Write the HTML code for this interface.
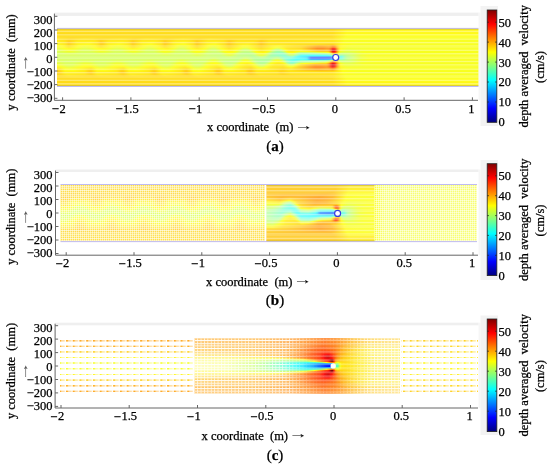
<!DOCTYPE html>
<html><head><meta charset="utf-8"><style>
html,body{margin:0;padding:0;background:#fff;width:550px;height:467px;overflow:hidden}
svg{display:block}
.t{font-family:'Liberation Serif', 'Times New Roman', serif;font-size:12.5px;fill:#000;stroke:#000;stroke-width:0.25px}
</style></head><body>
<svg width="550" height="467" viewBox="0 0 550 467"><defs><linearGradient id="jet" x1="0" y1="0" x2="0" y2="1"><stop offset="0.0000" stop-color="#800000"/><stop offset="0.0156" stop-color="#8f0000"/><stop offset="0.0312" stop-color="#9f0000"/><stop offset="0.0469" stop-color="#af0000"/><stop offset="0.0625" stop-color="#bf0000"/><stop offset="0.0781" stop-color="#cf0000"/><stop offset="0.0938" stop-color="#df0000"/><stop offset="0.1094" stop-color="#ef0000"/><stop offset="0.1250" stop-color="#ff0000"/><stop offset="0.1406" stop-color="#ff1000"/><stop offset="0.1562" stop-color="#ff2000"/><stop offset="0.1719" stop-color="#ff3000"/><stop offset="0.1875" stop-color="#ff4000"/><stop offset="0.2031" stop-color="#ff5000"/><stop offset="0.2188" stop-color="#ff6000"/><stop offset="0.2344" stop-color="#ff7000"/><stop offset="0.2500" stop-color="#ff8000"/><stop offset="0.2656" stop-color="#ff8f00"/><stop offset="0.2812" stop-color="#ff9f00"/><stop offset="0.2969" stop-color="#ffaf00"/><stop offset="0.3125" stop-color="#ffbf00"/><stop offset="0.3281" stop-color="#ffcf00"/><stop offset="0.3438" stop-color="#ffdf00"/><stop offset="0.3594" stop-color="#ffef00"/><stop offset="0.3750" stop-color="#ffff00"/><stop offset="0.3906" stop-color="#efff10"/><stop offset="0.4062" stop-color="#dfff20"/><stop offset="0.4219" stop-color="#cfff30"/><stop offset="0.4375" stop-color="#bfff40"/><stop offset="0.4531" stop-color="#afff50"/><stop offset="0.4688" stop-color="#9fff60"/><stop offset="0.4844" stop-color="#8fff70"/><stop offset="0.5000" stop-color="#80ff80"/><stop offset="0.5156" stop-color="#70ff8f"/><stop offset="0.5312" stop-color="#60ff9f"/><stop offset="0.5469" stop-color="#50ffaf"/><stop offset="0.5625" stop-color="#40ffbf"/><stop offset="0.5781" stop-color="#30ffcf"/><stop offset="0.5938" stop-color="#20ffdf"/><stop offset="0.6094" stop-color="#10ffef"/><stop offset="0.6250" stop-color="#00ffff"/><stop offset="0.6406" stop-color="#00efff"/><stop offset="0.6562" stop-color="#00dfff"/><stop offset="0.6719" stop-color="#00cfff"/><stop offset="0.6875" stop-color="#00bfff"/><stop offset="0.7031" stop-color="#00afff"/><stop offset="0.7188" stop-color="#009fff"/><stop offset="0.7344" stop-color="#008fff"/><stop offset="0.7500" stop-color="#0080ff"/><stop offset="0.7656" stop-color="#0070ff"/><stop offset="0.7812" stop-color="#0060ff"/><stop offset="0.7969" stop-color="#0050ff"/><stop offset="0.8125" stop-color="#0040ff"/><stop offset="0.8281" stop-color="#0030ff"/><stop offset="0.8438" stop-color="#0020ff"/><stop offset="0.8594" stop-color="#0010ff"/><stop offset="0.8750" stop-color="#0000ff"/><stop offset="0.8906" stop-color="#0000ef"/><stop offset="0.9062" stop-color="#0000df"/><stop offset="0.9219" stop-color="#0000cf"/><stop offset="0.9375" stop-color="#0000bf"/><stop offset="0.9531" stop-color="#0000af"/><stop offset="0.9688" stop-color="#00009f"/><stop offset="0.9844" stop-color="#00008f"/><stop offset="1.0000" stop-color="#000080"/></linearGradient><linearGradient id="ga0" gradientUnits="objectBoundingBox" x1="0" y1="0" x2="1" y2="0"><stop offset="0.000" stop-color="#ffda12"/><stop offset="0.654" stop-color="#ffdc12"/><stop offset="0.688" stop-color="#fff612"/><stop offset="1.000" stop-color="#fff712"/></linearGradient><linearGradient id="ga1" gradientUnits="objectBoundingBox" x1="0" y1="0" x2="1" y2="0"><stop offset="0.000" stop-color="#ffda12"/><stop offset="0.654" stop-color="#ffdc12"/><stop offset="0.688" stop-color="#fff612"/><stop offset="1.000" stop-color="#fff712"/></linearGradient><linearGradient id="ga2" gradientUnits="objectBoundingBox" x1="0" y1="0" x2="1" y2="0"><stop offset="0.000" stop-color="#ffda12"/><stop offset="0.654" stop-color="#ffdc12"/><stop offset="0.688" stop-color="#fff812"/><stop offset="1.000" stop-color="#fff812"/></linearGradient><linearGradient id="ga3" gradientUnits="objectBoundingBox" x1="0" y1="0" x2="1" y2="0"><stop offset="0.000" stop-color="#ffdb12"/><stop offset="0.654" stop-color="#ffdd12"/><stop offset="0.688" stop-color="#fffa12"/><stop offset="1.000" stop-color="#fffb12"/></linearGradient><linearGradient id="ga4" gradientUnits="objectBoundingBox" x1="0" y1="0" x2="1" y2="0"><stop offset="0.000" stop-color="#ffdb12"/><stop offset="0.654" stop-color="#ffdd12"/><stop offset="0.688" stop-color="#fffe12"/><stop offset="1.000" stop-color="#fffe12"/></linearGradient><linearGradient id="ga5" gradientUnits="objectBoundingBox" x1="0" y1="0" x2="1" y2="0"><stop offset="0.000" stop-color="#ffdd12"/><stop offset="0.650" stop-color="#ffdb12"/><stop offset="0.688" stop-color="#fdff14"/><stop offset="1.000" stop-color="#fdff14"/></linearGradient><linearGradient id="ga6" gradientUnits="objectBoundingBox" x1="0" y1="0" x2="1" y2="0"><stop offset="0.000" stop-color="#ffe012"/><stop offset="0.033" stop-color="#ffd812"/><stop offset="0.085" stop-color="#ffde12"/><stop offset="0.114" stop-color="#ffda12"/><stop offset="0.166" stop-color="#ffdd12"/><stop offset="0.190" stop-color="#ffda12"/><stop offset="0.242" stop-color="#ffdd12"/><stop offset="0.266" stop-color="#ffda12"/><stop offset="0.313" stop-color="#ffde12"/><stop offset="0.341" stop-color="#ffda12"/><stop offset="0.398" stop-color="#ffdb12"/><stop offset="0.479" stop-color="#ffd812"/><stop offset="0.654" stop-color="#ffe012"/><stop offset="0.683" stop-color="#fcff15"/><stop offset="1.000" stop-color="#faff18"/></linearGradient><linearGradient id="ga7" gradientUnits="objectBoundingBox" x1="0" y1="0" x2="1" y2="0"><stop offset="0.000" stop-color="#ffe512"/><stop offset="0.033" stop-color="#ffd712"/><stop offset="0.066" stop-color="#ffe512"/><stop offset="0.100" stop-color="#ffd912"/><stop offset="0.114" stop-color="#ffdb12"/><stop offset="0.152" stop-color="#ffe412"/><stop offset="0.185" stop-color="#ffd612"/><stop offset="0.213" stop-color="#ffe512"/><stop offset="0.247" stop-color="#ffdd12"/><stop offset="0.261" stop-color="#ffd612"/><stop offset="0.299" stop-color="#ffe612"/><stop offset="0.337" stop-color="#ffd512"/><stop offset="0.365" stop-color="#ffe412"/><stop offset="0.403" stop-color="#ffd712"/><stop offset="0.417" stop-color="#ffda12"/><stop offset="0.470" stop-color="#ffdf12"/><stop offset="0.488" stop-color="#ffd512"/><stop offset="0.512" stop-color="#ffdf12"/><stop offset="0.654" stop-color="#ffe212"/><stop offset="0.683" stop-color="#fbff17"/><stop offset="1.000" stop-color="#f8ff1a"/></linearGradient><linearGradient id="ga8" gradientUnits="objectBoundingBox" x1="0" y1="0" x2="1" y2="0"><stop offset="0.000" stop-color="#ffeb12"/><stop offset="0.019" stop-color="#ffe012"/><stop offset="0.028" stop-color="#ffd212"/><stop offset="0.052" stop-color="#ffe812"/><stop offset="0.090" stop-color="#ffe512"/><stop offset="0.104" stop-color="#ffd112"/><stop offset="0.128" stop-color="#ffe812"/><stop offset="0.166" stop-color="#ffe512"/><stop offset="0.180" stop-color="#ffd112"/><stop offset="0.204" stop-color="#ffe712"/><stop offset="0.237" stop-color="#ffe612"/><stop offset="0.256" stop-color="#ffd112"/><stop offset="0.285" stop-color="#ffea12"/><stop offset="0.313" stop-color="#ffe612"/><stop offset="0.332" stop-color="#ffd012"/><stop offset="0.360" stop-color="#ffe812"/><stop offset="0.394" stop-color="#ffe212"/><stop offset="0.408" stop-color="#ffcf12"/><stop offset="0.432" stop-color="#ffe312"/><stop offset="0.474" stop-color="#ffdd12"/><stop offset="0.484" stop-color="#ffcf12"/><stop offset="0.503" stop-color="#ffe212"/><stop offset="0.654" stop-color="#ffe512"/><stop offset="0.683" stop-color="#faff17"/><stop offset="1.000" stop-color="#f8ff1a"/></linearGradient><linearGradient id="ga9" gradientUnits="objectBoundingBox" x1="0" y1="0" x2="1" y2="0"><stop offset="0.000" stop-color="#fff012"/><stop offset="0.019" stop-color="#ffe212"/><stop offset="0.028" stop-color="#ffce12"/><stop offset="0.038" stop-color="#ffdc12"/><stop offset="0.047" stop-color="#ffeb12"/><stop offset="0.081" stop-color="#ffee12"/><stop offset="0.095" stop-color="#ffe212"/><stop offset="0.104" stop-color="#ffce12"/><stop offset="0.123" stop-color="#ffea12"/><stop offset="0.152" stop-color="#ffef12"/><stop offset="0.171" stop-color="#ffe112"/><stop offset="0.180" stop-color="#ffcd12"/><stop offset="0.190" stop-color="#ffdb12"/><stop offset="0.199" stop-color="#ffea12"/><stop offset="0.228" stop-color="#fff012"/><stop offset="0.247" stop-color="#ffe112"/><stop offset="0.256" stop-color="#ffcc12"/><stop offset="0.266" stop-color="#ffda12"/><stop offset="0.280" stop-color="#ffec12"/><stop offset="0.304" stop-color="#fff112"/><stop offset="0.323" stop-color="#ffe012"/><stop offset="0.332" stop-color="#ffcb12"/><stop offset="0.341" stop-color="#ffda12"/><stop offset="0.356" stop-color="#ffea12"/><stop offset="0.379" stop-color="#ffed12"/><stop offset="0.398" stop-color="#ffde12"/><stop offset="0.408" stop-color="#ffca12"/><stop offset="0.427" stop-color="#ffe512"/><stop offset="0.465" stop-color="#ffe512"/><stop offset="0.479" stop-color="#ffd212"/><stop offset="0.484" stop-color="#ffca12"/><stop offset="0.503" stop-color="#ffe412"/><stop offset="0.654" stop-color="#ffe512"/><stop offset="0.683" stop-color="#faff17"/><stop offset="1.000" stop-color="#f8ff1a"/></linearGradient><linearGradient id="ga10" gradientUnits="objectBoundingBox" x1="0" y1="0" x2="1" y2="0"><stop offset="0.000" stop-color="#fff612"/><stop offset="0.019" stop-color="#ffe412"/><stop offset="0.028" stop-color="#ffcc12"/><stop offset="0.038" stop-color="#ffdd12"/><stop offset="0.047" stop-color="#ffef12"/><stop offset="0.076" stop-color="#fff512"/><stop offset="0.095" stop-color="#ffe412"/><stop offset="0.104" stop-color="#ffcc12"/><stop offset="0.109" stop-color="#ffcf12"/><stop offset="0.119" stop-color="#ffe912"/><stop offset="0.147" stop-color="#fff612"/><stop offset="0.166" stop-color="#ffec12"/><stop offset="0.180" stop-color="#ffcb12"/><stop offset="0.190" stop-color="#ffdc12"/><stop offset="0.199" stop-color="#ffee12"/><stop offset="0.223" stop-color="#fff712"/><stop offset="0.247" stop-color="#ffe212"/><stop offset="0.256" stop-color="#ffca12"/><stop offset="0.261" stop-color="#ffcd12"/><stop offset="0.275" stop-color="#ffed12"/><stop offset="0.299" stop-color="#fffa12"/><stop offset="0.323" stop-color="#ffe112"/><stop offset="0.332" stop-color="#ffc912"/><stop offset="0.341" stop-color="#ffd912"/><stop offset="0.356" stop-color="#ffee12"/><stop offset="0.375" stop-color="#fff512"/><stop offset="0.398" stop-color="#ffde12"/><stop offset="0.408" stop-color="#ffc712"/><stop offset="0.417" stop-color="#ffd712"/><stop offset="0.427" stop-color="#ffe712"/><stop offset="0.455" stop-color="#ffeb12"/><stop offset="0.474" stop-color="#ffdd12"/><stop offset="0.484" stop-color="#ffc612"/><stop offset="0.503" stop-color="#ffe512"/><stop offset="0.550" stop-color="#ffe212"/><stop offset="0.659" stop-color="#ffe512"/><stop offset="0.678" stop-color="#feff13"/><stop offset="0.711" stop-color="#f8ff1a"/><stop offset="1.000" stop-color="#f8ff1a"/></linearGradient><linearGradient id="ga11" gradientUnits="objectBoundingBox" x1="0" y1="0" x2="1" y2="0"><stop offset="0.000" stop-color="#fffc12"/><stop offset="0.019" stop-color="#ffe812"/><stop offset="0.028" stop-color="#ffd112"/><stop offset="0.038" stop-color="#ffe112"/><stop offset="0.052" stop-color="#fff712"/><stop offset="0.076" stop-color="#fffb12"/><stop offset="0.095" stop-color="#ffe812"/><stop offset="0.104" stop-color="#ffd012"/><stop offset="0.109" stop-color="#ffd312"/><stop offset="0.123" stop-color="#fff312"/><stop offset="0.147" stop-color="#fffd12"/><stop offset="0.171" stop-color="#ffe712"/><stop offset="0.180" stop-color="#ffcf12"/><stop offset="0.190" stop-color="#ffe012"/><stop offset="0.204" stop-color="#fff512"/><stop offset="0.223" stop-color="#fffe12"/><stop offset="0.247" stop-color="#ffe512"/><stop offset="0.256" stop-color="#ffcd12"/><stop offset="0.266" stop-color="#ffde12"/><stop offset="0.285" stop-color="#fffb12"/><stop offset="0.304" stop-color="#fffe12"/><stop offset="0.323" stop-color="#ffe412"/><stop offset="0.332" stop-color="#ffcc12"/><stop offset="0.341" stop-color="#ffdc12"/><stop offset="0.360" stop-color="#fff812"/><stop offset="0.375" stop-color="#fffc12"/><stop offset="0.398" stop-color="#ffe012"/><stop offset="0.408" stop-color="#ffc912"/><stop offset="0.417" stop-color="#ffd912"/><stop offset="0.432" stop-color="#ffec12"/><stop offset="0.451" stop-color="#fff312"/><stop offset="0.474" stop-color="#ffde12"/><stop offset="0.484" stop-color="#ffc812"/><stop offset="0.493" stop-color="#ffd712"/><stop offset="0.503" stop-color="#ffe612"/><stop offset="0.531" stop-color="#ffe912"/><stop offset="0.564" stop-color="#ffe112"/><stop offset="0.636" stop-color="#ffd512"/><stop offset="0.654" stop-color="#ffd012"/><stop offset="0.673" stop-color="#fffb12"/><stop offset="0.702" stop-color="#f8ff1b"/><stop offset="1.000" stop-color="#f8ff1a"/></linearGradient><linearGradient id="ga12" gradientUnits="objectBoundingBox" x1="0" y1="0" x2="1" y2="0"><stop offset="0.000" stop-color="#faff18"/><stop offset="0.014" stop-color="#fff712"/><stop offset="0.028" stop-color="#ffda12"/><stop offset="0.038" stop-color="#ffe812"/><stop offset="0.052" stop-color="#fffd12"/><stop offset="0.071" stop-color="#f8ff1a"/><stop offset="0.090" stop-color="#fff612"/><stop offset="0.104" stop-color="#ffda12"/><stop offset="0.128" stop-color="#fffc12"/><stop offset="0.147" stop-color="#f9ff19"/><stop offset="0.166" stop-color="#fff512"/><stop offset="0.180" stop-color="#ffd912"/><stop offset="0.190" stop-color="#ffe612"/><stop offset="0.209" stop-color="#fdff14"/><stop offset="0.223" stop-color="#f7ff1b"/><stop offset="0.237" stop-color="#fff912"/><stop offset="0.256" stop-color="#ffd612"/><stop offset="0.266" stop-color="#ffe412"/><stop offset="0.285" stop-color="#fbff16"/><stop offset="0.294" stop-color="#f2ff24"/><stop offset="0.313" stop-color="#fff912"/><stop offset="0.332" stop-color="#ffd412"/><stop offset="0.341" stop-color="#ffe112"/><stop offset="0.360" stop-color="#ffff12"/><stop offset="0.370" stop-color="#f6ff1d"/><stop offset="0.384" stop-color="#fff912"/><stop offset="0.408" stop-color="#ffd012"/><stop offset="0.441" stop-color="#fffb12"/><stop offset="0.455" stop-color="#fff612"/><stop offset="0.484" stop-color="#ffce12"/><stop offset="0.512" stop-color="#ffee12"/><stop offset="0.526" stop-color="#fff312"/><stop offset="0.560" stop-color="#ffe012"/><stop offset="0.588" stop-color="#ffd612"/><stop offset="0.621" stop-color="#ffb612"/><stop offset="0.645" stop-color="#ffc112"/><stop offset="0.654" stop-color="#ffa912"/><stop offset="0.659" stop-color="#ffb512"/><stop offset="0.669" stop-color="#ffef12"/><stop offset="0.678" stop-color="#fdff14"/><stop offset="0.702" stop-color="#f7ff1c"/><stop offset="1.000" stop-color="#f8ff1a"/></linearGradient><linearGradient id="ga13" gradientUnits="objectBoundingBox" x1="0" y1="0" x2="1" y2="0"><stop offset="0.000" stop-color="#f1ff26"/><stop offset="0.014" stop-color="#fffe12"/><stop offset="0.028" stop-color="#ffe712"/><stop offset="0.047" stop-color="#feff13"/><stop offset="0.066" stop-color="#eeff2b"/><stop offset="0.090" stop-color="#fffd12"/><stop offset="0.104" stop-color="#ffe712"/><stop offset="0.128" stop-color="#faff18"/><stop offset="0.142" stop-color="#efff29"/><stop offset="0.166" stop-color="#fffc12"/><stop offset="0.180" stop-color="#ffe512"/><stop offset="0.204" stop-color="#faff18"/><stop offset="0.218" stop-color="#edff2d"/><stop offset="0.232" stop-color="#f7ff1d"/><stop offset="0.242" stop-color="#fffa12"/><stop offset="0.256" stop-color="#ffe212"/><stop offset="0.280" stop-color="#faff18"/><stop offset="0.294" stop-color="#e8ff38"/><stop offset="0.304" stop-color="#edff2d"/><stop offset="0.313" stop-color="#feff13"/><stop offset="0.332" stop-color="#ffdf12"/><stop offset="0.356" stop-color="#fdff14"/><stop offset="0.370" stop-color="#eaff33"/><stop offset="0.379" stop-color="#f3ff23"/><stop offset="0.384" stop-color="#fcff15"/><stop offset="0.408" stop-color="#ffda12"/><stop offset="0.432" stop-color="#fff712"/><stop offset="0.441" stop-color="#f7ff1c"/><stop offset="0.451" stop-color="#f5ff20"/><stop offset="0.460" stop-color="#fff712"/><stop offset="0.484" stop-color="#ffd612"/><stop offset="0.517" stop-color="#feff13"/><stop offset="0.526" stop-color="#faff17"/><stop offset="0.545" stop-color="#ffe512"/><stop offset="0.579" stop-color="#ffd812"/><stop offset="0.617" stop-color="#ff9412"/><stop offset="0.631" stop-color="#ff9412"/><stop offset="0.645" stop-color="#ffa312"/><stop offset="0.650" stop-color="#ff8b12"/><stop offset="0.654" stop-color="#ff6812"/><stop offset="0.659" stop-color="#ff7c12"/><stop offset="0.664" stop-color="#ffbd12"/><stop offset="0.669" stop-color="#ffe912"/><stop offset="0.673" stop-color="#fffa12"/><stop offset="0.692" stop-color="#f5ff1f"/><stop offset="1.000" stop-color="#f8ff1a"/></linearGradient><linearGradient id="ga14" gradientUnits="objectBoundingBox" x1="0" y1="0" x2="1" y2="0"><stop offset="0.000" stop-color="#e7ff39"/><stop offset="0.019" stop-color="#feff13"/><stop offset="0.033" stop-color="#fff612"/><stop offset="0.047" stop-color="#f5ff1f"/><stop offset="0.066" stop-color="#e5ff3f"/><stop offset="0.081" stop-color="#edff2e"/><stop offset="0.095" stop-color="#ffff12"/><stop offset="0.109" stop-color="#fff512"/><stop offset="0.123" stop-color="#f6ff1d"/><stop offset="0.142" stop-color="#e6ff3d"/><stop offset="0.157" stop-color="#eeff2c"/><stop offset="0.171" stop-color="#fffe12"/><stop offset="0.180" stop-color="#fff212"/><stop offset="0.194" stop-color="#feff13"/><stop offset="0.218" stop-color="#e4ff42"/><stop offset="0.228" stop-color="#e7ff3a"/><stop offset="0.242" stop-color="#fcff15"/><stop offset="0.261" stop-color="#ffef12"/><stop offset="0.275" stop-color="#f9ff19"/><stop offset="0.289" stop-color="#e2ff47"/><stop offset="0.299" stop-color="#e0ff4c"/><stop offset="0.318" stop-color="#feff13"/><stop offset="0.332" stop-color="#ffeb12"/><stop offset="0.351" stop-color="#fdff14"/><stop offset="0.365" stop-color="#e2ff47"/><stop offset="0.370" stop-color="#dfff4f"/><stop offset="0.375" stop-color="#e0ff4c"/><stop offset="0.389" stop-color="#fdff14"/><stop offset="0.408" stop-color="#ffe412"/><stop offset="0.432" stop-color="#fdff14"/><stop offset="0.441" stop-color="#e6ff3d"/><stop offset="0.446" stop-color="#e1ff49"/><stop offset="0.451" stop-color="#e3ff44"/><stop offset="0.460" stop-color="#faff17"/><stop offset="0.484" stop-color="#ffdf12"/><stop offset="0.507" stop-color="#fff712"/><stop offset="0.512" stop-color="#f7ff1c"/><stop offset="0.522" stop-color="#deff52"/><stop offset="0.526" stop-color="#dfff4d"/><stop offset="0.536" stop-color="#fffd12"/><stop offset="0.545" stop-color="#ffe812"/><stop offset="0.579" stop-color="#ffd812"/><stop offset="0.617" stop-color="#ff8412"/><stop offset="0.631" stop-color="#ff8412"/><stop offset="0.640" stop-color="#ff9412"/><stop offset="0.645" stop-color="#ff9012"/><stop offset="0.650" stop-color="#ff6212"/><stop offset="0.654" stop-color="#ff2012"/><stop offset="0.659" stop-color="#ff3812"/><stop offset="0.664" stop-color="#ff9f12"/><stop offset="0.669" stop-color="#ffe412"/><stop offset="0.673" stop-color="#fffb12"/><stop offset="0.688" stop-color="#f1ff25"/><stop offset="0.768" stop-color="#f8ff1a"/><stop offset="1.000" stop-color="#f8ff1a"/></linearGradient><linearGradient id="ga15" gradientUnits="objectBoundingBox" x1="0" y1="0" x2="1" y2="0"><stop offset="0.000" stop-color="#e0ff4c"/><stop offset="0.024" stop-color="#faff18"/><stop offset="0.038" stop-color="#f7ff1b"/><stop offset="0.062" stop-color="#dfff4e"/><stop offset="0.076" stop-color="#e0ff4b"/><stop offset="0.100" stop-color="#fbff17"/><stop offset="0.114" stop-color="#f8ff1a"/><stop offset="0.138" stop-color="#dfff4d"/><stop offset="0.152" stop-color="#e1ff4a"/><stop offset="0.175" stop-color="#fcff15"/><stop offset="0.190" stop-color="#faff17"/><stop offset="0.213" stop-color="#deff51"/><stop offset="0.228" stop-color="#dfff4f"/><stop offset="0.247" stop-color="#fbff17"/><stop offset="0.261" stop-color="#fffa12"/><stop offset="0.270" stop-color="#f8ff1a"/><stop offset="0.285" stop-color="#dfff4e"/><stop offset="0.294" stop-color="#daff5c"/><stop offset="0.304" stop-color="#dcff55"/><stop offset="0.323" stop-color="#feff13"/><stop offset="0.337" stop-color="#fff612"/><stop offset="0.346" stop-color="#fcff15"/><stop offset="0.356" stop-color="#e8ff39"/><stop offset="0.365" stop-color="#d9ff5f"/><stop offset="0.375" stop-color="#d7ff64"/><stop offset="0.379" stop-color="#dbff59"/><stop offset="0.394" stop-color="#feff13"/><stop offset="0.408" stop-color="#ffed12"/><stop offset="0.427" stop-color="#fdff14"/><stop offset="0.432" stop-color="#efff2a"/><stop offset="0.441" stop-color="#d6ff64"/><stop offset="0.446" stop-color="#d2ff6e"/><stop offset="0.451" stop-color="#d3ff6c"/><stop offset="0.455" stop-color="#daff5b"/><stop offset="0.465" stop-color="#fbff17"/><stop offset="0.484" stop-color="#ffe612"/><stop offset="0.503" stop-color="#fff812"/><stop offset="0.507" stop-color="#f5ff1e"/><stop offset="0.517" stop-color="#ccff77"/><stop offset="0.522" stop-color="#c0ff84"/><stop offset="0.526" stop-color="#c1ff83"/><stop offset="0.531" stop-color="#d0ff72"/><stop offset="0.536" stop-color="#e6ff3c"/><stop offset="0.541" stop-color="#fffd12"/><stop offset="0.550" stop-color="#ffe812"/><stop offset="0.579" stop-color="#ffe512"/><stop offset="0.617" stop-color="#ff9c12"/><stop offset="0.631" stop-color="#ff9912"/><stop offset="0.640" stop-color="#ffa412"/><stop offset="0.645" stop-color="#ff9912"/><stop offset="0.650" stop-color="#ff5312"/><stop offset="0.654" stop-color="#dd1212"/><stop offset="0.659" stop-color="#f51212"/><stop offset="0.664" stop-color="#ff8c12"/><stop offset="0.669" stop-color="#ffe412"/><stop offset="0.673" stop-color="#feff13"/><stop offset="0.688" stop-color="#ecff30"/><stop offset="0.740" stop-color="#f8ff1a"/><stop offset="1.000" stop-color="#f8ff1a"/></linearGradient><linearGradient id="ga16" gradientUnits="objectBoundingBox" x1="0" y1="0" x2="1" y2="0"><stop offset="0.000" stop-color="#dbff59"/><stop offset="0.028" stop-color="#f1ff26"/><stop offset="0.043" stop-color="#e8ff39"/><stop offset="0.057" stop-color="#dcff57"/><stop offset="0.076" stop-color="#dbff59"/><stop offset="0.104" stop-color="#f2ff25"/><stop offset="0.119" stop-color="#e9ff37"/><stop offset="0.133" stop-color="#dcff57"/><stop offset="0.152" stop-color="#dbff59"/><stop offset="0.175" stop-color="#f1ff26"/><stop offset="0.185" stop-color="#f3ff22"/><stop offset="0.199" stop-color="#e4ff41"/><stop offset="0.213" stop-color="#d9ff5d"/><stop offset="0.228" stop-color="#d9ff5c"/><stop offset="0.237" stop-color="#e1ff48"/><stop offset="0.251" stop-color="#f7ff1c"/><stop offset="0.266" stop-color="#f5ff1f"/><stop offset="0.285" stop-color="#d9ff5d"/><stop offset="0.304" stop-color="#d8ff61"/><stop offset="0.313" stop-color="#e1ff48"/><stop offset="0.323" stop-color="#f4ff20"/><stop offset="0.332" stop-color="#ffff12"/><stop offset="0.341" stop-color="#faff17"/><stop offset="0.351" stop-color="#e8ff39"/><stop offset="0.360" stop-color="#d6ff64"/><stop offset="0.375" stop-color="#d0ff71"/><stop offset="0.384" stop-color="#d9ff5f"/><stop offset="0.394" stop-color="#f2ff24"/><stop offset="0.398" stop-color="#feff13"/><stop offset="0.413" stop-color="#fff612"/><stop offset="0.422" stop-color="#fcff15"/><stop offset="0.427" stop-color="#eeff2b"/><stop offset="0.436" stop-color="#d2ff6e"/><stop offset="0.446" stop-color="#c5ff7f"/><stop offset="0.455" stop-color="#cbff79"/><stop offset="0.460" stop-color="#d7ff64"/><stop offset="0.470" stop-color="#fcff16"/><stop offset="0.484" stop-color="#ffed12"/><stop offset="0.498" stop-color="#fff812"/><stop offset="0.503" stop-color="#f6ff1e"/><stop offset="0.512" stop-color="#c5ff7f"/><stop offset="0.517" stop-color="#afff95"/><stop offset="0.522" stop-color="#a4ffa3"/><stop offset="0.526" stop-color="#a2ffa5"/><stop offset="0.531" stop-color="#acff98"/><stop offset="0.536" stop-color="#c7ff7d"/><stop offset="0.541" stop-color="#e5ff3e"/><stop offset="0.545" stop-color="#fffc12"/><stop offset="0.555" stop-color="#ffec12"/><stop offset="0.569" stop-color="#fff712"/><stop offset="0.579" stop-color="#f7ff1c"/><stop offset="0.593" stop-color="#fff812"/><stop offset="0.626" stop-color="#ffcc12"/><stop offset="0.640" stop-color="#ffcc12"/><stop offset="0.645" stop-color="#ffba12"/><stop offset="0.650" stop-color="#ff6812"/><stop offset="0.654" stop-color="#e31212"/><stop offset="0.659" stop-color="#f61212"/><stop offset="0.664" stop-color="#ff8f12"/><stop offset="0.669" stop-color="#ffeb12"/><stop offset="0.673" stop-color="#f5ff1f"/><stop offset="0.683" stop-color="#e6ff3c"/><stop offset="0.692" stop-color="#e4ff41"/><stop offset="0.726" stop-color="#f6ff1d"/><stop offset="1.000" stop-color="#f8ff1a"/></linearGradient><linearGradient id="ga17" gradientUnits="objectBoundingBox" x1="0" y1="0" x2="1" y2="0"><stop offset="0.000" stop-color="#d9ff5e"/><stop offset="0.019" stop-color="#e2ff48"/><stop offset="0.033" stop-color="#e6ff3d"/><stop offset="0.057" stop-color="#d9ff5e"/><stop offset="0.085" stop-color="#dbff58"/><stop offset="0.104" stop-color="#e7ff3a"/><stop offset="0.119" stop-color="#e0ff4b"/><stop offset="0.138" stop-color="#d8ff61"/><stop offset="0.161" stop-color="#dbff58"/><stop offset="0.180" stop-color="#e9ff37"/><stop offset="0.194" stop-color="#e1ff49"/><stop offset="0.209" stop-color="#d8ff61"/><stop offset="0.232" stop-color="#d8ff60"/><stop offset="0.256" stop-color="#efff2a"/><stop offset="0.266" stop-color="#ebff33"/><stop offset="0.280" stop-color="#d9ff5e"/><stop offset="0.304" stop-color="#d6ff65"/><stop offset="0.313" stop-color="#dbff59"/><stop offset="0.327" stop-color="#f1ff26"/><stop offset="0.337" stop-color="#f4ff20"/><stop offset="0.346" stop-color="#e7ff3a"/><stop offset="0.356" stop-color="#d6ff65"/><stop offset="0.370" stop-color="#ceff75"/><stop offset="0.384" stop-color="#d1ff70"/><stop offset="0.389" stop-color="#d8ff5f"/><stop offset="0.398" stop-color="#f1ff25"/><stop offset="0.408" stop-color="#ffff12"/><stop offset="0.417" stop-color="#f9ff19"/><stop offset="0.422" stop-color="#eeff2c"/><stop offset="0.432" stop-color="#d1ff70"/><stop offset="0.441" stop-color="#c1ff83"/><stop offset="0.455" stop-color="#beff86"/><stop offset="0.460" stop-color="#c6ff7e"/><stop offset="0.465" stop-color="#d6ff65"/><stop offset="0.470" stop-color="#e9ff36"/><stop offset="0.474" stop-color="#fbff17"/><stop offset="0.488" stop-color="#fff612"/><stop offset="0.493" stop-color="#fffb12"/><stop offset="0.498" stop-color="#f5ff1f"/><stop offset="0.507" stop-color="#c5ff7e"/><stop offset="0.512" stop-color="#abff99"/><stop offset="0.522" stop-color="#99ffb7"/><stop offset="0.531" stop-color="#97ffba"/><stop offset="0.536" stop-color="#a2ffa5"/><stop offset="0.541" stop-color="#c4ff80"/><stop offset="0.545" stop-color="#e5ff40"/><stop offset="0.550" stop-color="#fcff16"/><stop offset="0.560" stop-color="#fffc12"/><stop offset="0.564" stop-color="#f6ff1d"/><stop offset="0.574" stop-color="#d3ff6c"/><stop offset="0.579" stop-color="#c9ff7b"/><stop offset="0.602" stop-color="#d2ff6e"/><stop offset="0.640" stop-color="#f3ff22"/><stop offset="0.645" stop-color="#fff612"/><stop offset="0.650" stop-color="#ffaa12"/><stop offset="0.654" stop-color="#ff4212"/><stop offset="0.659" stop-color="#ff4b12"/><stop offset="0.664" stop-color="#ffab12"/><stop offset="0.669" stop-color="#ffff12"/><stop offset="0.673" stop-color="#e4ff42"/><stop offset="0.678" stop-color="#ddff52"/><stop offset="0.692" stop-color="#dbff57"/><stop offset="0.726" stop-color="#f5ff1f"/><stop offset="1.000" stop-color="#f8ff1a"/></linearGradient><linearGradient id="ga18" gradientUnits="objectBoundingBox" x1="0" y1="0" x2="1" y2="0"><stop offset="0.000" stop-color="#d7ff63"/><stop offset="0.033" stop-color="#deff50"/><stop offset="0.066" stop-color="#d7ff63"/><stop offset="0.095" stop-color="#dcff56"/><stop offset="0.109" stop-color="#dfff4f"/><stop offset="0.133" stop-color="#d7ff62"/><stop offset="0.166" stop-color="#daff5c"/><stop offset="0.185" stop-color="#e0ff4c"/><stop offset="0.204" stop-color="#d7ff62"/><stop offset="0.237" stop-color="#d8ff61"/><stop offset="0.256" stop-color="#e5ff3f"/><stop offset="0.266" stop-color="#e1ff48"/><stop offset="0.280" stop-color="#d6ff64"/><stop offset="0.313" stop-color="#d7ff63"/><stop offset="0.332" stop-color="#eaff34"/><stop offset="0.341" stop-color="#e5ff40"/><stop offset="0.356" stop-color="#d2ff6e"/><stop offset="0.384" stop-color="#ccff77"/><stop offset="0.389" stop-color="#d0ff71"/><stop offset="0.403" stop-color="#edff2d"/><stop offset="0.408" stop-color="#f2ff24"/><stop offset="0.413" stop-color="#f1ff26"/><stop offset="0.417" stop-color="#eaff33"/><stop offset="0.427" stop-color="#d2ff6f"/><stop offset="0.436" stop-color="#c0ff84"/><stop offset="0.460" stop-color="#bbff89"/><stop offset="0.465" stop-color="#c5ff7f"/><stop offset="0.470" stop-color="#d6ff65"/><stop offset="0.474" stop-color="#e7ff3a"/><stop offset="0.479" stop-color="#f5ff1f"/><stop offset="0.484" stop-color="#fbff16"/><stop offset="0.488" stop-color="#faff18"/><stop offset="0.493" stop-color="#f1ff27"/><stop offset="0.503" stop-color="#c7ff7c"/><stop offset="0.512" stop-color="#a0ffa9"/><stop offset="0.531" stop-color="#90ffc7"/><stop offset="0.536" stop-color="#91ffc4"/><stop offset="0.541" stop-color="#9fffab"/><stop offset="0.550" stop-color="#dcff57"/><stop offset="0.555" stop-color="#e6ff3e"/><stop offset="0.560" stop-color="#e1ff48"/><stop offset="0.564" stop-color="#d1ff6f"/><stop offset="0.574" stop-color="#9dffae"/><stop offset="0.579" stop-color="#94ffc0"/><stop offset="0.607" stop-color="#94ffbf"/><stop offset="0.640" stop-color="#a6ffa0"/><stop offset="0.645" stop-color="#b2ff91"/><stop offset="0.650" stop-color="#dbff58"/><stop offset="0.654" stop-color="#ffda12"/><stop offset="0.664" stop-color="#ffda12"/><stop offset="0.669" stop-color="#dcff57"/><stop offset="0.673" stop-color="#c6ff7e"/><stop offset="0.683" stop-color="#ccff77"/><stop offset="0.702" stop-color="#daff5a"/><stop offset="0.721" stop-color="#f0ff27"/><stop offset="0.749" stop-color="#f8ff1a"/><stop offset="1.000" stop-color="#f8ff1a"/></linearGradient><linearGradient id="ga19" gradientUnits="objectBoundingBox" x1="0" y1="0" x2="1" y2="0"><stop offset="0.000" stop-color="#d6ff66"/><stop offset="0.033" stop-color="#daff5b"/><stop offset="0.076" stop-color="#d6ff65"/><stop offset="0.114" stop-color="#d9ff5e"/><stop offset="0.166" stop-color="#d7ff62"/><stop offset="0.185" stop-color="#daff5b"/><stop offset="0.228" stop-color="#d6ff64"/><stop offset="0.247" stop-color="#d9ff5e"/><stop offset="0.261" stop-color="#ddff54"/><stop offset="0.280" stop-color="#d6ff65"/><stop offset="0.318" stop-color="#d7ff63"/><stop offset="0.332" stop-color="#e1ff4a"/><stop offset="0.341" stop-color="#dcff56"/><stop offset="0.356" stop-color="#d1ff70"/><stop offset="0.389" stop-color="#cbff78"/><stop offset="0.398" stop-color="#d7ff62"/><stop offset="0.408" stop-color="#e3ff43"/><stop offset="0.413" stop-color="#e2ff46"/><stop offset="0.427" stop-color="#c7ff7d"/><stop offset="0.465" stop-color="#b9ff8b"/><stop offset="0.470" stop-color="#c4ff80"/><stop offset="0.479" stop-color="#e0ff4b"/><stop offset="0.484" stop-color="#e7ff3b"/><stop offset="0.488" stop-color="#e5ff40"/><stop offset="0.498" stop-color="#c8ff7c"/><stop offset="0.507" stop-color="#a4ffa2"/><stop offset="0.536" stop-color="#8affce"/><stop offset="0.541" stop-color="#8dffca"/><stop offset="0.550" stop-color="#b3ff91"/><stop offset="0.555" stop-color="#bfff85"/><stop offset="0.560" stop-color="#b7ff8d"/><stop offset="0.569" stop-color="#89ffcf"/><stop offset="0.579" stop-color="#5cfff1"/><stop offset="0.607" stop-color="#47ffff"/><stop offset="0.640" stop-color="#4ffffa"/><stop offset="0.645" stop-color="#58fff4"/><stop offset="0.650" stop-color="#77ffdf"/><stop offset="0.654" stop-color="#98ffb9"/><stop offset="0.659" stop-color="#9cffb0"/><stop offset="0.664" stop-color="#ebff31"/><stop offset="0.669" stop-color="#acff98"/><stop offset="0.673" stop-color="#96ffbc"/><stop offset="0.678" stop-color="#9effae"/><stop offset="0.683" stop-color="#b4ff90"/><stop offset="0.692" stop-color="#caff79"/><stop offset="0.707" stop-color="#dbff58"/><stop offset="0.721" stop-color="#efff2a"/><stop offset="0.740" stop-color="#f8ff1b"/><stop offset="1.000" stop-color="#f8ff1a"/></linearGradient><linearGradient id="ga20" gradientUnits="objectBoundingBox" x1="0" y1="0" x2="1" y2="0"><stop offset="0.000" stop-color="#d6ff66"/><stop offset="0.043" stop-color="#d7ff62"/><stop offset="0.270" stop-color="#d6ff64"/><stop offset="0.323" stop-color="#d7ff63"/><stop offset="0.337" stop-color="#d9ff5d"/><stop offset="0.356" stop-color="#d0ff71"/><stop offset="0.394" stop-color="#caff79"/><stop offset="0.408" stop-color="#d7ff64"/><stop offset="0.432" stop-color="#c0ff84"/><stop offset="0.451" stop-color="#c4ff80"/><stop offset="0.465" stop-color="#b5ff8f"/><stop offset="0.474" stop-color="#c1ff83"/><stop offset="0.484" stop-color="#d2ff6d"/><stop offset="0.493" stop-color="#c4ff80"/><stop offset="0.503" stop-color="#a6ff9f"/><stop offset="0.512" stop-color="#a1ffa7"/><stop offset="0.522" stop-color="#a6ff9f"/><stop offset="0.531" stop-color="#96ffbb"/><stop offset="0.541" stop-color="#85ffd3"/><stop offset="0.545" stop-color="#87ffd1"/><stop offset="0.555" stop-color="#97ffbb"/><stop offset="0.560" stop-color="#90ffc6"/><stop offset="0.569" stop-color="#58fff4"/><stop offset="0.574" stop-color="#45fbff"/><stop offset="0.593" stop-color="#3de4ff"/><stop offset="0.602" stop-color="#3bbfff"/><stop offset="0.645" stop-color="#3bb5ff"/><stop offset="0.650" stop-color="#3bc1ff"/><stop offset="0.659" stop-color="#42f5ff"/><stop offset="0.664" stop-color="#ccff78"/><stop offset="0.669" stop-color="#8cffcc"/><stop offset="0.673" stop-color="#63ffec"/><stop offset="0.678" stop-color="#81ffd7"/><stop offset="0.683" stop-color="#a2ffa6"/><stop offset="0.688" stop-color="#baff8a"/><stop offset="0.702" stop-color="#d1ff6f"/><stop offset="0.721" stop-color="#eeff2c"/><stop offset="0.740" stop-color="#f8ff1b"/><stop offset="1.000" stop-color="#f8ff1a"/></linearGradient><linearGradient id="ga21" gradientUnits="objectBoundingBox" x1="0" y1="0" x2="1" y2="0"><stop offset="0.000" stop-color="#d8ff61"/><stop offset="0.057" stop-color="#d7ff61"/><stop offset="0.289" stop-color="#d8ff61"/><stop offset="0.341" stop-color="#d4ff6a"/><stop offset="0.360" stop-color="#d2ff6d"/><stop offset="0.375" stop-color="#d6ff65"/><stop offset="0.389" stop-color="#caff7a"/><stop offset="0.413" stop-color="#ccff78"/><stop offset="0.432" stop-color="#c2ff82"/><stop offset="0.446" stop-color="#d4ff6a"/><stop offset="0.455" stop-color="#caff7a"/><stop offset="0.470" stop-color="#b3ff91"/><stop offset="0.488" stop-color="#bbff89"/><stop offset="0.503" stop-color="#a5ffa1"/><stop offset="0.512" stop-color="#b0ff94"/><stop offset="0.522" stop-color="#c4ff80"/><stop offset="0.526" stop-color="#beff86"/><stop offset="0.531" stop-color="#aaff9b"/><stop offset="0.536" stop-color="#96ffbc"/><stop offset="0.541" stop-color="#86ffd2"/><stop offset="0.555" stop-color="#79ffdd"/><stop offset="0.569" stop-color="#45fcff"/><stop offset="0.588" stop-color="#3eeaff"/><stop offset="0.593" stop-color="#3bdaff"/><stop offset="0.602" stop-color="#3b58ff"/><stop offset="0.607" stop-color="#3b4dff"/><stop offset="0.645" stop-color="#3b50ff"/><stop offset="0.650" stop-color="#3b5dff"/><stop offset="0.654" stop-color="#3b7dff"/><stop offset="0.659" stop-color="#3bceff"/><stop offset="0.664" stop-color="#c8ff7c"/><stop offset="0.669" stop-color="#89ffcf"/><stop offset="0.673" stop-color="#5dfff0"/><stop offset="0.678" stop-color="#7effd9"/><stop offset="0.683" stop-color="#a1ffa8"/><stop offset="0.688" stop-color="#baff8a"/><stop offset="0.702" stop-color="#d1ff70"/><stop offset="0.721" stop-color="#edff2c"/><stop offset="0.740" stop-color="#f8ff1b"/><stop offset="1.000" stop-color="#f8ff1a"/></linearGradient><linearGradient id="ga22" gradientUnits="objectBoundingBox" x1="0" y1="0" x2="1" y2="0"><stop offset="0.000" stop-color="#d9ff5d"/><stop offset="0.038" stop-color="#d6ff66"/><stop offset="0.076" stop-color="#d9ff5e"/><stop offset="0.119" stop-color="#d7ff64"/><stop offset="0.152" stop-color="#d9ff5f"/><stop offset="0.209" stop-color="#d8ff60"/><stop offset="0.223" stop-color="#daff5a"/><stop offset="0.251" stop-color="#d6ff65"/><stop offset="0.280" stop-color="#d7ff63"/><stop offset="0.294" stop-color="#deff50"/><stop offset="0.318" stop-color="#d6ff66"/><stop offset="0.356" stop-color="#d3ff6b"/><stop offset="0.370" stop-color="#e0ff4c"/><stop offset="0.375" stop-color="#dfff4e"/><stop offset="0.389" stop-color="#cdff77"/><stop offset="0.427" stop-color="#c3ff81"/><stop offset="0.432" stop-color="#caff7a"/><stop offset="0.446" stop-color="#e3ff44"/><stop offset="0.451" stop-color="#e1ff48"/><stop offset="0.460" stop-color="#ccff78"/><stop offset="0.470" stop-color="#b3ff90"/><stop offset="0.503" stop-color="#a9ff9c"/><stop offset="0.512" stop-color="#cbff79"/><stop offset="0.517" stop-color="#daff5c"/><stop offset="0.522" stop-color="#e1ff4a"/><stop offset="0.526" stop-color="#ddff53"/><stop offset="0.531" stop-color="#ceff75"/><stop offset="0.541" stop-color="#93ffc2"/><stop offset="0.545" stop-color="#7fffd9"/><stop offset="0.569" stop-color="#47ffff"/><stop offset="0.583" stop-color="#50fff9"/><stop offset="0.593" stop-color="#44f8ff"/><stop offset="0.602" stop-color="#3baeff"/><stop offset="0.631" stop-color="#3ba8ff"/><stop offset="0.645" stop-color="#3bb3ff"/><stop offset="0.650" stop-color="#3bc8ff"/><stop offset="0.654" stop-color="#3ee9ff"/><stop offset="0.659" stop-color="#6dffe5"/><stop offset="0.664" stop-color="#e0ff4a"/><stop offset="0.669" stop-color="#a5ffa1"/><stop offset="0.673" stop-color="#91ffc6"/><stop offset="0.678" stop-color="#99ffb6"/><stop offset="0.683" stop-color="#b1ff93"/><stop offset="0.692" stop-color="#c9ff7b"/><stop offset="0.707" stop-color="#dbff59"/><stop offset="0.721" stop-color="#eeff2b"/><stop offset="0.740" stop-color="#f8ff1b"/><stop offset="1.000" stop-color="#f8ff1a"/></linearGradient><linearGradient id="ga23" gradientUnits="objectBoundingBox" x1="0" y1="0" x2="1" y2="0"><stop offset="0.000" stop-color="#dcff55"/><stop offset="0.033" stop-color="#d6ff64"/><stop offset="0.071" stop-color="#deff52"/><stop offset="0.104" stop-color="#d7ff63"/><stop offset="0.133" stop-color="#dbff58"/><stop offset="0.147" stop-color="#deff51"/><stop offset="0.175" stop-color="#d7ff63"/><stop offset="0.204" stop-color="#d9ff5d"/><stop offset="0.218" stop-color="#e1ff4a"/><stop offset="0.232" stop-color="#dbff59"/><stop offset="0.251" stop-color="#d6ff65"/><stop offset="0.275" stop-color="#d7ff63"/><stop offset="0.294" stop-color="#e6ff3c"/><stop offset="0.304" stop-color="#e2ff47"/><stop offset="0.318" stop-color="#d6ff65"/><stop offset="0.351" stop-color="#d4ff6a"/><stop offset="0.360" stop-color="#e0ff4b"/><stop offset="0.370" stop-color="#ecff30"/><stop offset="0.379" stop-color="#e5ff3e"/><stop offset="0.389" stop-color="#d3ff6c"/><stop offset="0.398" stop-color="#c8ff7c"/><stop offset="0.422" stop-color="#c4ff80"/><stop offset="0.427" stop-color="#caff7a"/><stop offset="0.432" stop-color="#d6ff65"/><stop offset="0.441" stop-color="#efff2a"/><stop offset="0.446" stop-color="#f4ff20"/><stop offset="0.451" stop-color="#f3ff22"/><stop offset="0.455" stop-color="#ebff32"/><stop offset="0.465" stop-color="#cbff78"/><stop offset="0.474" stop-color="#b2ff92"/><stop offset="0.498" stop-color="#abff9a"/><stop offset="0.503" stop-color="#b8ff8c"/><stop offset="0.507" stop-color="#d0ff72"/><stop offset="0.512" stop-color="#e4ff42"/><stop offset="0.517" stop-color="#f4ff21"/><stop offset="0.522" stop-color="#fbff17"/><stop offset="0.526" stop-color="#f8ff1a"/><stop offset="0.531" stop-color="#ebff31"/><stop offset="0.536" stop-color="#d3ff6c"/><stop offset="0.541" stop-color="#abff9a"/><stop offset="0.545" stop-color="#8effc9"/><stop offset="0.550" stop-color="#78ffde"/><stop offset="0.560" stop-color="#60ffee"/><stop offset="0.564" stop-color="#5fffef"/><stop offset="0.579" stop-color="#8cffcc"/><stop offset="0.612" stop-color="#8cffcc"/><stop offset="0.636" stop-color="#96ffbb"/><stop offset="0.640" stop-color="#9bffb2"/><stop offset="0.645" stop-color="#aaff9a"/><stop offset="0.650" stop-color="#d1ff70"/><stop offset="0.654" stop-color="#f2ff24"/><stop offset="0.659" stop-color="#efff2a"/><stop offset="0.664" stop-color="#ffea12"/><stop offset="0.669" stop-color="#d7ff62"/><stop offset="0.673" stop-color="#bfff84"/><stop offset="0.683" stop-color="#c9ff7b"/><stop offset="0.702" stop-color="#d9ff5d"/><stop offset="0.721" stop-color="#f0ff27"/><stop offset="0.749" stop-color="#f8ff1a"/><stop offset="1.000" stop-color="#f8ff1a"/></linearGradient><linearGradient id="ga24" gradientUnits="objectBoundingBox" x1="0" y1="0" x2="1" y2="0"><stop offset="0.000" stop-color="#e2ff46"/><stop offset="0.019" stop-color="#d9ff5e"/><stop offset="0.047" stop-color="#dbff5a"/><stop offset="0.066" stop-color="#e5ff3f"/><stop offset="0.081" stop-color="#dfff4d"/><stop offset="0.095" stop-color="#d8ff5f"/><stop offset="0.123" stop-color="#dbff5a"/><stop offset="0.142" stop-color="#e6ff3d"/><stop offset="0.157" stop-color="#e0ff4c"/><stop offset="0.171" stop-color="#d8ff60"/><stop offset="0.194" stop-color="#d8ff60"/><stop offset="0.218" stop-color="#eaff35"/><stop offset="0.228" stop-color="#e6ff3c"/><stop offset="0.242" stop-color="#d9ff5e"/><stop offset="0.270" stop-color="#d7ff62"/><stop offset="0.280" stop-color="#e0ff4d"/><stop offset="0.289" stop-color="#edff2d"/><stop offset="0.299" stop-color="#f0ff28"/><stop offset="0.308" stop-color="#e4ff41"/><stop offset="0.318" stop-color="#d8ff60"/><stop offset="0.346" stop-color="#d4ff69"/><stop offset="0.351" stop-color="#d9ff5f"/><stop offset="0.365" stop-color="#f4ff21"/><stop offset="0.375" stop-color="#f7ff1b"/><stop offset="0.379" stop-color="#f2ff23"/><stop offset="0.394" stop-color="#d2ff6d"/><stop offset="0.403" stop-color="#c8ff7c"/><stop offset="0.422" stop-color="#cbff79"/><stop offset="0.427" stop-color="#d6ff66"/><stop offset="0.436" stop-color="#f4ff21"/><stop offset="0.441" stop-color="#feff13"/><stop offset="0.455" stop-color="#fcff15"/><stop offset="0.460" stop-color="#efff29"/><stop offset="0.470" stop-color="#caff7a"/><stop offset="0.479" stop-color="#b1ff92"/><stop offset="0.493" stop-color="#aeff96"/><stop offset="0.498" stop-color="#b9ff8b"/><stop offset="0.503" stop-color="#d0ff72"/><stop offset="0.507" stop-color="#e7ff3b"/><stop offset="0.512" stop-color="#fbff16"/><stop offset="0.526" stop-color="#fff412"/><stop offset="0.531" stop-color="#fffa12"/><stop offset="0.536" stop-color="#f1ff26"/><stop offset="0.541" stop-color="#d2ff6d"/><stop offset="0.545" stop-color="#a7ff9f"/><stop offset="0.550" stop-color="#8fffc8"/><stop offset="0.555" stop-color="#80ffd8"/><stop offset="0.560" stop-color="#7dffda"/><stop offset="0.564" stop-color="#89ffcf"/><stop offset="0.574" stop-color="#afff95"/><stop offset="0.579" stop-color="#bfff85"/><stop offset="0.607" stop-color="#d0ff72"/><stop offset="0.636" stop-color="#e5ff3f"/><stop offset="0.640" stop-color="#f0ff27"/><stop offset="0.645" stop-color="#ffe612"/><stop offset="0.650" stop-color="#ff9912"/><stop offset="0.654" stop-color="#ff5e12"/><stop offset="0.659" stop-color="#ff7b12"/><stop offset="0.664" stop-color="#ffb712"/><stop offset="0.669" stop-color="#ffff12"/><stop offset="0.673" stop-color="#e2ff47"/><stop offset="0.678" stop-color="#dbff58"/><stop offset="0.692" stop-color="#daff5b"/><stop offset="0.721" stop-color="#f2ff24"/><stop offset="0.754" stop-color="#f8ff1a"/><stop offset="1.000" stop-color="#f8ff1a"/></linearGradient><linearGradient id="ga25" gradientUnits="objectBoundingBox" x1="0" y1="0" x2="1" y2="0"><stop offset="0.000" stop-color="#ebff31"/><stop offset="0.019" stop-color="#dbff58"/><stop offset="0.038" stop-color="#daff5a"/><stop offset="0.066" stop-color="#eeff2b"/><stop offset="0.076" stop-color="#ecff2f"/><stop offset="0.095" stop-color="#dbff58"/><stop offset="0.114" stop-color="#daff5a"/><stop offset="0.138" stop-color="#edff2c"/><stop offset="0.152" stop-color="#edff2d"/><stop offset="0.171" stop-color="#dbff58"/><stop offset="0.190" stop-color="#daff5c"/><stop offset="0.204" stop-color="#e6ff3d"/><stop offset="0.218" stop-color="#f4ff21"/><stop offset="0.228" stop-color="#f1ff26"/><stop offset="0.247" stop-color="#daff5c"/><stop offset="0.266" stop-color="#d8ff60"/><stop offset="0.275" stop-color="#e0ff4b"/><stop offset="0.285" stop-color="#f1ff26"/><stop offset="0.294" stop-color="#faff17"/><stop offset="0.304" stop-color="#f6ff1d"/><stop offset="0.313" stop-color="#e5ff3f"/><stop offset="0.323" stop-color="#d8ff60"/><stop offset="0.341" stop-color="#d6ff66"/><stop offset="0.346" stop-color="#d9ff5e"/><stop offset="0.360" stop-color="#f7ff1c"/><stop offset="0.370" stop-color="#fffd12"/><stop offset="0.379" stop-color="#feff12"/><stop offset="0.384" stop-color="#f6ff1d"/><stop offset="0.398" stop-color="#d3ff6d"/><stop offset="0.413" stop-color="#caff7a"/><stop offset="0.417" stop-color="#ceff75"/><stop offset="0.422" stop-color="#d6ff65"/><stop offset="0.432" stop-color="#f5ff20"/><stop offset="0.436" stop-color="#fffd12"/><stop offset="0.451" stop-color="#fff312"/><stop offset="0.460" stop-color="#fffe12"/><stop offset="0.465" stop-color="#f0ff27"/><stop offset="0.470" stop-color="#dcff56"/><stop offset="0.474" stop-color="#cbff79"/><stop offset="0.484" stop-color="#b7ff8d"/><stop offset="0.493" stop-color="#bfff85"/><stop offset="0.498" stop-color="#d1ff70"/><stop offset="0.503" stop-color="#e6ff3c"/><stop offset="0.507" stop-color="#fdff14"/><stop offset="0.522" stop-color="#ffec12"/><stop offset="0.531" stop-color="#ffed12"/><stop offset="0.536" stop-color="#fff612"/><stop offset="0.541" stop-color="#f2ff24"/><stop offset="0.545" stop-color="#d1ff70"/><stop offset="0.550" stop-color="#adff97"/><stop offset="0.555" stop-color="#9effae"/><stop offset="0.560" stop-color="#a0ffaa"/><stop offset="0.569" stop-color="#d0ff72"/><stop offset="0.574" stop-color="#e5ff3f"/><stop offset="0.579" stop-color="#f4ff21"/><stop offset="0.588" stop-color="#ffff12"/><stop offset="0.626" stop-color="#ffd712"/><stop offset="0.636" stop-color="#ffd512"/><stop offset="0.640" stop-color="#ffca12"/><stop offset="0.645" stop-color="#ff9b12"/><stop offset="0.650" stop-color="#ff3d12"/><stop offset="0.654" stop-color="#e41212"/><stop offset="0.659" stop-color="#ff2412"/><stop offset="0.664" stop-color="#ff9212"/><stop offset="0.669" stop-color="#ffe512"/><stop offset="0.673" stop-color="#f6ff1e"/><stop offset="0.683" stop-color="#e5ff40"/><stop offset="0.697" stop-color="#e5ff40"/><stop offset="0.726" stop-color="#f6ff1d"/><stop offset="1.000" stop-color="#f8ff1a"/></linearGradient><linearGradient id="ga26" gradientUnits="objectBoundingBox" x1="0" y1="0" x2="1" y2="0"><stop offset="0.000" stop-color="#f7ff1c"/><stop offset="0.024" stop-color="#deff51"/><stop offset="0.038" stop-color="#dfff4e"/><stop offset="0.062" stop-color="#f6ff1d"/><stop offset="0.076" stop-color="#f8ff1b"/><stop offset="0.100" stop-color="#deff50"/><stop offset="0.114" stop-color="#dfff4d"/><stop offset="0.138" stop-color="#f7ff1c"/><stop offset="0.152" stop-color="#f9ff19"/><stop offset="0.175" stop-color="#deff50"/><stop offset="0.190" stop-color="#dfff4e"/><stop offset="0.213" stop-color="#faff17"/><stop offset="0.228" stop-color="#fdff14"/><stop offset="0.237" stop-color="#efff2a"/><stop offset="0.247" stop-color="#dfff4e"/><stop offset="0.261" stop-color="#daff5a"/><stop offset="0.270" stop-color="#e1ff49"/><stop offset="0.285" stop-color="#faff17"/><stop offset="0.308" stop-color="#fbff16"/><stop offset="0.323" stop-color="#ddff52"/><stop offset="0.332" stop-color="#d8ff60"/><stop offset="0.341" stop-color="#daff5a"/><stop offset="0.356" stop-color="#f7ff1c"/><stop offset="0.365" stop-color="#fff812"/><stop offset="0.379" stop-color="#fff512"/><stop offset="0.389" stop-color="#f8ff1a"/><stop offset="0.398" stop-color="#ddff53"/><stop offset="0.403" stop-color="#d6ff66"/><stop offset="0.413" stop-color="#d3ff6c"/><stop offset="0.417" stop-color="#d9ff5f"/><stop offset="0.427" stop-color="#f4ff21"/><stop offset="0.432" stop-color="#fffc12"/><stop offset="0.451" stop-color="#ffec12"/><stop offset="0.460" stop-color="#fff112"/><stop offset="0.465" stop-color="#fffc12"/><stop offset="0.470" stop-color="#f0ff27"/><stop offset="0.474" stop-color="#ddff52"/><stop offset="0.479" stop-color="#d1ff70"/><stop offset="0.484" stop-color="#caff7a"/><stop offset="0.488" stop-color="#ccff78"/><stop offset="0.493" stop-color="#d5ff66"/><stop offset="0.503" stop-color="#fcff15"/><stop offset="0.517" stop-color="#ffe912"/><stop offset="0.536" stop-color="#ffea12"/><stop offset="0.541" stop-color="#fff412"/><stop offset="0.545" stop-color="#f2ff24"/><stop offset="0.550" stop-color="#d8ff5f"/><stop offset="0.555" stop-color="#ccff78"/><stop offset="0.560" stop-color="#d1ff6f"/><stop offset="0.569" stop-color="#feff13"/><stop offset="0.579" stop-color="#ffdf12"/><stop offset="0.612" stop-color="#ffa812"/><stop offset="0.631" stop-color="#ffa812"/><stop offset="0.640" stop-color="#ffa512"/><stop offset="0.645" stop-color="#ff7912"/><stop offset="0.650" stop-color="#ff1a12"/><stop offset="0.654" stop-color="#c31212"/><stop offset="0.659" stop-color="#f71212"/><stop offset="0.664" stop-color="#ff8312"/><stop offset="0.669" stop-color="#ffda12"/><stop offset="0.673" stop-color="#fffe12"/><stop offset="0.683" stop-color="#edff2d"/><stop offset="0.697" stop-color="#ecff30"/><stop offset="0.730" stop-color="#f8ff1b"/><stop offset="1.000" stop-color="#f8ff1a"/></linearGradient><linearGradient id="ga27" gradientUnits="objectBoundingBox" x1="0" y1="0" x2="1" y2="0"><stop offset="0.000" stop-color="#fffb12"/><stop offset="0.009" stop-color="#f8ff1a"/><stop offset="0.024" stop-color="#e5ff3f"/><stop offset="0.033" stop-color="#e4ff41"/><stop offset="0.062" stop-color="#ffff12"/><stop offset="0.081" stop-color="#fffd12"/><stop offset="0.100" stop-color="#e6ff3e"/><stop offset="0.114" stop-color="#e7ff3a"/><stop offset="0.133" stop-color="#fcff15"/><stop offset="0.157" stop-color="#fffc12"/><stop offset="0.166" stop-color="#f1ff26"/><stop offset="0.180" stop-color="#e4ff41"/><stop offset="0.194" stop-color="#ecff2f"/><stop offset="0.209" stop-color="#ffff12"/><stop offset="0.228" stop-color="#fff512"/><stop offset="0.237" stop-color="#fcff15"/><stop offset="0.251" stop-color="#e2ff45"/><stop offset="0.261" stop-color="#e1ff4a"/><stop offset="0.270" stop-color="#eaff33"/><stop offset="0.280" stop-color="#fcff15"/><stop offset="0.304" stop-color="#fff212"/><stop offset="0.313" stop-color="#feff13"/><stop offset="0.327" stop-color="#e0ff4c"/><stop offset="0.337" stop-color="#deff50"/><stop offset="0.346" stop-color="#ebff32"/><stop offset="0.356" stop-color="#fffd12"/><stop offset="0.379" stop-color="#ffeb12"/><stop offset="0.389" stop-color="#fff812"/><stop offset="0.394" stop-color="#f8ff1a"/><stop offset="0.403" stop-color="#e2ff48"/><stop offset="0.408" stop-color="#deff51"/><stop offset="0.413" stop-color="#dfff4e"/><stop offset="0.427" stop-color="#fffd12"/><stop offset="0.446" stop-color="#ffe912"/><stop offset="0.460" stop-color="#ffe712"/><stop offset="0.470" stop-color="#fffc12"/><stop offset="0.474" stop-color="#f2ff24"/><stop offset="0.479" stop-color="#e4ff41"/><stop offset="0.484" stop-color="#deff50"/><stop offset="0.488" stop-color="#e0ff4b"/><stop offset="0.498" stop-color="#fcff15"/><stop offset="0.512" stop-color="#ffe912"/><stop offset="0.536" stop-color="#ffe312"/><stop offset="0.550" stop-color="#fbff17"/><stop offset="0.555" stop-color="#f1ff25"/><stop offset="0.560" stop-color="#f9ff19"/><stop offset="0.574" stop-color="#ffd412"/><stop offset="0.612" stop-color="#ff8812"/><stop offset="0.626" stop-color="#ff8712"/><stop offset="0.636" stop-color="#ff9312"/><stop offset="0.640" stop-color="#ff9112"/><stop offset="0.645" stop-color="#ff7112"/><stop offset="0.650" stop-color="#ff2712"/><stop offset="0.654" stop-color="#e11212"/><stop offset="0.659" stop-color="#ff2412"/><stop offset="0.664" stop-color="#ff8e12"/><stop offset="0.669" stop-color="#ffd912"/><stop offset="0.673" stop-color="#fff912"/><stop offset="0.688" stop-color="#f1ff26"/><stop offset="0.764" stop-color="#f8ff1a"/><stop offset="1.000" stop-color="#f8ff1a"/></linearGradient><linearGradient id="ga28" gradientUnits="objectBoundingBox" x1="0" y1="0" x2="1" y2="0"><stop offset="0.000" stop-color="#ffed12"/><stop offset="0.014" stop-color="#faff17"/><stop offset="0.028" stop-color="#ecff2f"/><stop offset="0.057" stop-color="#fffb12"/><stop offset="0.081" stop-color="#ffee12"/><stop offset="0.090" stop-color="#fbff16"/><stop offset="0.104" stop-color="#edff2d"/><stop offset="0.133" stop-color="#fffa12"/><stop offset="0.157" stop-color="#ffed12"/><stop offset="0.166" stop-color="#fcff15"/><stop offset="0.180" stop-color="#eeff2c"/><stop offset="0.194" stop-color="#f6ff1e"/><stop offset="0.209" stop-color="#fff812"/><stop offset="0.232" stop-color="#ffeb12"/><stop offset="0.242" stop-color="#fcff15"/><stop offset="0.256" stop-color="#e9ff36"/><stop offset="0.266" stop-color="#edff2c"/><stop offset="0.275" stop-color="#fcff15"/><stop offset="0.304" stop-color="#ffe612"/><stop offset="0.313" stop-color="#fff312"/><stop offset="0.318" stop-color="#fcff15"/><stop offset="0.327" stop-color="#e9ff37"/><stop offset="0.337" stop-color="#e7ff3a"/><stop offset="0.351" stop-color="#fffe12"/><stop offset="0.384" stop-color="#ffe212"/><stop offset="0.394" stop-color="#fff912"/><stop offset="0.408" stop-color="#ecff30"/><stop offset="0.417" stop-color="#f6ff1e"/><stop offset="0.422" stop-color="#fffe12"/><stop offset="0.441" stop-color="#ffe812"/><stop offset="0.460" stop-color="#ffdc12"/><stop offset="0.474" stop-color="#fffc12"/><stop offset="0.484" stop-color="#f3ff22"/><stop offset="0.493" stop-color="#ffff12"/><stop offset="0.507" stop-color="#ffe912"/><stop offset="0.536" stop-color="#ffdd12"/><stop offset="0.555" stop-color="#fff112"/><stop offset="0.612" stop-color="#ff8512"/><stop offset="0.626" stop-color="#ff8512"/><stop offset="0.640" stop-color="#ff9412"/><stop offset="0.645" stop-color="#ff8212"/><stop offset="0.650" stop-color="#ff5612"/><stop offset="0.654" stop-color="#ff3912"/><stop offset="0.659" stop-color="#ff5f12"/><stop offset="0.664" stop-color="#ffa912"/><stop offset="0.669" stop-color="#ffdf12"/><stop offset="0.673" stop-color="#fff712"/><stop offset="0.683" stop-color="#f7ff1c"/><stop offset="1.000" stop-color="#f8ff1a"/></linearGradient><linearGradient id="ga29" gradientUnits="objectBoundingBox" x1="0" y1="0" x2="1" y2="0"><stop offset="0.000" stop-color="#ffe112"/><stop offset="0.009" stop-color="#ffeb12"/><stop offset="0.019" stop-color="#fbff16"/><stop offset="0.033" stop-color="#f6ff1d"/><stop offset="0.057" stop-color="#fff512"/><stop offset="0.081" stop-color="#ffe012"/><stop offset="0.095" stop-color="#fcff15"/><stop offset="0.109" stop-color="#f7ff1b"/><stop offset="0.138" stop-color="#fff212"/><stop offset="0.157" stop-color="#ffdf12"/><stop offset="0.171" stop-color="#fdff14"/><stop offset="0.185" stop-color="#f8ff1b"/><stop offset="0.204" stop-color="#fff612"/><stop offset="0.223" stop-color="#ffe512"/><stop offset="0.232" stop-color="#ffdd12"/><stop offset="0.247" stop-color="#fbff16"/><stop offset="0.261" stop-color="#f4ff21"/><stop offset="0.275" stop-color="#fffa12"/><stop offset="0.308" stop-color="#ffdb12"/><stop offset="0.323" stop-color="#faff18"/><stop offset="0.332" stop-color="#f0ff27"/><stop offset="0.346" stop-color="#ffff12"/><stop offset="0.384" stop-color="#ffd612"/><stop offset="0.398" stop-color="#fffb12"/><stop offset="0.413" stop-color="#fcff16"/><stop offset="0.451" stop-color="#ffdc12"/><stop offset="0.460" stop-color="#ffd212"/><stop offset="0.479" stop-color="#fff712"/><stop offset="0.493" stop-color="#fff312"/><stop offset="0.536" stop-color="#ffd712"/><stop offset="0.555" stop-color="#ffe712"/><stop offset="0.593" stop-color="#ffb612"/><stop offset="0.617" stop-color="#ff9a12"/><stop offset="0.640" stop-color="#ffaa12"/><stop offset="0.645" stop-color="#ffa312"/><stop offset="0.654" stop-color="#ff8312"/><stop offset="0.659" stop-color="#ff9c12"/><stop offset="0.664" stop-color="#ffc812"/><stop offset="0.669" stop-color="#ffe812"/><stop offset="0.678" stop-color="#feff13"/><stop offset="0.697" stop-color="#f7ff1c"/><stop offset="1.000" stop-color="#f8ff1a"/></linearGradient><linearGradient id="ga30" gradientUnits="objectBoundingBox" x1="0" y1="0" x2="1" y2="0"><stop offset="0.000" stop-color="#ffd612"/><stop offset="0.005" stop-color="#ffd512"/><stop offset="0.019" stop-color="#fffb12"/><stop offset="0.038" stop-color="#fffd12"/><stop offset="0.066" stop-color="#ffeb12"/><stop offset="0.076" stop-color="#ffd612"/><stop offset="0.081" stop-color="#ffd512"/><stop offset="0.095" stop-color="#fffa12"/><stop offset="0.114" stop-color="#fffc12"/><stop offset="0.142" stop-color="#ffea12"/><stop offset="0.152" stop-color="#ffd512"/><stop offset="0.157" stop-color="#ffd412"/><stop offset="0.171" stop-color="#fff912"/><stop offset="0.190" stop-color="#fffc12"/><stop offset="0.218" stop-color="#ffe912"/><stop offset="0.228" stop-color="#ffd412"/><stop offset="0.232" stop-color="#ffd312"/><stop offset="0.247" stop-color="#fffb12"/><stop offset="0.266" stop-color="#fffe12"/><stop offset="0.294" stop-color="#ffe612"/><stop offset="0.304" stop-color="#ffd212"/><stop offset="0.308" stop-color="#ffd112"/><stop offset="0.323" stop-color="#fffc12"/><stop offset="0.337" stop-color="#fbff16"/><stop offset="0.370" stop-color="#ffe412"/><stop offset="0.379" stop-color="#ffcf12"/><stop offset="0.384" stop-color="#ffcd12"/><stop offset="0.398" stop-color="#fff412"/><stop offset="0.413" stop-color="#fff912"/><stop offset="0.446" stop-color="#ffe212"/><stop offset="0.455" stop-color="#ffcc12"/><stop offset="0.460" stop-color="#ffca12"/><stop offset="0.474" stop-color="#ffec12"/><stop offset="0.493" stop-color="#ffed12"/><stop offset="0.526" stop-color="#ffda12"/><stop offset="0.536" stop-color="#ffd312"/><stop offset="0.550" stop-color="#ffe512"/><stop offset="0.598" stop-color="#ffc612"/><stop offset="0.626" stop-color="#ffbc12"/><stop offset="0.645" stop-color="#ffc312"/><stop offset="0.654" stop-color="#ffba12"/><stop offset="0.669" stop-color="#ffef12"/><stop offset="0.678" stop-color="#feff13"/><stop offset="0.702" stop-color="#f8ff1b"/><stop offset="1.000" stop-color="#f8ff1a"/></linearGradient><linearGradient id="ga31" gradientUnits="objectBoundingBox" x1="0" y1="0" x2="1" y2="0"><stop offset="0.000" stop-color="#ffd112"/><stop offset="0.005" stop-color="#ffcf12"/><stop offset="0.019" stop-color="#fff412"/><stop offset="0.043" stop-color="#fff412"/><stop offset="0.066" stop-color="#ffe712"/><stop offset="0.076" stop-color="#ffd112"/><stop offset="0.081" stop-color="#ffcf12"/><stop offset="0.095" stop-color="#fff412"/><stop offset="0.119" stop-color="#fff312"/><stop offset="0.142" stop-color="#ffe712"/><stop offset="0.152" stop-color="#ffd012"/><stop offset="0.157" stop-color="#ffce12"/><stop offset="0.171" stop-color="#fff312"/><stop offset="0.194" stop-color="#fff312"/><stop offset="0.218" stop-color="#ffe612"/><stop offset="0.228" stop-color="#ffcf12"/><stop offset="0.232" stop-color="#ffcd12"/><stop offset="0.247" stop-color="#fff412"/><stop offset="0.266" stop-color="#fff712"/><stop offset="0.294" stop-color="#ffe412"/><stop offset="0.304" stop-color="#ffce12"/><stop offset="0.308" stop-color="#ffcc12"/><stop offset="0.323" stop-color="#fff512"/><stop offset="0.337" stop-color="#fffb12"/><stop offset="0.370" stop-color="#ffe312"/><stop offset="0.379" stop-color="#ffcb12"/><stop offset="0.384" stop-color="#ffc912"/><stop offset="0.398" stop-color="#ffee12"/><stop offset="0.417" stop-color="#ffef12"/><stop offset="0.446" stop-color="#ffe112"/><stop offset="0.455" stop-color="#ffca12"/><stop offset="0.460" stop-color="#ffc712"/><stop offset="0.474" stop-color="#ffe812"/><stop offset="0.503" stop-color="#ffe512"/><stop offset="0.522" stop-color="#ffe112"/><stop offset="0.531" stop-color="#ffd112"/><stop offset="0.555" stop-color="#ffe412"/><stop offset="0.631" stop-color="#ffd512"/><stop offset="0.654" stop-color="#ffd712"/><stop offset="0.678" stop-color="#feff13"/><stop offset="0.711" stop-color="#f8ff1a"/><stop offset="1.000" stop-color="#f8ff1a"/></linearGradient><linearGradient id="ga32" gradientUnits="objectBoundingBox" x1="0" y1="0" x2="1" y2="0"><stop offset="0.000" stop-color="#ffd112"/><stop offset="0.005" stop-color="#ffcf12"/><stop offset="0.019" stop-color="#ffef12"/><stop offset="0.047" stop-color="#ffed12"/><stop offset="0.066" stop-color="#ffe512"/><stop offset="0.076" stop-color="#ffd112"/><stop offset="0.081" stop-color="#ffcf12"/><stop offset="0.095" stop-color="#ffef12"/><stop offset="0.123" stop-color="#ffec12"/><stop offset="0.142" stop-color="#ffe512"/><stop offset="0.152" stop-color="#ffd112"/><stop offset="0.157" stop-color="#ffcf12"/><stop offset="0.171" stop-color="#ffee12"/><stop offset="0.199" stop-color="#ffec12"/><stop offset="0.218" stop-color="#ffe412"/><stop offset="0.228" stop-color="#ffd012"/><stop offset="0.232" stop-color="#ffce12"/><stop offset="0.247" stop-color="#ffef12"/><stop offset="0.266" stop-color="#fff112"/><stop offset="0.294" stop-color="#ffe312"/><stop offset="0.304" stop-color="#ffcf12"/><stop offset="0.308" stop-color="#ffcd12"/><stop offset="0.323" stop-color="#fff012"/><stop offset="0.341" stop-color="#fff112"/><stop offset="0.370" stop-color="#ffe212"/><stop offset="0.379" stop-color="#ffcd12"/><stop offset="0.384" stop-color="#ffcb12"/><stop offset="0.398" stop-color="#ffea12"/><stop offset="0.422" stop-color="#ffe812"/><stop offset="0.446" stop-color="#ffe112"/><stop offset="0.455" stop-color="#ffcc12"/><stop offset="0.465" stop-color="#ffd212"/><stop offset="0.474" stop-color="#ffe612"/><stop offset="0.522" stop-color="#ffe112"/><stop offset="0.531" stop-color="#ffd312"/><stop offset="0.555" stop-color="#ffe412"/><stop offset="0.654" stop-color="#ffe212"/><stop offset="0.678" stop-color="#feff13"/><stop offset="0.711" stop-color="#f8ff1a"/><stop offset="1.000" stop-color="#f8ff1a"/></linearGradient><linearGradient id="ga33" gradientUnits="objectBoundingBox" x1="0" y1="0" x2="1" y2="0"><stop offset="0.000" stop-color="#ffd412"/><stop offset="0.009" stop-color="#ffda12"/><stop offset="0.024" stop-color="#ffec12"/><stop offset="0.066" stop-color="#ffe312"/><stop offset="0.081" stop-color="#ffd212"/><stop offset="0.095" stop-color="#ffea12"/><stop offset="0.142" stop-color="#ffe212"/><stop offset="0.157" stop-color="#ffd212"/><stop offset="0.175" stop-color="#ffeb12"/><stop offset="0.218" stop-color="#ffe212"/><stop offset="0.232" stop-color="#ffd112"/><stop offset="0.251" stop-color="#ffec12"/><stop offset="0.294" stop-color="#ffe112"/><stop offset="0.308" stop-color="#ffd112"/><stop offset="0.327" stop-color="#ffed12"/><stop offset="0.370" stop-color="#ffe012"/><stop offset="0.384" stop-color="#ffcf12"/><stop offset="0.403" stop-color="#ffe812"/><stop offset="0.446" stop-color="#ffe012"/><stop offset="0.460" stop-color="#ffcf12"/><stop offset="0.479" stop-color="#ffe412"/><stop offset="0.522" stop-color="#ffe012"/><stop offset="0.536" stop-color="#ffd612"/><stop offset="0.555" stop-color="#ffe212"/><stop offset="0.654" stop-color="#ffe412"/><stop offset="0.683" stop-color="#faff17"/><stop offset="1.000" stop-color="#f8ff1a"/></linearGradient><linearGradient id="ga34" gradientUnits="objectBoundingBox" x1="0" y1="0" x2="1" y2="0"><stop offset="0.000" stop-color="#ffd712"/><stop offset="0.028" stop-color="#ffe612"/><stop offset="0.071" stop-color="#ffdb12"/><stop offset="0.085" stop-color="#ffda12"/><stop offset="0.104" stop-color="#ffe612"/><stop offset="0.147" stop-color="#ffdb12"/><stop offset="0.157" stop-color="#ffd512"/><stop offset="0.180" stop-color="#ffe612"/><stop offset="0.223" stop-color="#ffdb12"/><stop offset="0.237" stop-color="#ffd912"/><stop offset="0.256" stop-color="#ffe712"/><stop offset="0.299" stop-color="#ffda12"/><stop offset="0.313" stop-color="#ffd912"/><stop offset="0.332" stop-color="#ffe812"/><stop offset="0.375" stop-color="#ffda12"/><stop offset="0.389" stop-color="#ffd812"/><stop offset="0.408" stop-color="#ffe312"/><stop offset="0.451" stop-color="#ffda12"/><stop offset="0.465" stop-color="#ffd712"/><stop offset="0.484" stop-color="#ffe112"/><stop offset="0.541" stop-color="#ffdb12"/><stop offset="0.654" stop-color="#ffe312"/><stop offset="0.683" stop-color="#fbff17"/><stop offset="1.000" stop-color="#f8ff1a"/></linearGradient><linearGradient id="ga35" gradientUnits="objectBoundingBox" x1="0" y1="0" x2="1" y2="0"><stop offset="0.000" stop-color="#ffd812"/><stop offset="0.043" stop-color="#ffe012"/><stop offset="0.085" stop-color="#ffda12"/><stop offset="0.123" stop-color="#ffdf12"/><stop offset="0.161" stop-color="#ffda12"/><stop offset="0.199" stop-color="#ffde12"/><stop offset="0.237" stop-color="#ffda12"/><stop offset="0.270" stop-color="#ffdf12"/><stop offset="0.313" stop-color="#ffd912"/><stop offset="0.341" stop-color="#ffe012"/><stop offset="0.389" stop-color="#ffd912"/><stop offset="0.446" stop-color="#ffdc12"/><stop offset="0.465" stop-color="#ffd812"/><stop offset="0.654" stop-color="#ffe012"/><stop offset="0.683" stop-color="#fcff15"/><stop offset="1.000" stop-color="#faff18"/></linearGradient><linearGradient id="ga36" gradientUnits="objectBoundingBox" x1="0" y1="0" x2="1" y2="0"><stop offset="0.000" stop-color="#ffd912"/><stop offset="0.327" stop-color="#ffdd12"/><stop offset="0.650" stop-color="#ffdb12"/><stop offset="0.688" stop-color="#fcff15"/><stop offset="1.000" stop-color="#fcff15"/></linearGradient><linearGradient id="ga37" gradientUnits="objectBoundingBox" x1="0" y1="0" x2="1" y2="0"><stop offset="0.000" stop-color="#ffd912"/><stop offset="0.654" stop-color="#ffdd12"/><stop offset="0.688" stop-color="#fffe12"/><stop offset="1.000" stop-color="#fffe12"/></linearGradient><linearGradient id="ga38" gradientUnits="objectBoundingBox" x1="0" y1="0" x2="1" y2="0"><stop offset="0.000" stop-color="#ffda12"/><stop offset="0.654" stop-color="#ffdd12"/><stop offset="0.688" stop-color="#fffb12"/><stop offset="1.000" stop-color="#fffb12"/></linearGradient><linearGradient id="ga39" gradientUnits="objectBoundingBox" x1="0" y1="0" x2="1" y2="0"><stop offset="0.000" stop-color="#ffda12"/><stop offset="0.654" stop-color="#ffdc12"/><stop offset="0.688" stop-color="#fff812"/><stop offset="1.000" stop-color="#fff812"/></linearGradient><linearGradient id="ga40" gradientUnits="objectBoundingBox" x1="0" y1="0" x2="1" y2="0"><stop offset="0.000" stop-color="#ffda12"/><stop offset="0.654" stop-color="#ffdc12"/><stop offset="0.688" stop-color="#fff712"/><stop offset="1.000" stop-color="#fff712"/></linearGradient><linearGradient id="ga41" gradientUnits="objectBoundingBox" x1="0" y1="0" x2="1" y2="0"><stop offset="0.000" stop-color="#ffda12"/><stop offset="0.654" stop-color="#ffdc12"/><stop offset="0.688" stop-color="#fff612"/><stop offset="1.000" stop-color="#fff712"/></linearGradient><pattern id="stripeA" patternUnits="userSpaceOnUse" x="0" y="28.40" width="10" height="2.7238"><rect x="0" y="0" width="10" height="0.8" fill="#fff" fill-opacity="0.25"/></pattern><linearGradient id="gbl0" gradientUnits="objectBoundingBox" x1="0" y1="0" x2="1" y2="0"><stop offset="0.000" stop-color="#ffe04c"/><stop offset="1.000" stop-color="#ffe04c"/></linearGradient><linearGradient id="gbl1" gradientUnits="objectBoundingBox" x1="0" y1="0" x2="1" y2="0"><stop offset="0.000" stop-color="#ffe04c"/><stop offset="1.000" stop-color="#ffe04c"/></linearGradient><linearGradient id="gbl2" gradientUnits="objectBoundingBox" x1="0" y1="0" x2="1" y2="0"><stop offset="0.000" stop-color="#ffdf4c"/><stop offset="1.000" stop-color="#ffe04c"/></linearGradient><linearGradient id="gbl3" gradientUnits="objectBoundingBox" x1="0" y1="0" x2="1" y2="0"><stop offset="0.000" stop-color="#ffdc4c"/><stop offset="0.157" stop-color="#ffdc4c"/><stop offset="0.313" stop-color="#ffdc4c"/><stop offset="0.470" stop-color="#ffdc4c"/><stop offset="0.627" stop-color="#ffdc4c"/><stop offset="0.783" stop-color="#ffdc4c"/><stop offset="0.940" stop-color="#ffdc4c"/><stop offset="1.000" stop-color="#ffe04c"/></linearGradient><linearGradient id="gbl4" gradientUnits="objectBoundingBox" x1="0" y1="0" x2="1" y2="0"><stop offset="0.000" stop-color="#ffd74c"/><stop offset="0.039" stop-color="#ffd84c"/><stop offset="0.069" stop-color="#ffe14c"/><stop offset="0.137" stop-color="#ffe04c"/><stop offset="0.176" stop-color="#ffd44c"/><stop offset="0.225" stop-color="#ffe14c"/><stop offset="0.294" stop-color="#ffe04c"/><stop offset="0.333" stop-color="#ffd44c"/><stop offset="0.382" stop-color="#ffe14c"/><stop offset="0.450" stop-color="#ffe04c"/><stop offset="0.489" stop-color="#ffd44c"/><stop offset="0.538" stop-color="#ffe14c"/><stop offset="0.607" stop-color="#ffe04c"/><stop offset="0.646" stop-color="#ffd44c"/><stop offset="0.695" stop-color="#ffe14c"/><stop offset="0.764" stop-color="#ffe04c"/><stop offset="0.803" stop-color="#ffd44c"/><stop offset="0.852" stop-color="#ffe14c"/><stop offset="0.920" stop-color="#ffe04c"/><stop offset="0.959" stop-color="#ffd44c"/><stop offset="1.000" stop-color="#ffe14c"/></linearGradient><linearGradient id="gbl5" gradientUnits="objectBoundingBox" x1="0" y1="0" x2="1" y2="0"><stop offset="0.000" stop-color="#ffdc4c"/><stop offset="0.029" stop-color="#ffd94c"/><stop offset="0.059" stop-color="#ffec4c"/><stop offset="0.137" stop-color="#ffea4c"/><stop offset="0.166" stop-color="#ffd84c"/><stop offset="0.196" stop-color="#ffdf4c"/><stop offset="0.215" stop-color="#ffec4c"/><stop offset="0.294" stop-color="#ffea4c"/><stop offset="0.323" stop-color="#ffd84c"/><stop offset="0.352" stop-color="#ffdf4c"/><stop offset="0.372" stop-color="#ffec4c"/><stop offset="0.450" stop-color="#ffea4c"/><stop offset="0.480" stop-color="#ffd84c"/><stop offset="0.509" stop-color="#ffdf4c"/><stop offset="0.529" stop-color="#ffec4c"/><stop offset="0.607" stop-color="#ffea4c"/><stop offset="0.636" stop-color="#ffd84c"/><stop offset="0.666" stop-color="#ffdf4c"/><stop offset="0.685" stop-color="#ffec4c"/><stop offset="0.764" stop-color="#ffea4c"/><stop offset="0.793" stop-color="#ffd84c"/><stop offset="0.822" stop-color="#ffdf4c"/><stop offset="0.842" stop-color="#ffec4c"/><stop offset="0.920" stop-color="#ffea4c"/><stop offset="0.950" stop-color="#ffd84c"/><stop offset="0.979" stop-color="#ffdf4c"/><stop offset="1.000" stop-color="#ffec4c"/></linearGradient><linearGradient id="gbl6" gradientUnits="objectBoundingBox" x1="0" y1="0" x2="1" y2="0"><stop offset="0.000" stop-color="#ffe74c"/><stop offset="0.029" stop-color="#ffe54c"/><stop offset="0.059" stop-color="#fff94d"/><stop offset="0.137" stop-color="#fff64c"/><stop offset="0.166" stop-color="#ffe34c"/><stop offset="0.196" stop-color="#ffea4c"/><stop offset="0.215" stop-color="#fff94d"/><stop offset="0.294" stop-color="#fff64c"/><stop offset="0.323" stop-color="#ffe34c"/><stop offset="0.352" stop-color="#ffea4c"/><stop offset="0.372" stop-color="#fff94d"/><stop offset="0.450" stop-color="#fff64c"/><stop offset="0.480" stop-color="#ffe34c"/><stop offset="0.509" stop-color="#ffea4c"/><stop offset="0.529" stop-color="#fff94d"/><stop offset="0.607" stop-color="#fff64c"/><stop offset="0.636" stop-color="#ffe34c"/><stop offset="0.666" stop-color="#ffea4c"/><stop offset="0.685" stop-color="#fff94d"/><stop offset="0.764" stop-color="#fff64c"/><stop offset="0.793" stop-color="#ffe34c"/><stop offset="0.822" stop-color="#ffea4c"/><stop offset="0.842" stop-color="#fff94d"/><stop offset="0.920" stop-color="#fff64c"/><stop offset="0.950" stop-color="#ffe34c"/><stop offset="0.979" stop-color="#ffea4c"/><stop offset="1.000" stop-color="#fff94d"/></linearGradient><linearGradient id="gbl7" gradientUnits="objectBoundingBox" x1="0" y1="0" x2="1" y2="0"><stop offset="0.000" stop-color="#ffee4c"/><stop offset="0.029" stop-color="#ffec4c"/><stop offset="0.069" stop-color="#feff4f"/><stop offset="0.098" stop-color="#f6ff59"/><stop offset="0.137" stop-color="#fffa4d"/><stop offset="0.176" stop-color="#ffea4c"/><stop offset="0.225" stop-color="#feff4f"/><stop offset="0.255" stop-color="#f6ff59"/><stop offset="0.294" stop-color="#fffa4d"/><stop offset="0.333" stop-color="#ffea4c"/><stop offset="0.382" stop-color="#feff4f"/><stop offset="0.411" stop-color="#f6ff59"/><stop offset="0.450" stop-color="#fffa4d"/><stop offset="0.489" stop-color="#ffea4c"/><stop offset="0.538" stop-color="#feff4f"/><stop offset="0.568" stop-color="#f6ff59"/><stop offset="0.607" stop-color="#fffa4d"/><stop offset="0.646" stop-color="#ffea4c"/><stop offset="0.695" stop-color="#feff4f"/><stop offset="0.724" stop-color="#f6ff59"/><stop offset="0.764" stop-color="#fffa4d"/><stop offset="0.803" stop-color="#ffea4c"/><stop offset="0.852" stop-color="#feff4f"/><stop offset="0.881" stop-color="#f6ff59"/><stop offset="0.920" stop-color="#fffa4d"/><stop offset="0.959" stop-color="#ffea4c"/><stop offset="1.000" stop-color="#fffd4d"/></linearGradient><linearGradient id="gbl8" gradientUnits="objectBoundingBox" x1="0" y1="0" x2="1" y2="0"><stop offset="0.000" stop-color="#fff74c"/><stop offset="0.039" stop-color="#fff94d"/><stop offset="0.049" stop-color="#feff4e"/><stop offset="0.088" stop-color="#e7ff70"/><stop offset="0.117" stop-color="#ecff68"/><stop offset="0.147" stop-color="#fffc4d"/><stop offset="0.186" stop-color="#fff64c"/><stop offset="0.206" stop-color="#feff4e"/><stop offset="0.245" stop-color="#e7ff70"/><stop offset="0.274" stop-color="#ecff68"/><stop offset="0.303" stop-color="#fffc4d"/><stop offset="0.343" stop-color="#fff64c"/><stop offset="0.362" stop-color="#feff4e"/><stop offset="0.401" stop-color="#e7ff70"/><stop offset="0.431" stop-color="#ecff68"/><stop offset="0.460" stop-color="#fffc4d"/><stop offset="0.499" stop-color="#fff64c"/><stop offset="0.519" stop-color="#feff4e"/><stop offset="0.558" stop-color="#e7ff70"/><stop offset="0.587" stop-color="#ecff68"/><stop offset="0.617" stop-color="#fffc4d"/><stop offset="0.656" stop-color="#fff64c"/><stop offset="0.675" stop-color="#feff4e"/><stop offset="0.715" stop-color="#e7ff70"/><stop offset="0.744" stop-color="#ecff68"/><stop offset="0.773" stop-color="#fffc4d"/><stop offset="0.813" stop-color="#fff64c"/><stop offset="0.832" stop-color="#feff4e"/><stop offset="0.871" stop-color="#e7ff70"/><stop offset="0.901" stop-color="#ecff68"/><stop offset="0.930" stop-color="#fffc4d"/><stop offset="0.969" stop-color="#fff64c"/><stop offset="0.989" stop-color="#feff4e"/><stop offset="1.000" stop-color="#f5ff5b"/></linearGradient><linearGradient id="gbl9" gradientUnits="objectBoundingBox" x1="0" y1="0" x2="1" y2="0"><stop offset="0.000" stop-color="#f7ff57"/><stop offset="0.029" stop-color="#f9ff54"/><stop offset="0.069" stop-color="#e3ff76"/><stop offset="0.127" stop-color="#e4ff74"/><stop offset="0.166" stop-color="#fbff52"/><stop offset="0.196" stop-color="#f4ff5b"/><stop offset="0.225" stop-color="#e3ff76"/><stop offset="0.284" stop-color="#e4ff74"/><stop offset="0.323" stop-color="#fbff52"/><stop offset="0.352" stop-color="#f4ff5b"/><stop offset="0.382" stop-color="#e3ff76"/><stop offset="0.441" stop-color="#e4ff74"/><stop offset="0.480" stop-color="#fbff52"/><stop offset="0.509" stop-color="#f4ff5b"/><stop offset="0.538" stop-color="#e3ff76"/><stop offset="0.597" stop-color="#e4ff74"/><stop offset="0.636" stop-color="#fbff52"/><stop offset="0.666" stop-color="#f4ff5b"/><stop offset="0.695" stop-color="#e3ff76"/><stop offset="0.754" stop-color="#e4ff74"/><stop offset="0.793" stop-color="#fbff52"/><stop offset="0.822" stop-color="#f4ff5b"/><stop offset="0.852" stop-color="#e3ff76"/><stop offset="0.910" stop-color="#e4ff74"/><stop offset="0.950" stop-color="#fbff52"/><stop offset="0.979" stop-color="#f4ff5b"/><stop offset="1.000" stop-color="#e6ff72"/></linearGradient><linearGradient id="gbl10" gradientUnits="objectBoundingBox" x1="0" y1="0" x2="1" y2="0"><stop offset="0.000" stop-color="#e7ff70"/><stop offset="0.029" stop-color="#e8ff6e"/><stop offset="0.059" stop-color="#e2ff78"/><stop offset="0.108" stop-color="#e5ff72"/><stop offset="0.137" stop-color="#e2ff78"/><stop offset="0.176" stop-color="#eaff6b"/><stop offset="0.215" stop-color="#e2ff78"/><stop offset="0.264" stop-color="#e5ff72"/><stop offset="0.294" stop-color="#e2ff78"/><stop offset="0.333" stop-color="#eaff6b"/><stop offset="0.372" stop-color="#e2ff78"/><stop offset="0.421" stop-color="#e5ff72"/><stop offset="0.450" stop-color="#e2ff78"/><stop offset="0.489" stop-color="#eaff6b"/><stop offset="0.529" stop-color="#e2ff78"/><stop offset="0.578" stop-color="#e5ff72"/><stop offset="0.607" stop-color="#e2ff78"/><stop offset="0.646" stop-color="#eaff6b"/><stop offset="0.685" stop-color="#e2ff78"/><stop offset="0.734" stop-color="#e5ff72"/><stop offset="0.764" stop-color="#e2ff78"/><stop offset="0.803" stop-color="#eaff6b"/><stop offset="0.842" stop-color="#e2ff78"/><stop offset="0.891" stop-color="#e5ff72"/><stop offset="0.920" stop-color="#e2ff78"/><stop offset="0.959" stop-color="#eaff6b"/><stop offset="1.000" stop-color="#e2ff78"/></linearGradient><linearGradient id="gbl11" gradientUnits="objectBoundingBox" x1="0" y1="0" x2="1" y2="0"><stop offset="0.000" stop-color="#e2ff78"/><stop offset="0.049" stop-color="#e3ff76"/><stop offset="0.088" stop-color="#f7ff58"/><stop offset="0.117" stop-color="#f0ff61"/><stop offset="0.147" stop-color="#e2ff78"/><stop offset="0.206" stop-color="#e3ff76"/><stop offset="0.245" stop-color="#f7ff58"/><stop offset="0.274" stop-color="#f0ff61"/><stop offset="0.303" stop-color="#e2ff78"/><stop offset="0.362" stop-color="#e3ff76"/><stop offset="0.401" stop-color="#f7ff58"/><stop offset="0.431" stop-color="#f0ff61"/><stop offset="0.460" stop-color="#e2ff78"/><stop offset="0.519" stop-color="#e3ff76"/><stop offset="0.558" stop-color="#f7ff58"/><stop offset="0.587" stop-color="#f0ff61"/><stop offset="0.617" stop-color="#e2ff78"/><stop offset="0.675" stop-color="#e3ff76"/><stop offset="0.715" stop-color="#f7ff58"/><stop offset="0.744" stop-color="#f0ff61"/><stop offset="0.773" stop-color="#e2ff78"/><stop offset="0.832" stop-color="#e3ff76"/><stop offset="0.871" stop-color="#f7ff58"/><stop offset="0.901" stop-color="#f0ff61"/><stop offset="0.930" stop-color="#e2ff78"/><stop offset="0.989" stop-color="#e3ff76"/><stop offset="1.000" stop-color="#e7ff6f"/></linearGradient><linearGradient id="gbl12" gradientUnits="objectBoundingBox" x1="0" y1="0" x2="1" y2="0"><stop offset="0.000" stop-color="#e7ff70"/><stop offset="0.029" stop-color="#e5ff72"/><stop offset="0.059" stop-color="#f6ff58"/><stop offset="0.069" stop-color="#ffff4d"/><stop offset="0.098" stop-color="#fff74c"/><stop offset="0.127" stop-color="#fbff52"/><stop offset="0.157" stop-color="#e7ff70"/><stop offset="0.186" stop-color="#e5ff72"/><stop offset="0.215" stop-color="#f6ff58"/><stop offset="0.225" stop-color="#ffff4d"/><stop offset="0.255" stop-color="#fff74c"/><stop offset="0.284" stop-color="#fbff52"/><stop offset="0.313" stop-color="#e7ff70"/><stop offset="0.343" stop-color="#e5ff72"/><stop offset="0.372" stop-color="#f6ff58"/><stop offset="0.382" stop-color="#ffff4d"/><stop offset="0.411" stop-color="#fff74c"/><stop offset="0.441" stop-color="#fbff52"/><stop offset="0.470" stop-color="#e7ff70"/><stop offset="0.499" stop-color="#e5ff72"/><stop offset="0.529" stop-color="#f6ff58"/><stop offset="0.538" stop-color="#ffff4d"/><stop offset="0.568" stop-color="#fff74c"/><stop offset="0.597" stop-color="#fbff52"/><stop offset="0.627" stop-color="#e7ff70"/><stop offset="0.656" stop-color="#e5ff72"/><stop offset="0.685" stop-color="#f6ff58"/><stop offset="0.695" stop-color="#ffff4d"/><stop offset="0.724" stop-color="#fff74c"/><stop offset="0.754" stop-color="#fbff52"/><stop offset="0.783" stop-color="#e7ff70"/><stop offset="0.813" stop-color="#e5ff72"/><stop offset="0.842" stop-color="#f6ff58"/><stop offset="0.852" stop-color="#ffff4d"/><stop offset="0.881" stop-color="#fff74c"/><stop offset="0.910" stop-color="#fbff52"/><stop offset="0.940" stop-color="#e7ff70"/><stop offset="0.969" stop-color="#e5ff72"/><stop offset="1.000" stop-color="#f8ff56"/></linearGradient><linearGradient id="gbl13" gradientUnits="objectBoundingBox" x1="0" y1="0" x2="1" y2="0"><stop offset="0.000" stop-color="#f6ff59"/><stop offset="0.020" stop-color="#f2ff5f"/><stop offset="0.059" stop-color="#fffb4d"/><stop offset="0.098" stop-color="#ffec4c"/><stop offset="0.147" stop-color="#fbff52"/><stop offset="0.176" stop-color="#f2ff5f"/><stop offset="0.215" stop-color="#fffb4d"/><stop offset="0.255" stop-color="#ffec4c"/><stop offset="0.303" stop-color="#fbff52"/><stop offset="0.333" stop-color="#f2ff5f"/><stop offset="0.372" stop-color="#fffb4d"/><stop offset="0.411" stop-color="#ffec4c"/><stop offset="0.460" stop-color="#fbff52"/><stop offset="0.489" stop-color="#f2ff5f"/><stop offset="0.529" stop-color="#fffb4d"/><stop offset="0.568" stop-color="#ffec4c"/><stop offset="0.617" stop-color="#fbff52"/><stop offset="0.646" stop-color="#f2ff5f"/><stop offset="0.685" stop-color="#fffb4d"/><stop offset="0.724" stop-color="#ffec4c"/><stop offset="0.773" stop-color="#fbff52"/><stop offset="0.803" stop-color="#f2ff5f"/><stop offset="0.842" stop-color="#fffb4d"/><stop offset="0.881" stop-color="#ffec4c"/><stop offset="0.930" stop-color="#fbff52"/><stop offset="0.959" stop-color="#f2ff5f"/><stop offset="1.000" stop-color="#fffa4d"/></linearGradient><linearGradient id="gbl14" gradientUnits="objectBoundingBox" x1="0" y1="0" x2="1" y2="0"><stop offset="0.000" stop-color="#fffc4d"/><stop offset="0.059" stop-color="#fff84c"/><stop offset="0.088" stop-color="#ffe54c"/><stop offset="0.117" stop-color="#ffec4c"/><stop offset="0.147" stop-color="#fffb4d"/><stop offset="0.206" stop-color="#fffa4d"/><stop offset="0.255" stop-color="#ffe44c"/><stop offset="0.303" stop-color="#fffb4d"/><stop offset="0.362" stop-color="#fffa4d"/><stop offset="0.411" stop-color="#ffe44c"/><stop offset="0.460" stop-color="#fffb4d"/><stop offset="0.519" stop-color="#fffa4d"/><stop offset="0.568" stop-color="#ffe44c"/><stop offset="0.617" stop-color="#fffb4d"/><stop offset="0.675" stop-color="#fffa4d"/><stop offset="0.724" stop-color="#ffe44c"/><stop offset="0.773" stop-color="#fffb4d"/><stop offset="0.832" stop-color="#fffa4d"/><stop offset="0.881" stop-color="#ffe44c"/><stop offset="0.930" stop-color="#fffb4d"/><stop offset="0.989" stop-color="#fffa4d"/><stop offset="1.000" stop-color="#fff64c"/></linearGradient><linearGradient id="gbl15" gradientUnits="objectBoundingBox" x1="0" y1="0" x2="1" y2="0"><stop offset="0.000" stop-color="#fff04c"/><stop offset="0.059" stop-color="#ffed4c"/><stop offset="0.088" stop-color="#ffda4c"/><stop offset="0.117" stop-color="#ffe14c"/><stop offset="0.137" stop-color="#ffef4c"/><stop offset="0.215" stop-color="#ffed4c"/><stop offset="0.245" stop-color="#ffda4c"/><stop offset="0.274" stop-color="#ffe14c"/><stop offset="0.294" stop-color="#ffef4c"/><stop offset="0.372" stop-color="#ffed4c"/><stop offset="0.401" stop-color="#ffda4c"/><stop offset="0.431" stop-color="#ffe14c"/><stop offset="0.450" stop-color="#ffef4c"/><stop offset="0.529" stop-color="#ffed4c"/><stop offset="0.558" stop-color="#ffda4c"/><stop offset="0.587" stop-color="#ffe14c"/><stop offset="0.607" stop-color="#ffef4c"/><stop offset="0.685" stop-color="#ffed4c"/><stop offset="0.715" stop-color="#ffda4c"/><stop offset="0.744" stop-color="#ffe14c"/><stop offset="0.764" stop-color="#ffef4c"/><stop offset="0.842" stop-color="#ffed4c"/><stop offset="0.871" stop-color="#ffda4c"/><stop offset="0.901" stop-color="#ffe14c"/><stop offset="0.920" stop-color="#ffef4c"/><stop offset="1.000" stop-color="#ffec4c"/></linearGradient><linearGradient id="gbl16" gradientUnits="objectBoundingBox" x1="0" y1="0" x2="1" y2="0"><stop offset="0.000" stop-color="#ffe34c"/><stop offset="0.059" stop-color="#ffe14c"/><stop offset="0.098" stop-color="#ffd34c"/><stop offset="0.147" stop-color="#ffe34c"/><stop offset="0.215" stop-color="#ffe14c"/><stop offset="0.255" stop-color="#ffd34c"/><stop offset="0.303" stop-color="#ffe34c"/><stop offset="0.372" stop-color="#ffe14c"/><stop offset="0.411" stop-color="#ffd34c"/><stop offset="0.460" stop-color="#ffe34c"/><stop offset="0.529" stop-color="#ffe14c"/><stop offset="0.568" stop-color="#ffd34c"/><stop offset="0.617" stop-color="#ffe34c"/><stop offset="0.685" stop-color="#ffe14c"/><stop offset="0.724" stop-color="#ffd34c"/><stop offset="0.773" stop-color="#ffe34c"/><stop offset="0.842" stop-color="#ffe14c"/><stop offset="0.881" stop-color="#ffd34c"/><stop offset="0.930" stop-color="#ffe34c"/><stop offset="1.000" stop-color="#ffe04c"/></linearGradient><linearGradient id="gbl17" gradientUnits="objectBoundingBox" x1="0" y1="0" x2="1" y2="0"><stop offset="0.000" stop-color="#ffe04c"/><stop offset="0.078" stop-color="#ffdb4c"/><stop offset="0.215" stop-color="#ffe04c"/><stop offset="0.264" stop-color="#ffda4c"/><stop offset="0.352" stop-color="#ffe04c"/><stop offset="0.421" stop-color="#ffda4c"/><stop offset="0.509" stop-color="#ffe04c"/><stop offset="0.578" stop-color="#ffda4c"/><stop offset="0.666" stop-color="#ffe04c"/><stop offset="0.734" stop-color="#ffda4c"/><stop offset="0.822" stop-color="#ffe04c"/><stop offset="0.891" stop-color="#ffda4c"/><stop offset="0.979" stop-color="#ffe04c"/><stop offset="1.000" stop-color="#ffdf4c"/></linearGradient><linearGradient id="gbl18" gradientUnits="objectBoundingBox" x1="0" y1="0" x2="1" y2="0"><stop offset="0.000" stop-color="#ffe04c"/><stop offset="1.000" stop-color="#ffe04c"/></linearGradient><linearGradient id="gbl19" gradientUnits="objectBoundingBox" x1="0" y1="0" x2="1" y2="0"><stop offset="0.000" stop-color="#ffe04c"/><stop offset="1.000" stop-color="#ffe04c"/></linearGradient><linearGradient id="gbl20" gradientUnits="objectBoundingBox" x1="0" y1="0" x2="1" y2="0"><stop offset="0.000" stop-color="#ffe04c"/><stop offset="1.000" stop-color="#ffe04c"/></linearGradient><linearGradient id="gbm0" gradientUnits="objectBoundingBox" x1="0" y1="0" x2="1" y2="0"><stop offset="0.000" stop-color="#ffcc2e"/><stop offset="0.638" stop-color="#ffd02e"/><stop offset="0.776" stop-color="#ffec2e"/><stop offset="1.000" stop-color="#ffec2e"/></linearGradient><linearGradient id="gbm1" gradientUnits="objectBoundingBox" x1="0" y1="0" x2="1" y2="0"><stop offset="0.000" stop-color="#ffcc2e"/><stop offset="0.638" stop-color="#ffd02e"/><stop offset="0.776" stop-color="#ffec2e"/><stop offset="1.000" stop-color="#ffec2e"/></linearGradient><linearGradient id="gbm2" gradientUnits="objectBoundingBox" x1="0" y1="0" x2="1" y2="0"><stop offset="0.000" stop-color="#ffcc2e"/><stop offset="0.638" stop-color="#ffcf2e"/><stop offset="0.762" stop-color="#ffec2e"/><stop offset="1.000" stop-color="#ffec2e"/></linearGradient><linearGradient id="gbm3" gradientUnits="objectBoundingBox" x1="0" y1="0" x2="1" y2="0"><stop offset="0.000" stop-color="#ffcc2e"/><stop offset="0.638" stop-color="#ffcf2d"/><stop offset="0.762" stop-color="#fff02e"/><stop offset="1.000" stop-color="#fff02e"/></linearGradient><linearGradient id="gbm4" gradientUnits="objectBoundingBox" x1="0" y1="0" x2="1" y2="0"><stop offset="0.000" stop-color="#ffcc2e"/><stop offset="0.624" stop-color="#ffcb2d"/><stop offset="0.762" stop-color="#fff52d"/><stop offset="1.000" stop-color="#fff52e"/></linearGradient><linearGradient id="gbm5" gradientUnits="objectBoundingBox" x1="0" y1="0" x2="1" y2="0"><stop offset="0.000" stop-color="#ffcb2e"/><stop offset="0.610" stop-color="#ffc72d"/><stop offset="0.762" stop-color="#fffb2d"/><stop offset="1.000" stop-color="#fffb2e"/></linearGradient><linearGradient id="gbm6" gradientUnits="objectBoundingBox" x1="0" y1="0" x2="1" y2="0"><stop offset="0.000" stop-color="#ffca2e"/><stop offset="0.568" stop-color="#ffc12d"/><stop offset="0.638" stop-color="#ffcc2d"/><stop offset="0.749" stop-color="#fffd2e"/><stop offset="1.000" stop-color="#ffff30"/></linearGradient><linearGradient id="gbm7" gradientUnits="objectBoundingBox" x1="0" y1="0" x2="1" y2="0"><stop offset="0.000" stop-color="#ffc92e"/><stop offset="0.166" stop-color="#ffbf2e"/><stop offset="0.347" stop-color="#ffbe2e"/><stop offset="0.541" stop-color="#ffb82d"/><stop offset="0.624" stop-color="#ffc32c"/><stop offset="0.749" stop-color="#feff2f"/><stop offset="1.000" stop-color="#fcff33"/></linearGradient><linearGradient id="gbm8" gradientUnits="objectBoundingBox" x1="0" y1="0" x2="1" y2="0"><stop offset="0.000" stop-color="#ffc72e"/><stop offset="0.152" stop-color="#ffb82e"/><stop offset="0.305" stop-color="#ffbd2e"/><stop offset="0.499" stop-color="#ffac2d"/><stop offset="0.624" stop-color="#ffbe2b"/><stop offset="0.735" stop-color="#fffc2c"/><stop offset="0.929" stop-color="#fcff33"/><stop offset="1.000" stop-color="#fcff33"/></linearGradient><linearGradient id="gbm9" gradientUnits="objectBoundingBox" x1="0" y1="0" x2="1" y2="0"><stop offset="0.000" stop-color="#ffcc2e"/><stop offset="0.139" stop-color="#ffb62e"/><stop offset="0.222" stop-color="#ffc32e"/><stop offset="0.485" stop-color="#ffa52c"/><stop offset="0.610" stop-color="#ffb62a"/><stop offset="0.735" stop-color="#fffd2b"/><stop offset="0.832" stop-color="#fcff32"/><stop offset="1.000" stop-color="#fcff33"/></linearGradient><linearGradient id="gbm10" gradientUnits="objectBoundingBox" x1="0" y1="0" x2="1" y2="0"><stop offset="0.000" stop-color="#ffd72e"/><stop offset="0.125" stop-color="#ffbf2e"/><stop offset="0.222" stop-color="#ffd52e"/><stop offset="0.430" stop-color="#ffa82d"/><stop offset="0.541" stop-color="#ffaa2b"/><stop offset="0.624" stop-color="#ffc029"/><stop offset="0.735" stop-color="#ffff2b"/><stop offset="0.804" stop-color="#faff33"/><stop offset="1.000" stop-color="#fcff33"/></linearGradient><linearGradient id="gbm11" gradientUnits="objectBoundingBox" x1="0" y1="0" x2="1" y2="0"><stop offset="0.000" stop-color="#ffe72e"/><stop offset="0.125" stop-color="#ffcf2e"/><stop offset="0.208" stop-color="#fff82e"/><stop offset="0.222" stop-color="#fff62e"/><stop offset="0.263" stop-color="#ffd52e"/><stop offset="0.471" stop-color="#ffa82c"/><stop offset="0.582" stop-color="#ffb829"/><stop offset="0.652" stop-color="#ffd828"/><stop offset="0.721" stop-color="#fffe29"/><stop offset="0.776" stop-color="#f8ff35"/><stop offset="1.000" stop-color="#fcff33"/></linearGradient><linearGradient id="gbm12" gradientUnits="objectBoundingBox" x1="0" y1="0" x2="1" y2="0"><stop offset="0.000" stop-color="#fff52e"/><stop offset="0.125" stop-color="#ffe42e"/><stop offset="0.152" stop-color="#fff62e"/><stop offset="0.180" stop-color="#ebff51"/><stop offset="0.208" stop-color="#dfff6d"/><stop offset="0.222" stop-color="#e0ff6b"/><stop offset="0.236" stop-color="#f5ff3e"/><stop offset="0.250" stop-color="#fff52e"/><stop offset="0.291" stop-color="#ffd52e"/><stop offset="0.457" stop-color="#ffac2b"/><stop offset="0.555" stop-color="#ffb528"/><stop offset="0.638" stop-color="#ffd526"/><stop offset="0.721" stop-color="#fcff2c"/><stop offset="0.776" stop-color="#f6ff38"/><stop offset="1.000" stop-color="#fcff33"/></linearGradient><linearGradient id="gbm13" gradientUnits="objectBoundingBox" x1="0" y1="0" x2="1" y2="0"><stop offset="0.000" stop-color="#feff31"/><stop offset="0.111" stop-color="#fff52e"/><stop offset="0.139" stop-color="#f9ff37"/><stop offset="0.166" stop-color="#daff7d"/><stop offset="0.180" stop-color="#d1ff97"/><stop offset="0.208" stop-color="#c6ffae"/><stop offset="0.222" stop-color="#c5ffaf"/><stop offset="0.236" stop-color="#d5ff8b"/><stop offset="0.250" stop-color="#e8ff58"/><stop offset="0.263" stop-color="#feff30"/><stop offset="0.277" stop-color="#ffe72e"/><stop offset="0.319" stop-color="#ffcf2e"/><stop offset="0.457" stop-color="#ffad2b"/><stop offset="0.555" stop-color="#ffb627"/><stop offset="0.652" stop-color="#ffdb24"/><stop offset="0.707" stop-color="#fdff28"/><stop offset="0.762" stop-color="#f1ff3d"/><stop offset="0.957" stop-color="#fcff32"/><stop offset="1.000" stop-color="#fcff33"/></linearGradient><linearGradient id="gbm14" gradientUnits="objectBoundingBox" x1="0" y1="0" x2="1" y2="0"><stop offset="0.000" stop-color="#f2ff44"/><stop offset="0.055" stop-color="#f7ff3b"/><stop offset="0.111" stop-color="#f3ff42"/><stop offset="0.125" stop-color="#ebff50"/><stop offset="0.166" stop-color="#c5ffaf"/><stop offset="0.208" stop-color="#a7ffcd"/><stop offset="0.222" stop-color="#a5ffcf"/><stop offset="0.250" stop-color="#ccffa3"/><stop offset="0.263" stop-color="#ddff74"/><stop offset="0.277" stop-color="#feff31"/><stop offset="0.305" stop-color="#ffd92e"/><stop offset="0.444" stop-color="#ffb52b"/><stop offset="0.568" stop-color="#ffbf25"/><stop offset="0.624" stop-color="#ffc623"/><stop offset="0.652" stop-color="#ffc822"/><stop offset="0.693" stop-color="#fffc23"/><stop offset="0.749" stop-color="#ecff44"/><stop offset="0.929" stop-color="#fcff32"/><stop offset="1.000" stop-color="#fcff33"/></linearGradient><linearGradient id="gbm15" gradientUnits="objectBoundingBox" x1="0" y1="0" x2="1" y2="0"><stop offset="0.000" stop-color="#e6ff5c"/><stop offset="0.055" stop-color="#e7ff59"/><stop offset="0.111" stop-color="#deff71"/><stop offset="0.152" stop-color="#beffb6"/><stop offset="0.180" stop-color="#a1ffd3"/><stop offset="0.222" stop-color="#89ffe5"/><stop offset="0.250" stop-color="#acffc8"/><stop offset="0.263" stop-color="#c2ffb3"/><stop offset="0.291" stop-color="#fdff31"/><stop offset="0.305" stop-color="#ffe72e"/><stop offset="0.333" stop-color="#ffd62d"/><stop offset="0.430" stop-color="#ffc22b"/><stop offset="0.596" stop-color="#ffcf22"/><stop offset="0.610" stop-color="#ffc821"/><stop offset="0.638" stop-color="#ff9420"/><stop offset="0.652" stop-color="#ff9020"/><stop offset="0.665" stop-color="#ffb220"/><stop offset="0.679" stop-color="#ffe021"/><stop offset="0.693" stop-color="#fffe22"/><stop offset="0.721" stop-color="#ecff43"/><stop offset="0.762" stop-color="#e6ff51"/><stop offset="0.887" stop-color="#faff33"/><stop offset="1.000" stop-color="#fcff33"/></linearGradient><linearGradient id="gbm16" gradientUnits="objectBoundingBox" x1="0" y1="0" x2="1" y2="0"><stop offset="0.000" stop-color="#dcff76"/><stop offset="0.055" stop-color="#dbff7a"/><stop offset="0.111" stop-color="#cfff9c"/><stop offset="0.139" stop-color="#baffbb"/><stop offset="0.180" stop-color="#91ffe0"/><stop offset="0.222" stop-color="#7bffef"/><stop offset="0.250" stop-color="#8dffe3"/><stop offset="0.263" stop-color="#a0ffd4"/><stop offset="0.277" stop-color="#c0ffb4"/><stop offset="0.291" stop-color="#dbff79"/><stop offset="0.305" stop-color="#fcff33"/><stop offset="0.319" stop-color="#ffe92d"/><stop offset="0.402" stop-color="#ffd42c"/><stop offset="0.485" stop-color="#ffe927"/><stop offset="0.596" stop-color="#ffe920"/><stop offset="0.610" stop-color="#ffd71f"/><stop offset="0.624" stop-color="#ffa51f"/><stop offset="0.638" stop-color="#ff631f"/><stop offset="0.652" stop-color="#ff501e"/><stop offset="0.665" stop-color="#ff801e"/><stop offset="0.679" stop-color="#ffd11f"/><stop offset="0.693" stop-color="#fcff25"/><stop offset="0.707" stop-color="#e9ff46"/><stop offset="0.735" stop-color="#dfff5d"/><stop offset="0.776" stop-color="#e1ff5b"/><stop offset="0.860" stop-color="#f6ff37"/><stop offset="1.000" stop-color="#fcff33"/></linearGradient><linearGradient id="gbm17" gradientUnits="objectBoundingBox" x1="0" y1="0" x2="1" y2="0"><stop offset="0.000" stop-color="#d4ff8d"/><stop offset="0.055" stop-color="#d1ff96"/><stop offset="0.125" stop-color="#b7ffbd"/><stop offset="0.166" stop-color="#92ffdf"/><stop offset="0.236" stop-color="#77fff2"/><stop offset="0.263" stop-color="#82ffea"/><stop offset="0.277" stop-color="#9dffd6"/><stop offset="0.291" stop-color="#bfffb5"/><stop offset="0.305" stop-color="#daff7b"/><stop offset="0.319" stop-color="#faff36"/><stop offset="0.360" stop-color="#fff62d"/><stop offset="0.402" stop-color="#ffef2b"/><stop offset="0.444" stop-color="#faff32"/><stop offset="0.499" stop-color="#dbff6f"/><stop offset="0.596" stop-color="#e0ff59"/><stop offset="0.610" stop-color="#f1ff35"/><stop offset="0.624" stop-color="#ffd41d"/><stop offset="0.638" stop-color="#ff881d"/><stop offset="0.652" stop-color="#ff6f1d"/><stop offset="0.665" stop-color="#ff811d"/><stop offset="0.679" stop-color="#ffdd1d"/><stop offset="0.693" stop-color="#e9ff42"/><stop offset="0.707" stop-color="#d8ff6b"/><stop offset="0.735" stop-color="#d5ff77"/><stop offset="0.804" stop-color="#e3ff58"/><stop offset="0.860" stop-color="#f5ff39"/><stop offset="0.984" stop-color="#fcff32"/><stop offset="1.000" stop-color="#fcff33"/></linearGradient><linearGradient id="gbm18" gradientUnits="objectBoundingBox" x1="0" y1="0" x2="1" y2="0"><stop offset="0.000" stop-color="#cfff9d"/><stop offset="0.083" stop-color="#bfffb5"/><stop offset="0.166" stop-color="#90ffe1"/><stop offset="0.222" stop-color="#86ffe7"/><stop offset="0.250" stop-color="#73fff4"/><stop offset="0.263" stop-color="#73fff5"/><stop offset="0.277" stop-color="#7effed"/><stop offset="0.305" stop-color="#bdffb7"/><stop offset="0.319" stop-color="#d9ff7e"/><stop offset="0.388" stop-color="#eaff52"/><stop offset="0.402" stop-color="#e6ff59"/><stop offset="0.457" stop-color="#c8ffa4"/><stop offset="0.499" stop-color="#aeffbd"/><stop offset="0.596" stop-color="#abffb9"/><stop offset="0.610" stop-color="#b3ffb0"/><stop offset="0.624" stop-color="#c9ff91"/><stop offset="0.638" stop-color="#e9ff41"/><stop offset="0.652" stop-color="#faff23"/><stop offset="0.665" stop-color="#ffc51b"/><stop offset="0.679" stop-color="#f1ff32"/><stop offset="0.693" stop-color="#cdff86"/><stop offset="0.707" stop-color="#c2ffa0"/><stop offset="0.735" stop-color="#c7ff98"/><stop offset="0.846" stop-color="#efff42"/><stop offset="0.915" stop-color="#fbff32"/><stop offset="1.000" stop-color="#fcff33"/></linearGradient><linearGradient id="gbm19" gradientUnits="objectBoundingBox" x1="0" y1="0" x2="1" y2="0"><stop offset="0.000" stop-color="#cbffa7"/><stop offset="0.083" stop-color="#b6ffbe"/><stop offset="0.166" stop-color="#94ffde"/><stop offset="0.222" stop-color="#a1ffd3"/><stop offset="0.250" stop-color="#7bffef"/><stop offset="0.277" stop-color="#6ffff7"/><stop offset="0.291" stop-color="#7bffef"/><stop offset="0.305" stop-color="#9affd9"/><stop offset="0.319" stop-color="#bcffb8"/><stop offset="0.388" stop-color="#caffa5"/><stop offset="0.444" stop-color="#a6ffc9"/><stop offset="0.499" stop-color="#6bfff3"/><stop offset="0.610" stop-color="#57fffb"/><stop offset="0.652" stop-color="#8bffd4"/><stop offset="0.665" stop-color="#f0ff32"/><stop offset="0.679" stop-color="#c9ff8e"/><stop offset="0.693" stop-color="#aaffb7"/><stop offset="0.707" stop-color="#9bffc7"/><stop offset="0.721" stop-color="#a1ffc1"/><stop offset="0.749" stop-color="#c4ff9f"/><stop offset="0.846" stop-color="#eeff44"/><stop offset="0.901" stop-color="#faff33"/><stop offset="1.000" stop-color="#fcff33"/></linearGradient><linearGradient id="gbm20" gradientUnits="objectBoundingBox" x1="0" y1="0" x2="1" y2="0"><stop offset="0.000" stop-color="#c7ffac"/><stop offset="0.097" stop-color="#abffc9"/><stop offset="0.152" stop-color="#9affd9"/><stop offset="0.222" stop-color="#c0ffb5"/><stop offset="0.263" stop-color="#7fffec"/><stop offset="0.277" stop-color="#6efff8"/><stop offset="0.291" stop-color="#6cfff9"/><stop offset="0.305" stop-color="#79fff0"/><stop offset="0.319" stop-color="#98ffda"/><stop offset="0.388" stop-color="#a3ffcf"/><stop offset="0.444" stop-color="#77ffee"/><stop offset="0.457" stop-color="#69fff7"/><stop offset="0.471" stop-color="#57f0ff"/><stop offset="0.485" stop-color="#53c5ff"/><stop offset="0.499" stop-color="#52a6ff"/><stop offset="0.610" stop-color="#4995ff"/><stop offset="0.624" stop-color="#489eff"/><stop offset="0.638" stop-color="#48b3ff"/><stop offset="0.652" stop-color="#48dbff"/><stop offset="0.665" stop-color="#d2ff75"/><stop offset="0.679" stop-color="#b0ffb0"/><stop offset="0.693" stop-color="#88ffd7"/><stop offset="0.707" stop-color="#72ffe7"/><stop offset="0.721" stop-color="#82ffdc"/><stop offset="0.749" stop-color="#baffaa"/><stop offset="0.790" stop-color="#d5ff7a"/><stop offset="0.860" stop-color="#f2ff3e"/><stop offset="0.943" stop-color="#fcff32"/><stop offset="1.000" stop-color="#fcff33"/></linearGradient><linearGradient id="gbm21" gradientUnits="objectBoundingBox" x1="0" y1="0" x2="1" y2="0"><stop offset="0.000" stop-color="#c6ffae"/><stop offset="0.139" stop-color="#a0ffd4"/><stop offset="0.180" stop-color="#c1ffb3"/><stop offset="0.194" stop-color="#cbffa6"/><stop offset="0.208" stop-color="#d4ff8e"/><stop offset="0.222" stop-color="#d8ff83"/><stop offset="0.236" stop-color="#c9ffaa"/><stop offset="0.263" stop-color="#9dffd6"/><stop offset="0.277" stop-color="#7dffed"/><stop offset="0.291" stop-color="#6cfff9"/><stop offset="0.305" stop-color="#6afffa"/><stop offset="0.319" stop-color="#77fff1"/><stop offset="0.388" stop-color="#7affee"/><stop offset="0.444" stop-color="#5cf9ff"/><stop offset="0.457" stop-color="#5af3ff"/><stop offset="0.471" stop-color="#55dfff"/><stop offset="0.499" stop-color="#5297ff"/><stop offset="0.610" stop-color="#4987ff"/><stop offset="0.624" stop-color="#488fff"/><stop offset="0.638" stop-color="#48a4ff"/><stop offset="0.652" stop-color="#47ceff"/><stop offset="0.665" stop-color="#ceff80"/><stop offset="0.679" stop-color="#aaffb6"/><stop offset="0.693" stop-color="#7fffdd"/><stop offset="0.707" stop-color="#68ffef"/><stop offset="0.721" stop-color="#7affe2"/><stop offset="0.749" stop-color="#b8ffac"/><stop offset="0.776" stop-color="#cfff88"/><stop offset="0.860" stop-color="#f1ff3e"/><stop offset="0.943" stop-color="#fcff32"/><stop offset="1.000" stop-color="#fcff33"/></linearGradient><linearGradient id="gbm22" gradientUnits="objectBoundingBox" x1="0" y1="0" x2="1" y2="0"><stop offset="0.000" stop-color="#c6ffae"/><stop offset="0.125" stop-color="#a6ffcf"/><stop offset="0.152" stop-color="#b8ffbd"/><stop offset="0.180" stop-color="#d5ff8c"/><stop offset="0.208" stop-color="#ebff52"/><stop offset="0.222" stop-color="#f0ff46"/><stop offset="0.250" stop-color="#d0ff99"/><stop offset="0.263" stop-color="#bdffb7"/><stop offset="0.291" stop-color="#7bffef"/><stop offset="0.305" stop-color="#6bfffa"/><stop offset="0.416" stop-color="#5ef9ff"/><stop offset="0.555" stop-color="#4ee1ff"/><stop offset="0.610" stop-color="#49dfff"/><stop offset="0.652" stop-color="#51fffe"/><stop offset="0.665" stop-color="#dbff5e"/><stop offset="0.679" stop-color="#bcffa4"/><stop offset="0.693" stop-color="#99ffc8"/><stop offset="0.707" stop-color="#88ffd7"/><stop offset="0.721" stop-color="#93ffcf"/><stop offset="0.749" stop-color="#bfffa5"/><stop offset="0.832" stop-color="#e7ff50"/><stop offset="0.873" stop-color="#f6ff38"/><stop offset="1.000" stop-color="#fcff33"/></linearGradient><linearGradient id="gbm23" gradientUnits="objectBoundingBox" x1="0" y1="0" x2="1" y2="0"><stop offset="0.000" stop-color="#c6ffae"/><stop offset="0.111" stop-color="#acffc8"/><stop offset="0.139" stop-color="#bcffb9"/><stop offset="0.152" stop-color="#ccffa5"/><stop offset="0.180" stop-color="#e9ff56"/><stop offset="0.208" stop-color="#fffe2f"/><stop offset="0.222" stop-color="#fffa2e"/><stop offset="0.236" stop-color="#f9ff38"/><stop offset="0.250" stop-color="#e8ff57"/><stop offset="0.277" stop-color="#beffb6"/><stop offset="0.305" stop-color="#7bffef"/><stop offset="0.319" stop-color="#6bfffa"/><stop offset="0.457" stop-color="#5effff"/><stop offset="0.513" stop-color="#73ffed"/><stop offset="0.596" stop-color="#7bffe2"/><stop offset="0.624" stop-color="#9cffc6"/><stop offset="0.638" stop-color="#afffb3"/><stop offset="0.652" stop-color="#b5ffad"/><stop offset="0.665" stop-color="#fff61b"/><stop offset="0.679" stop-color="#d9ff66"/><stop offset="0.693" stop-color="#c0ffa1"/><stop offset="0.707" stop-color="#b2ffb0"/><stop offset="0.735" stop-color="#c0ffa4"/><stop offset="0.846" stop-color="#eeff43"/><stop offset="0.901" stop-color="#faff33"/><stop offset="1.000" stop-color="#fcff33"/></linearGradient><linearGradient id="gbm24" gradientUnits="objectBoundingBox" x1="0" y1="0" x2="1" y2="0"><stop offset="0.000" stop-color="#c8ffab"/><stop offset="0.097" stop-color="#b5ffbf"/><stop offset="0.125" stop-color="#bfffb6"/><stop offset="0.139" stop-color="#cdffa1"/><stop offset="0.166" stop-color="#eeff4b"/><stop offset="0.180" stop-color="#fcff33"/><stop offset="0.222" stop-color="#fff12e"/><stop offset="0.250" stop-color="#fffd2e"/><stop offset="0.263" stop-color="#f3ff42"/><stop offset="0.291" stop-color="#beffb6"/><stop offset="0.319" stop-color="#7cffee"/><stop offset="0.402" stop-color="#6ffff5"/><stop offset="0.457" stop-color="#8affe0"/><stop offset="0.499" stop-color="#aaffc2"/><stop offset="0.582" stop-color="#baffac"/><stop offset="0.596" stop-color="#c3ff9f"/><stop offset="0.610" stop-color="#d5ff73"/><stop offset="0.624" stop-color="#fffb1d"/><stop offset="0.638" stop-color="#ffca1c"/><stop offset="0.652" stop-color="#ffc61c"/><stop offset="0.665" stop-color="#ffad1c"/><stop offset="0.679" stop-color="#fff21c"/><stop offset="0.693" stop-color="#dfff59"/><stop offset="0.707" stop-color="#d0ff81"/><stop offset="0.721" stop-color="#cdff89"/><stop offset="0.804" stop-color="#e1ff5c"/><stop offset="0.860" stop-color="#f4ff3a"/><stop offset="0.970" stop-color="#fcff32"/><stop offset="1.000" stop-color="#fcff33"/></linearGradient><linearGradient id="gbm25" gradientUnits="objectBoundingBox" x1="0" y1="0" x2="1" y2="0"><stop offset="0.000" stop-color="#ccffa4"/><stop offset="0.069" stop-color="#beffb6"/><stop offset="0.111" stop-color="#c5ffaf"/><stop offset="0.125" stop-color="#ceff9f"/><stop offset="0.152" stop-color="#eeff4c"/><stop offset="0.166" stop-color="#ffff2f"/><stop offset="0.222" stop-color="#ffed2e"/><stop offset="0.263" stop-color="#fff52e"/><stop offset="0.277" stop-color="#f6ff3d"/><stop offset="0.305" stop-color="#c0ffb4"/><stop offset="0.319" stop-color="#9effd5"/><stop offset="0.388" stop-color="#91ffde"/><stop offset="0.444" stop-color="#b1ffbf"/><stop offset="0.471" stop-color="#c7ffa6"/><stop offset="0.499" stop-color="#d8ff77"/><stop offset="0.582" stop-color="#eeff3c"/><stop offset="0.596" stop-color="#fffe20"/><stop offset="0.610" stop-color="#ffd11f"/><stop offset="0.624" stop-color="#ff8b1e"/><stop offset="0.638" stop-color="#ff521e"/><stop offset="0.652" stop-color="#ff551e"/><stop offset="0.665" stop-color="#ff7d1e"/><stop offset="0.679" stop-color="#ffcd1e"/><stop offset="0.693" stop-color="#fbff25"/><stop offset="0.707" stop-color="#e4ff4f"/><stop offset="0.721" stop-color="#ddff61"/><stop offset="0.762" stop-color="#dcff66"/><stop offset="0.873" stop-color="#f8ff35"/><stop offset="1.000" stop-color="#fcff33"/></linearGradient><linearGradient id="gbm26" gradientUnits="objectBoundingBox" x1="0" y1="0" x2="1" y2="0"><stop offset="0.000" stop-color="#d1ff98"/><stop offset="0.069" stop-color="#c8ffac"/><stop offset="0.111" stop-color="#d1ff96"/><stop offset="0.125" stop-color="#dcff78"/><stop offset="0.139" stop-color="#edff4d"/><stop offset="0.152" stop-color="#feff30"/><stop offset="0.180" stop-color="#fff02e"/><stop offset="0.263" stop-color="#ffea2e"/><stop offset="0.291" stop-color="#f9ff37"/><stop offset="0.319" stop-color="#c2ffb2"/><stop offset="0.388" stop-color="#b9ffb9"/><stop offset="0.416" stop-color="#c9ffa6"/><stop offset="0.444" stop-color="#d9ff79"/><stop offset="0.471" stop-color="#f3ff3d"/><stop offset="0.485" stop-color="#fffb28"/><stop offset="0.513" stop-color="#ffea26"/><stop offset="0.582" stop-color="#ffdb22"/><stop offset="0.596" stop-color="#ffcf21"/><stop offset="0.610" stop-color="#ffaf20"/><stop offset="0.624" stop-color="#ff7e20"/><stop offset="0.638" stop-color="#ff5820"/><stop offset="0.652" stop-color="#ff601f"/><stop offset="0.665" stop-color="#ff911f"/><stop offset="0.679" stop-color="#ffcf20"/><stop offset="0.693" stop-color="#fff820"/><stop offset="0.721" stop-color="#e9ff48"/><stop offset="0.762" stop-color="#e3ff57"/><stop offset="0.873" stop-color="#f9ff34"/><stop offset="1.000" stop-color="#fcff33"/></linearGradient><linearGradient id="gbm27" gradientUnits="objectBoundingBox" x1="0" y1="0" x2="1" y2="0"><stop offset="0.000" stop-color="#d7ff85"/><stop offset="0.055" stop-color="#cfff9d"/><stop offset="0.097" stop-color="#d8ff82"/><stop offset="0.111" stop-color="#deff70"/><stop offset="0.139" stop-color="#fdff32"/><stop offset="0.180" stop-color="#ffee2e"/><stop offset="0.277" stop-color="#ffe52e"/><stop offset="0.291" stop-color="#ffec2e"/><stop offset="0.305" stop-color="#feff30"/><stop offset="0.319" stop-color="#dfff6d"/><stop offset="0.388" stop-color="#dcff74"/><stop offset="0.402" stop-color="#e3ff62"/><stop offset="0.430" stop-color="#ffff2d"/><stop offset="0.485" stop-color="#ffcd29"/><stop offset="0.541" stop-color="#ffc226"/><stop offset="0.596" stop-color="#ffc023"/><stop offset="0.638" stop-color="#ff9a22"/><stop offset="0.652" stop-color="#ffa421"/><stop offset="0.693" stop-color="#fff822"/><stop offset="0.735" stop-color="#ecff44"/><stop offset="0.790" stop-color="#edff46"/><stop offset="0.901" stop-color="#fbff32"/><stop offset="1.000" stop-color="#fcff33"/></linearGradient><linearGradient id="gbm28" gradientUnits="objectBoundingBox" x1="0" y1="0" x2="1" y2="0"><stop offset="0.000" stop-color="#dfff6e"/><stop offset="0.055" stop-color="#d7ff85"/><stop offset="0.097" stop-color="#e5ff5e"/><stop offset="0.125" stop-color="#fbff34"/><stop offset="0.180" stop-color="#ffed2e"/><stop offset="0.291" stop-color="#ffe12e"/><stop offset="0.305" stop-color="#ffe82e"/><stop offset="0.319" stop-color="#fffb2e"/><stop offset="0.388" stop-color="#fff52d"/><stop offset="0.471" stop-color="#ffbb2a"/><stop offset="0.527" stop-color="#ffb228"/><stop offset="0.638" stop-color="#ffc323"/><stop offset="0.707" stop-color="#fdff28"/><stop offset="0.749" stop-color="#f0ff3f"/><stop offset="0.957" stop-color="#fcff32"/><stop offset="1.000" stop-color="#fcff33"/></linearGradient><linearGradient id="gbm29" gradientUnits="objectBoundingBox" x1="0" y1="0" x2="1" y2="0"><stop offset="0.000" stop-color="#e9ff56"/><stop offset="0.055" stop-color="#e1ff68"/><stop offset="0.111" stop-color="#fcff34"/><stop offset="0.166" stop-color="#ffed2e"/><stop offset="0.305" stop-color="#ffdd2e"/><stop offset="0.333" stop-color="#ffe22e"/><stop offset="0.402" stop-color="#ffce2d"/><stop offset="0.485" stop-color="#ffad2a"/><stop offset="0.582" stop-color="#ffb827"/><stop offset="0.652" stop-color="#ffd825"/><stop offset="0.707" stop-color="#fffd27"/><stop offset="0.762" stop-color="#f4ff3a"/><stop offset="1.000" stop-color="#fcff33"/></linearGradient><linearGradient id="gbm30" gradientUnits="objectBoundingBox" x1="0" y1="0" x2="1" y2="0"><stop offset="0.000" stop-color="#f7ff3b"/><stop offset="0.055" stop-color="#f0ff47"/><stop offset="0.097" stop-color="#fffa2e"/><stop offset="0.166" stop-color="#ffe82e"/><stop offset="0.360" stop-color="#ffcb2d"/><stop offset="0.485" stop-color="#ffaa2b"/><stop offset="0.596" stop-color="#ffb928"/><stop offset="0.721" stop-color="#ffff29"/><stop offset="0.776" stop-color="#f7ff36"/><stop offset="1.000" stop-color="#fcff33"/></linearGradient><linearGradient id="gbm31" gradientUnits="objectBoundingBox" x1="0" y1="0" x2="1" y2="0"><stop offset="0.000" stop-color="#fff42e"/><stop offset="0.055" stop-color="#fff92e"/><stop offset="0.139" stop-color="#ffdf2e"/><stop offset="0.319" stop-color="#ffca2e"/><stop offset="0.485" stop-color="#ffa62c"/><stop offset="0.610" stop-color="#ffb829"/><stop offset="0.721" stop-color="#fffb29"/><stop offset="0.804" stop-color="#faff33"/><stop offset="1.000" stop-color="#fcff33"/></linearGradient><linearGradient id="gbm32" gradientUnits="objectBoundingBox" x1="0" y1="0" x2="1" y2="0"><stop offset="0.000" stop-color="#ffe22e"/><stop offset="0.069" stop-color="#ffe02e"/><stop offset="0.180" stop-color="#ffd22e"/><stop offset="0.374" stop-color="#ffb62e"/><stop offset="0.499" stop-color="#ffa42c"/><stop offset="0.610" stop-color="#ffb32a"/><stop offset="0.735" stop-color="#fffe2b"/><stop offset="0.832" stop-color="#fbff32"/><stop offset="1.000" stop-color="#fcff33"/></linearGradient><linearGradient id="gbm33" gradientUnits="objectBoundingBox" x1="0" y1="0" x2="1" y2="0"><stop offset="0.000" stop-color="#ffd52e"/><stop offset="0.319" stop-color="#ffbe2e"/><stop offset="0.499" stop-color="#ffa82c"/><stop offset="0.624" stop-color="#ffb92b"/><stop offset="0.735" stop-color="#fffc2c"/><stop offset="0.929" stop-color="#fcff33"/><stop offset="1.000" stop-color="#fcff33"/></linearGradient><linearGradient id="gbm34" gradientUnits="objectBoundingBox" x1="0" y1="0" x2="1" y2="0"><stop offset="0.000" stop-color="#ffd02e"/><stop offset="0.333" stop-color="#ffc02e"/><stop offset="0.527" stop-color="#ffb22d"/><stop offset="0.624" stop-color="#ffbe2c"/><stop offset="0.735" stop-color="#fffc2c"/><stop offset="0.929" stop-color="#fcff33"/><stop offset="1.000" stop-color="#fcff33"/></linearGradient><linearGradient id="gbm35" gradientUnits="objectBoundingBox" x1="0" y1="0" x2="1" y2="0"><stop offset="0.000" stop-color="#ffce2e"/><stop offset="0.402" stop-color="#ffbf2e"/><stop offset="0.596" stop-color="#ffbf2c"/><stop offset="0.665" stop-color="#ffd82c"/><stop offset="0.749" stop-color="#ffff2e"/><stop offset="1.000" stop-color="#fdff31"/></linearGradient><linearGradient id="gbm36" gradientUnits="objectBoundingBox" x1="0" y1="0" x2="1" y2="0"><stop offset="0.000" stop-color="#ffcd2e"/><stop offset="0.596" stop-color="#ffc42d"/><stop offset="0.665" stop-color="#ffd82d"/><stop offset="0.749" stop-color="#fffb2d"/><stop offset="1.000" stop-color="#fffd2f"/></linearGradient><linearGradient id="gbm37" gradientUnits="objectBoundingBox" x1="0" y1="0" x2="1" y2="0"><stop offset="0.000" stop-color="#ffcc2e"/><stop offset="0.624" stop-color="#ffca2d"/><stop offset="0.762" stop-color="#fff82d"/><stop offset="1.000" stop-color="#fff82e"/></linearGradient><linearGradient id="gbm38" gradientUnits="objectBoundingBox" x1="0" y1="0" x2="1" y2="0"><stop offset="0.000" stop-color="#ffcc2e"/><stop offset="0.624" stop-color="#ffcc2d"/><stop offset="0.762" stop-color="#fff22e"/><stop offset="1.000" stop-color="#fff22e"/></linearGradient><linearGradient id="gbm39" gradientUnits="objectBoundingBox" x1="0" y1="0" x2="1" y2="0"><stop offset="0.000" stop-color="#ffcc2e"/><stop offset="0.638" stop-color="#ffcf2e"/><stop offset="0.762" stop-color="#ffee2e"/><stop offset="1.000" stop-color="#ffee2e"/></linearGradient><linearGradient id="gbm40" gradientUnits="objectBoundingBox" x1="0" y1="0" x2="1" y2="0"><stop offset="0.000" stop-color="#ffcc2e"/><stop offset="0.638" stop-color="#ffcf2e"/><stop offset="0.776" stop-color="#ffec2e"/><stop offset="1.000" stop-color="#ffec2e"/></linearGradient><linearGradient id="gbm41" gradientUnits="objectBoundingBox" x1="0" y1="0" x2="1" y2="0"><stop offset="0.000" stop-color="#ffcc2e"/><stop offset="0.638" stop-color="#ffd02e"/><stop offset="0.776" stop-color="#ffec2e"/><stop offset="1.000" stop-color="#ffec2e"/></linearGradient><linearGradient id="gbr0" gradientUnits="objectBoundingBox" x1="0" y1="0" x2="1" y2="0"><stop offset="0.000" stop-color="#fcff33"/><stop offset="0.098" stop-color="#f8ff72"/><stop offset="1.000" stop-color="#f8ff72"/></linearGradient><pattern id="gridB" patternUnits="userSpaceOnUse" x="0" y="0" width="2" height="2"><rect x="0" y="0" width="2" height="0.6" fill="#fff" fill-opacity="0.8"/><rect x="0" y="0" width="0.6" height="2" fill="#fff" fill-opacity="0.8"/></pattern><pattern id="stripeB" patternUnits="userSpaceOnUse" x="0" y="184.60" width="10" height="2.6762"><rect x="0" y="0" width="10" height="0.8" fill="#fff" fill-opacity="0.25"/></pattern><linearGradient id="gc0" gradientUnits="objectBoundingBox" x1="0" y1="0" x2="1" y2="0"><stop offset="0.000" stop-color="#ffbc52"/><stop offset="0.292" stop-color="#ffb94c"/><stop offset="0.555" stop-color="#ff952d"/><stop offset="0.635" stop-color="#ff7e23"/><stop offset="0.686" stop-color="#ff8e22"/><stop offset="0.781" stop-color="#ffc031"/><stop offset="0.876" stop-color="#ffd65a"/><stop offset="0.964" stop-color="#ffdb6b"/><stop offset="1.000" stop-color="#ffdc6b"/></linearGradient><linearGradient id="gc1" gradientUnits="objectBoundingBox" x1="0" y1="0" x2="1" y2="0"><stop offset="0.000" stop-color="#ffbc52"/><stop offset="0.292" stop-color="#ffb94c"/><stop offset="0.555" stop-color="#ff932c"/><stop offset="0.635" stop-color="#ff7b22"/><stop offset="0.694" stop-color="#ff9120"/><stop offset="0.781" stop-color="#ffc030"/><stop offset="0.876" stop-color="#ffd65a"/><stop offset="0.964" stop-color="#ffdb6b"/><stop offset="1.000" stop-color="#ffdc6b"/></linearGradient><linearGradient id="gc2" gradientUnits="objectBoundingBox" x1="0" y1="0" x2="1" y2="0"><stop offset="0.000" stop-color="#ffbc52"/><stop offset="0.292" stop-color="#ffb94c"/><stop offset="0.548" stop-color="#ff932c"/><stop offset="0.635" stop-color="#ff7820"/><stop offset="0.686" stop-color="#ff8a1e"/><stop offset="0.774" stop-color="#ffbd2c"/><stop offset="0.862" stop-color="#ffd553"/><stop offset="0.949" stop-color="#ffdc6a"/><stop offset="1.000" stop-color="#ffdc6b"/></linearGradient><linearGradient id="gc3" gradientUnits="objectBoundingBox" x1="0" y1="0" x2="1" y2="0"><stop offset="0.000" stop-color="#ffbd52"/><stop offset="0.292" stop-color="#ffba4c"/><stop offset="0.533" stop-color="#ff962d"/><stop offset="0.628" stop-color="#ff751f"/><stop offset="0.679" stop-color="#ff821c"/><stop offset="0.767" stop-color="#ffbc29"/><stop offset="0.854" stop-color="#ffd750"/><stop offset="0.949" stop-color="#ffde6a"/><stop offset="1.000" stop-color="#ffde6b"/></linearGradient><linearGradient id="gc4" gradientUnits="objectBoundingBox" x1="0" y1="0" x2="1" y2="0"><stop offset="0.000" stop-color="#ffbe52"/><stop offset="0.292" stop-color="#ffbb4c"/><stop offset="0.526" stop-color="#ff972e"/><stop offset="0.628" stop-color="#ff711d"/><stop offset="0.679" stop-color="#ff811a"/><stop offset="0.752" stop-color="#ffb823"/><stop offset="0.833" stop-color="#ffd845"/><stop offset="0.935" stop-color="#ffe069"/><stop offset="1.000" stop-color="#ffe16b"/></linearGradient><linearGradient id="gc5" gradientUnits="objectBoundingBox" x1="0" y1="0" x2="1" y2="0"><stop offset="0.000" stop-color="#ffc052"/><stop offset="0.292" stop-color="#ffbc4c"/><stop offset="0.511" stop-color="#ff9b2f"/><stop offset="0.628" stop-color="#ff6e1b"/><stop offset="0.679" stop-color="#ff7f18"/><stop offset="0.745" stop-color="#ffb81f"/><stop offset="0.825" stop-color="#ffdb41"/><stop offset="0.935" stop-color="#ffe469"/><stop offset="1.000" stop-color="#ffe56b"/></linearGradient><linearGradient id="gc6" gradientUnits="objectBoundingBox" x1="0" y1="0" x2="1" y2="0"><stop offset="0.000" stop-color="#ffc253"/><stop offset="0.292" stop-color="#ffbe4c"/><stop offset="0.504" stop-color="#ff9d30"/><stop offset="0.628" stop-color="#ff691a"/><stop offset="0.679" stop-color="#ff7c16"/><stop offset="0.738" stop-color="#ffb81c"/><stop offset="0.818" stop-color="#ffdf3c"/><stop offset="0.927" stop-color="#ffe868"/><stop offset="1.000" stop-color="#ffe96b"/></linearGradient><linearGradient id="gc7" gradientUnits="objectBoundingBox" x1="0" y1="0" x2="1" y2="0"><stop offset="0.000" stop-color="#ffc453"/><stop offset="0.285" stop-color="#ffc04d"/><stop offset="0.489" stop-color="#ffa131"/><stop offset="0.577" stop-color="#ff7821"/><stop offset="0.628" stop-color="#ff6318"/><stop offset="0.672" stop-color="#ff7314"/><stop offset="0.730" stop-color="#ffb619"/><stop offset="0.811" stop-color="#ffe238"/><stop offset="0.927" stop-color="#ffeb68"/><stop offset="1.000" stop-color="#ffec6b"/></linearGradient><linearGradient id="gc8" gradientUnits="objectBoundingBox" x1="0" y1="0" x2="1" y2="0"><stop offset="0.000" stop-color="#ffc755"/><stop offset="0.292" stop-color="#ffc04d"/><stop offset="0.489" stop-color="#ffa131"/><stop offset="0.592" stop-color="#ff691d"/><stop offset="0.635" stop-color="#ff5c15"/><stop offset="0.679" stop-color="#ff7513"/><stop offset="0.723" stop-color="#ffb216"/><stop offset="0.789" stop-color="#ffde2c"/><stop offset="0.862" stop-color="#ffeb51"/><stop offset="0.949" stop-color="#ffee6a"/><stop offset="1.000" stop-color="#ffef6b"/></linearGradient><linearGradient id="gc9" gradientUnits="objectBoundingBox" x1="0" y1="0" x2="1" y2="0"><stop offset="0.000" stop-color="#ffca57"/><stop offset="0.292" stop-color="#ffc04d"/><stop offset="0.482" stop-color="#ffa231"/><stop offset="0.562" stop-color="#ff7622"/><stop offset="0.628" stop-color="#ff5115"/><stop offset="0.657" stop-color="#ff5911"/><stop offset="0.679" stop-color="#ff6e11"/><stop offset="0.716" stop-color="#ffac14"/><stop offset="0.774" stop-color="#ffda24"/><stop offset="0.847" stop-color="#ffed4a"/><stop offset="0.935" stop-color="#ffef69"/><stop offset="1.000" stop-color="#fff06b"/></linearGradient><linearGradient id="gc10" gradientUnits="objectBoundingBox" x1="0" y1="0" x2="1" y2="0"><stop offset="0.000" stop-color="#ffcf5a"/><stop offset="0.278" stop-color="#ffc250"/><stop offset="0.475" stop-color="#ffa332"/><stop offset="0.555" stop-color="#ff7723"/><stop offset="0.635" stop-color="#ff4112"/><stop offset="0.657" stop-color="#ff4810"/><stop offset="0.679" stop-color="#ff660f"/><stop offset="0.708" stop-color="#ffa411"/><stop offset="0.752" stop-color="#ffcf1a"/><stop offset="0.825" stop-color="#ffec3d"/><stop offset="0.927" stop-color="#fff067"/><stop offset="1.000" stop-color="#fff16b"/></linearGradient><linearGradient id="gc11" gradientUnits="objectBoundingBox" x1="0" y1="0" x2="1" y2="0"><stop offset="0.000" stop-color="#ffd75e"/><stop offset="0.256" stop-color="#ffc854"/><stop offset="0.475" stop-color="#ffa232"/><stop offset="0.548" stop-color="#ff7924"/><stop offset="0.643" stop-color="#ff270f"/><stop offset="0.657" stop-color="#ff300e"/><stop offset="0.686" stop-color="#ff720e"/><stop offset="0.708" stop-color="#ffa510"/><stop offset="0.745" stop-color="#ffcd17"/><stop offset="0.818" stop-color="#ffec39"/><stop offset="0.920" stop-color="#ffef66"/><stop offset="1.000" stop-color="#fff16b"/></linearGradient><linearGradient id="gc12" gradientUnits="objectBoundingBox" x1="0" y1="0" x2="1" y2="0"><stop offset="0.000" stop-color="#ffdf64"/><stop offset="0.212" stop-color="#ffd55c"/><stop offset="0.453" stop-color="#ffa834"/><stop offset="0.526" stop-color="#ff8728"/><stop offset="0.613" stop-color="#ff3b13"/><stop offset="0.635" stop-color="#ff120f"/><stop offset="0.650" stop-color="#f90d0d"/><stop offset="0.657" stop-color="#ff120c"/><stop offset="0.679" stop-color="#ff520c"/><stop offset="0.701" stop-color="#ff990d"/><stop offset="0.730" stop-color="#ffc512"/><stop offset="0.796" stop-color="#ffe72c"/><stop offset="0.913" stop-color="#ffef64"/><stop offset="1.000" stop-color="#fff16b"/></linearGradient><linearGradient id="gc13" gradientUnits="objectBoundingBox" x1="0" y1="0" x2="1" y2="0"><stop offset="0.000" stop-color="#ffe76c"/><stop offset="0.190" stop-color="#ffe464"/><stop offset="0.380" stop-color="#ffc53e"/><stop offset="0.519" stop-color="#ff8c2a"/><stop offset="0.606" stop-color="#ff4313"/><stop offset="0.628" stop-color="#ff120f"/><stop offset="0.643" stop-color="#e00d0d"/><stop offset="0.650" stop-color="#de0c0c"/><stop offset="0.665" stop-color="#ff0f0b"/><stop offset="0.694" stop-color="#ff870b"/><stop offset="0.716" stop-color="#ffb80e"/><stop offset="0.759" stop-color="#ffdb1a"/><stop offset="0.840" stop-color="#ffef44"/><stop offset="0.927" stop-color="#fff067"/><stop offset="1.000" stop-color="#fff16b"/></linearGradient><linearGradient id="gc14" gradientUnits="objectBoundingBox" x1="0" y1="0" x2="1" y2="0"><stop offset="0.000" stop-color="#ffef75"/><stop offset="0.168" stop-color="#fff06e"/><stop offset="0.358" stop-color="#ffe342"/><stop offset="0.460" stop-color="#ffb933"/><stop offset="0.548" stop-color="#ff7822"/><stop offset="0.606" stop-color="#ff4512"/><stop offset="0.621" stop-color="#ff260f"/><stop offset="0.628" stop-color="#ff0e0e"/><stop offset="0.643" stop-color="#d70b0b"/><stop offset="0.650" stop-color="#d30a0a"/><stop offset="0.657" stop-color="#e10a0a"/><stop offset="0.665" stop-color="#fc0909"/><stop offset="0.694" stop-color="#ff8a0a"/><stop offset="0.708" stop-color="#ffb10c"/><stop offset="0.738" stop-color="#ffd211"/><stop offset="0.818" stop-color="#ffee37"/><stop offset="0.920" stop-color="#ffef65"/><stop offset="1.000" stop-color="#fff16b"/></linearGradient><linearGradient id="gc15" gradientUnits="objectBoundingBox" x1="0" y1="0" x2="1" y2="0"><stop offset="0.000" stop-color="#fff480"/><stop offset="0.153" stop-color="#fff97a"/><stop offset="0.394" stop-color="#fbff40"/><stop offset="0.445" stop-color="#ffed34"/><stop offset="0.519" stop-color="#ffb229"/><stop offset="0.584" stop-color="#ff5e17"/><stop offset="0.613" stop-color="#ff3f10"/><stop offset="0.628" stop-color="#ff190d"/><stop offset="0.635" stop-color="#f60b0b"/><stop offset="0.643" stop-color="#e60a0a"/><stop offset="0.650" stop-color="#e20909"/><stop offset="0.665" stop-color="#f90808"/><stop offset="0.672" stop-color="#ff1f08"/><stop offset="0.686" stop-color="#ff7308"/><stop offset="0.701" stop-color="#ffa80a"/><stop offset="0.723" stop-color="#ffcb0d"/><stop offset="0.789" stop-color="#ffe926"/><stop offset="0.913" stop-color="#ffef64"/><stop offset="1.000" stop-color="#fff16b"/></linearGradient><linearGradient id="gc16" gradientUnits="objectBoundingBox" x1="0" y1="0" x2="1" y2="0"><stop offset="0.000" stop-color="#fff88b"/><stop offset="0.153" stop-color="#ffff84"/><stop offset="0.329" stop-color="#dfff68"/><stop offset="0.409" stop-color="#cbff6e"/><stop offset="0.467" stop-color="#d8ff59"/><stop offset="0.526" stop-color="#fffa27"/><stop offset="0.540" stop-color="#ffe823"/><stop offset="0.592" stop-color="#ff7115"/><stop offset="0.628" stop-color="#ff2f0c"/><stop offset="0.650" stop-color="#fd0808"/><stop offset="0.657" stop-color="#dc0808"/><stop offset="0.665" stop-color="#9c0707"/><stop offset="0.672" stop-color="#ae0707"/><stop offset="0.679" stop-color="#ff2607"/><stop offset="0.686" stop-color="#ff7c07"/><stop offset="0.694" stop-color="#ffa208"/><stop offset="0.708" stop-color="#ffc10a"/><stop offset="0.745" stop-color="#ffdd12"/><stop offset="0.840" stop-color="#fff043"/><stop offset="0.927" stop-color="#fff067"/><stop offset="1.000" stop-color="#fff16b"/></linearGradient><linearGradient id="gc17" gradientUnits="objectBoundingBox" x1="0" y1="0" x2="1" y2="0"><stop offset="0.000" stop-color="#fffa96"/><stop offset="0.168" stop-color="#f9ff8f"/><stop offset="0.292" stop-color="#d9ff7a"/><stop offset="0.351" stop-color="#beff85"/><stop offset="0.438" stop-color="#92ffa2"/><stop offset="0.504" stop-color="#91ff99"/><stop offset="0.540" stop-color="#9dff84"/><stop offset="0.570" stop-color="#d9ff41"/><stop offset="0.584" stop-color="#fffd16"/><stop offset="0.635" stop-color="#ff4e0a"/><stop offset="0.650" stop-color="#ff2c08"/><stop offset="0.657" stop-color="#e60707"/><stop offset="0.665" stop-color="#830707"/><stop offset="0.672" stop-color="#830606"/><stop offset="0.679" stop-color="#ff2106"/><stop offset="0.686" stop-color="#ff9807"/><stop offset="0.694" stop-color="#ffc507"/><stop offset="0.708" stop-color="#ffcf09"/><stop offset="0.789" stop-color="#ffeb25"/><stop offset="0.906" stop-color="#ffef61"/><stop offset="1.000" stop-color="#fff16b"/></linearGradient><linearGradient id="gc18" gradientUnits="objectBoundingBox" x1="0" y1="0" x2="1" y2="0"><stop offset="0.000" stop-color="#fffc9f"/><stop offset="0.153" stop-color="#faff9b"/><stop offset="0.285" stop-color="#d5ff82"/><stop offset="0.343" stop-color="#b5ff8f"/><stop offset="0.467" stop-color="#5bffd6"/><stop offset="0.548" stop-color="#37ffe8"/><stop offset="0.584" stop-color="#44ffd1"/><stop offset="0.606" stop-color="#69ffa6"/><stop offset="0.621" stop-color="#95ff76"/><stop offset="0.643" stop-color="#fffe08"/><stop offset="0.665" stop-color="#ff8206"/><stop offset="0.672" stop-color="#ff7406"/><stop offset="0.679" stop-color="#ff8606"/><stop offset="0.686" stop-color="#ffe206"/><stop offset="0.694" stop-color="#f3ff12"/><stop offset="0.701" stop-color="#fffe07"/><stop offset="0.708" stop-color="#ffe508"/><stop offset="0.723" stop-color="#ffdb0b"/><stop offset="0.803" stop-color="#ffee2d"/><stop offset="0.906" stop-color="#ffef61"/><stop offset="1.000" stop-color="#fff16b"/></linearGradient><linearGradient id="gc19" gradientUnits="objectBoundingBox" x1="0" y1="0" x2="1" y2="0"><stop offset="0.000" stop-color="#fffca7"/><stop offset="0.146" stop-color="#fbffa3"/><stop offset="0.278" stop-color="#d6ff86"/><stop offset="0.343" stop-color="#afff94"/><stop offset="0.482" stop-color="#3bfff3"/><stop offset="0.519" stop-color="#28f8ff"/><stop offset="0.577" stop-color="#18c2ff"/><stop offset="0.613" stop-color="#0e97ff"/><stop offset="0.635" stop-color="#0993ff"/><stop offset="0.672" stop-color="#05c8ff"/><stop offset="0.679" stop-color="#ffd005"/><stop offset="0.686" stop-color="#bbff49"/><stop offset="0.694" stop-color="#8fff76"/><stop offset="0.701" stop-color="#bdff49"/><stop offset="0.708" stop-color="#fdff0a"/><stop offset="0.716" stop-color="#ffe509"/><stop offset="0.745" stop-color="#ffe410"/><stop offset="0.847" stop-color="#fff047"/><stop offset="0.935" stop-color="#fff068"/><stop offset="1.000" stop-color="#fff16b"/></linearGradient><linearGradient id="gc20" gradientUnits="objectBoundingBox" x1="0" y1="0" x2="1" y2="0"><stop offset="0.000" stop-color="#fffcaa"/><stop offset="0.146" stop-color="#fbffa6"/><stop offset="0.278" stop-color="#d6ff87"/><stop offset="0.336" stop-color="#b5ff90"/><stop offset="0.482" stop-color="#36fff8"/><stop offset="0.519" stop-color="#28f0ff"/><stop offset="0.570" stop-color="#1abaff"/><stop offset="0.643" stop-color="#0824ff"/><stop offset="0.665" stop-color="#0506ff"/><stop offset="0.672" stop-color="#0505f6"/><stop offset="0.679" stop-color="#e6ff1e"/><stop offset="0.686" stop-color="#68ff9c"/><stop offset="0.694" stop-color="#3dffc8"/><stop offset="0.701" stop-color="#88ff7e"/><stop offset="0.708" stop-color="#e7ff20"/><stop offset="0.716" stop-color="#ffeb09"/><stop offset="0.730" stop-color="#ffe30c"/><stop offset="0.833" stop-color="#fff03e"/><stop offset="0.920" stop-color="#ffef65"/><stop offset="1.000" stop-color="#fff16b"/></linearGradient><linearGradient id="gc21" gradientUnits="objectBoundingBox" x1="0" y1="0" x2="1" y2="0"><stop offset="0.000" stop-color="#fffcaa"/><stop offset="0.146" stop-color="#fbffa6"/><stop offset="0.278" stop-color="#d6ff87"/><stop offset="0.336" stop-color="#b5ff90"/><stop offset="0.482" stop-color="#36fff8"/><stop offset="0.519" stop-color="#28f0ff"/><stop offset="0.570" stop-color="#1abaff"/><stop offset="0.643" stop-color="#0824ff"/><stop offset="0.665" stop-color="#0506ff"/><stop offset="0.672" stop-color="#0505f6"/><stop offset="0.679" stop-color="#e6ff1e"/><stop offset="0.686" stop-color="#68ff9c"/><stop offset="0.694" stop-color="#3dffc8"/><stop offset="0.701" stop-color="#88ff7e"/><stop offset="0.708" stop-color="#e7ff20"/><stop offset="0.716" stop-color="#ffeb09"/><stop offset="0.730" stop-color="#ffe30c"/><stop offset="0.833" stop-color="#fff03e"/><stop offset="0.920" stop-color="#ffef65"/><stop offset="1.000" stop-color="#fff16b"/></linearGradient><linearGradient id="gc22" gradientUnits="objectBoundingBox" x1="0" y1="0" x2="1" y2="0"><stop offset="0.000" stop-color="#fffca7"/><stop offset="0.146" stop-color="#fbffa3"/><stop offset="0.278" stop-color="#d6ff86"/><stop offset="0.343" stop-color="#afff94"/><stop offset="0.482" stop-color="#3bfff3"/><stop offset="0.519" stop-color="#28f8ff"/><stop offset="0.577" stop-color="#18c2ff"/><stop offset="0.613" stop-color="#0e97ff"/><stop offset="0.635" stop-color="#0993ff"/><stop offset="0.672" stop-color="#05c8ff"/><stop offset="0.679" stop-color="#ffd005"/><stop offset="0.686" stop-color="#bbff49"/><stop offset="0.694" stop-color="#8fff76"/><stop offset="0.701" stop-color="#bdff49"/><stop offset="0.708" stop-color="#fdff0a"/><stop offset="0.716" stop-color="#ffe509"/><stop offset="0.745" stop-color="#ffe410"/><stop offset="0.847" stop-color="#fff047"/><stop offset="0.935" stop-color="#fff068"/><stop offset="1.000" stop-color="#fff16b"/></linearGradient><linearGradient id="gc23" gradientUnits="objectBoundingBox" x1="0" y1="0" x2="1" y2="0"><stop offset="0.000" stop-color="#fffc9f"/><stop offset="0.153" stop-color="#faff9b"/><stop offset="0.285" stop-color="#d5ff82"/><stop offset="0.343" stop-color="#b5ff8f"/><stop offset="0.467" stop-color="#5bffd6"/><stop offset="0.548" stop-color="#37ffe8"/><stop offset="0.584" stop-color="#44ffd1"/><stop offset="0.606" stop-color="#69ffa6"/><stop offset="0.621" stop-color="#95ff76"/><stop offset="0.643" stop-color="#fffe08"/><stop offset="0.665" stop-color="#ff8206"/><stop offset="0.672" stop-color="#ff7406"/><stop offset="0.679" stop-color="#ff8606"/><stop offset="0.686" stop-color="#ffe206"/><stop offset="0.694" stop-color="#f3ff12"/><stop offset="0.701" stop-color="#fffe07"/><stop offset="0.708" stop-color="#ffe508"/><stop offset="0.723" stop-color="#ffdb0b"/><stop offset="0.803" stop-color="#ffee2d"/><stop offset="0.906" stop-color="#ffef61"/><stop offset="1.000" stop-color="#fff16b"/></linearGradient><linearGradient id="gc24" gradientUnits="objectBoundingBox" x1="0" y1="0" x2="1" y2="0"><stop offset="0.000" stop-color="#fffa96"/><stop offset="0.168" stop-color="#f9ff8f"/><stop offset="0.292" stop-color="#d9ff7a"/><stop offset="0.351" stop-color="#beff85"/><stop offset="0.438" stop-color="#92ffa2"/><stop offset="0.504" stop-color="#91ff99"/><stop offset="0.540" stop-color="#9dff84"/><stop offset="0.570" stop-color="#d9ff41"/><stop offset="0.584" stop-color="#fffd16"/><stop offset="0.635" stop-color="#ff4e0a"/><stop offset="0.650" stop-color="#ff2c08"/><stop offset="0.657" stop-color="#e60707"/><stop offset="0.665" stop-color="#830707"/><stop offset="0.672" stop-color="#830606"/><stop offset="0.679" stop-color="#ff2106"/><stop offset="0.686" stop-color="#ff9807"/><stop offset="0.694" stop-color="#ffc507"/><stop offset="0.708" stop-color="#ffcf09"/><stop offset="0.789" stop-color="#ffeb25"/><stop offset="0.906" stop-color="#ffef61"/><stop offset="1.000" stop-color="#fff16b"/></linearGradient><linearGradient id="gc25" gradientUnits="objectBoundingBox" x1="0" y1="0" x2="1" y2="0"><stop offset="0.000" stop-color="#fff88b"/><stop offset="0.153" stop-color="#ffff84"/><stop offset="0.329" stop-color="#dfff68"/><stop offset="0.409" stop-color="#cbff6e"/><stop offset="0.467" stop-color="#d8ff59"/><stop offset="0.526" stop-color="#fffa27"/><stop offset="0.540" stop-color="#ffe823"/><stop offset="0.592" stop-color="#ff7115"/><stop offset="0.628" stop-color="#ff2f0c"/><stop offset="0.650" stop-color="#fd0808"/><stop offset="0.657" stop-color="#dc0808"/><stop offset="0.665" stop-color="#9c0707"/><stop offset="0.672" stop-color="#ae0707"/><stop offset="0.679" stop-color="#ff2607"/><stop offset="0.686" stop-color="#ff7c07"/><stop offset="0.694" stop-color="#ffa208"/><stop offset="0.708" stop-color="#ffc10a"/><stop offset="0.745" stop-color="#ffdd12"/><stop offset="0.840" stop-color="#fff043"/><stop offset="0.927" stop-color="#fff067"/><stop offset="1.000" stop-color="#fff16b"/></linearGradient><linearGradient id="gc26" gradientUnits="objectBoundingBox" x1="0" y1="0" x2="1" y2="0"><stop offset="0.000" stop-color="#fff480"/><stop offset="0.153" stop-color="#fff97a"/><stop offset="0.394" stop-color="#fbff40"/><stop offset="0.445" stop-color="#ffed34"/><stop offset="0.519" stop-color="#ffb229"/><stop offset="0.584" stop-color="#ff5e17"/><stop offset="0.613" stop-color="#ff3f10"/><stop offset="0.628" stop-color="#ff190d"/><stop offset="0.635" stop-color="#f60b0b"/><stop offset="0.643" stop-color="#e60a0a"/><stop offset="0.650" stop-color="#e20909"/><stop offset="0.665" stop-color="#f90808"/><stop offset="0.672" stop-color="#ff1f08"/><stop offset="0.686" stop-color="#ff7308"/><stop offset="0.701" stop-color="#ffa80a"/><stop offset="0.723" stop-color="#ffcb0d"/><stop offset="0.789" stop-color="#ffe926"/><stop offset="0.913" stop-color="#ffef64"/><stop offset="1.000" stop-color="#fff16b"/></linearGradient><linearGradient id="gc27" gradientUnits="objectBoundingBox" x1="0" y1="0" x2="1" y2="0"><stop offset="0.000" stop-color="#ffef75"/><stop offset="0.168" stop-color="#fff06e"/><stop offset="0.358" stop-color="#ffe342"/><stop offset="0.460" stop-color="#ffb933"/><stop offset="0.548" stop-color="#ff7822"/><stop offset="0.606" stop-color="#ff4512"/><stop offset="0.621" stop-color="#ff260f"/><stop offset="0.628" stop-color="#ff0e0e"/><stop offset="0.643" stop-color="#d70b0b"/><stop offset="0.650" stop-color="#d30a0a"/><stop offset="0.657" stop-color="#e10a0a"/><stop offset="0.665" stop-color="#fc0909"/><stop offset="0.694" stop-color="#ff8a0a"/><stop offset="0.708" stop-color="#ffb10c"/><stop offset="0.738" stop-color="#ffd211"/><stop offset="0.818" stop-color="#ffee37"/><stop offset="0.920" stop-color="#ffef65"/><stop offset="1.000" stop-color="#fff16b"/></linearGradient><linearGradient id="gc28" gradientUnits="objectBoundingBox" x1="0" y1="0" x2="1" y2="0"><stop offset="0.000" stop-color="#ffe76c"/><stop offset="0.190" stop-color="#ffe464"/><stop offset="0.380" stop-color="#ffc53e"/><stop offset="0.519" stop-color="#ff8c2a"/><stop offset="0.606" stop-color="#ff4313"/><stop offset="0.628" stop-color="#ff120f"/><stop offset="0.643" stop-color="#e00d0d"/><stop offset="0.650" stop-color="#de0c0c"/><stop offset="0.665" stop-color="#ff0f0b"/><stop offset="0.694" stop-color="#ff870b"/><stop offset="0.716" stop-color="#ffb80e"/><stop offset="0.759" stop-color="#ffdb1a"/><stop offset="0.840" stop-color="#ffef44"/><stop offset="0.927" stop-color="#fff067"/><stop offset="1.000" stop-color="#fff16b"/></linearGradient><linearGradient id="gc29" gradientUnits="objectBoundingBox" x1="0" y1="0" x2="1" y2="0"><stop offset="0.000" stop-color="#ffdf64"/><stop offset="0.212" stop-color="#ffd55c"/><stop offset="0.453" stop-color="#ffa834"/><stop offset="0.526" stop-color="#ff8728"/><stop offset="0.613" stop-color="#ff3b13"/><stop offset="0.635" stop-color="#ff120f"/><stop offset="0.650" stop-color="#f90d0d"/><stop offset="0.657" stop-color="#ff120c"/><stop offset="0.679" stop-color="#ff520c"/><stop offset="0.701" stop-color="#ff990d"/><stop offset="0.730" stop-color="#ffc512"/><stop offset="0.796" stop-color="#ffe72c"/><stop offset="0.913" stop-color="#ffef64"/><stop offset="1.000" stop-color="#fff16b"/></linearGradient><linearGradient id="gc30" gradientUnits="objectBoundingBox" x1="0" y1="0" x2="1" y2="0"><stop offset="0.000" stop-color="#ffd75e"/><stop offset="0.256" stop-color="#ffc854"/><stop offset="0.475" stop-color="#ffa232"/><stop offset="0.548" stop-color="#ff7924"/><stop offset="0.643" stop-color="#ff270f"/><stop offset="0.657" stop-color="#ff300e"/><stop offset="0.686" stop-color="#ff720e"/><stop offset="0.708" stop-color="#ffa510"/><stop offset="0.745" stop-color="#ffcd17"/><stop offset="0.818" stop-color="#ffec39"/><stop offset="0.920" stop-color="#ffef66"/><stop offset="1.000" stop-color="#fff16b"/></linearGradient><linearGradient id="gc31" gradientUnits="objectBoundingBox" x1="0" y1="0" x2="1" y2="0"><stop offset="0.000" stop-color="#ffcf5a"/><stop offset="0.278" stop-color="#ffc250"/><stop offset="0.475" stop-color="#ffa332"/><stop offset="0.555" stop-color="#ff7723"/><stop offset="0.635" stop-color="#ff4112"/><stop offset="0.657" stop-color="#ff4810"/><stop offset="0.679" stop-color="#ff660f"/><stop offset="0.708" stop-color="#ffa411"/><stop offset="0.752" stop-color="#ffcf1a"/><stop offset="0.825" stop-color="#ffec3d"/><stop offset="0.927" stop-color="#fff067"/><stop offset="1.000" stop-color="#fff16b"/></linearGradient><linearGradient id="gc32" gradientUnits="objectBoundingBox" x1="0" y1="0" x2="1" y2="0"><stop offset="0.000" stop-color="#ffca57"/><stop offset="0.292" stop-color="#ffc04d"/><stop offset="0.482" stop-color="#ffa231"/><stop offset="0.562" stop-color="#ff7622"/><stop offset="0.628" stop-color="#ff5115"/><stop offset="0.657" stop-color="#ff5911"/><stop offset="0.679" stop-color="#ff6e11"/><stop offset="0.716" stop-color="#ffac14"/><stop offset="0.774" stop-color="#ffda24"/><stop offset="0.847" stop-color="#ffed4a"/><stop offset="0.935" stop-color="#ffef69"/><stop offset="1.000" stop-color="#fff06b"/></linearGradient><linearGradient id="gc33" gradientUnits="objectBoundingBox" x1="0" y1="0" x2="1" y2="0"><stop offset="0.000" stop-color="#ffc755"/><stop offset="0.292" stop-color="#ffc04d"/><stop offset="0.489" stop-color="#ffa131"/><stop offset="0.592" stop-color="#ff691d"/><stop offset="0.635" stop-color="#ff5c15"/><stop offset="0.679" stop-color="#ff7513"/><stop offset="0.723" stop-color="#ffb216"/><stop offset="0.789" stop-color="#ffde2c"/><stop offset="0.862" stop-color="#ffeb51"/><stop offset="0.949" stop-color="#ffee6a"/><stop offset="1.000" stop-color="#ffef6b"/></linearGradient><linearGradient id="gc34" gradientUnits="objectBoundingBox" x1="0" y1="0" x2="1" y2="0"><stop offset="0.000" stop-color="#ffc453"/><stop offset="0.285" stop-color="#ffc04d"/><stop offset="0.489" stop-color="#ffa131"/><stop offset="0.577" stop-color="#ff7821"/><stop offset="0.628" stop-color="#ff6318"/><stop offset="0.672" stop-color="#ff7314"/><stop offset="0.730" stop-color="#ffb619"/><stop offset="0.811" stop-color="#ffe238"/><stop offset="0.927" stop-color="#ffeb68"/><stop offset="1.000" stop-color="#ffec6b"/></linearGradient><linearGradient id="gc35" gradientUnits="objectBoundingBox" x1="0" y1="0" x2="1" y2="0"><stop offset="0.000" stop-color="#ffc253"/><stop offset="0.292" stop-color="#ffbe4c"/><stop offset="0.504" stop-color="#ff9d30"/><stop offset="0.628" stop-color="#ff691a"/><stop offset="0.679" stop-color="#ff7c16"/><stop offset="0.738" stop-color="#ffb81c"/><stop offset="0.818" stop-color="#ffdf3c"/><stop offset="0.927" stop-color="#ffe868"/><stop offset="1.000" stop-color="#ffe96b"/></linearGradient><linearGradient id="gc36" gradientUnits="objectBoundingBox" x1="0" y1="0" x2="1" y2="0"><stop offset="0.000" stop-color="#ffc052"/><stop offset="0.292" stop-color="#ffbc4c"/><stop offset="0.511" stop-color="#ff9b2f"/><stop offset="0.628" stop-color="#ff6e1b"/><stop offset="0.679" stop-color="#ff7f18"/><stop offset="0.745" stop-color="#ffb81f"/><stop offset="0.825" stop-color="#ffdb41"/><stop offset="0.935" stop-color="#ffe469"/><stop offset="1.000" stop-color="#ffe56b"/></linearGradient><linearGradient id="gc37" gradientUnits="objectBoundingBox" x1="0" y1="0" x2="1" y2="0"><stop offset="0.000" stop-color="#ffbe52"/><stop offset="0.292" stop-color="#ffbb4c"/><stop offset="0.526" stop-color="#ff972e"/><stop offset="0.628" stop-color="#ff711d"/><stop offset="0.679" stop-color="#ff811a"/><stop offset="0.752" stop-color="#ffb823"/><stop offset="0.833" stop-color="#ffd845"/><stop offset="0.935" stop-color="#ffe069"/><stop offset="1.000" stop-color="#ffe16b"/></linearGradient><linearGradient id="gc38" gradientUnits="objectBoundingBox" x1="0" y1="0" x2="1" y2="0"><stop offset="0.000" stop-color="#ffbd52"/><stop offset="0.292" stop-color="#ffba4c"/><stop offset="0.533" stop-color="#ff962d"/><stop offset="0.628" stop-color="#ff751f"/><stop offset="0.679" stop-color="#ff821c"/><stop offset="0.767" stop-color="#ffbc29"/><stop offset="0.854" stop-color="#ffd750"/><stop offset="0.949" stop-color="#ffde6a"/><stop offset="1.000" stop-color="#ffde6b"/></linearGradient><linearGradient id="gc39" gradientUnits="objectBoundingBox" x1="0" y1="0" x2="1" y2="0"><stop offset="0.000" stop-color="#ffbc52"/><stop offset="0.292" stop-color="#ffb94c"/><stop offset="0.548" stop-color="#ff932c"/><stop offset="0.635" stop-color="#ff7820"/><stop offset="0.686" stop-color="#ff8a1e"/><stop offset="0.774" stop-color="#ffbd2c"/><stop offset="0.862" stop-color="#ffd553"/><stop offset="0.949" stop-color="#ffdc6a"/><stop offset="1.000" stop-color="#ffdc6b"/></linearGradient><linearGradient id="gc40" gradientUnits="objectBoundingBox" x1="0" y1="0" x2="1" y2="0"><stop offset="0.000" stop-color="#ffbc52"/><stop offset="0.292" stop-color="#ffb94c"/><stop offset="0.555" stop-color="#ff932c"/><stop offset="0.635" stop-color="#ff7b22"/><stop offset="0.694" stop-color="#ff9120"/><stop offset="0.781" stop-color="#ffc030"/><stop offset="0.876" stop-color="#ffd65a"/><stop offset="0.964" stop-color="#ffdb6b"/><stop offset="1.000" stop-color="#ffdc6b"/></linearGradient><linearGradient id="gc41" gradientUnits="objectBoundingBox" x1="0" y1="0" x2="1" y2="0"><stop offset="0.000" stop-color="#ffbc52"/><stop offset="0.292" stop-color="#ffb94c"/><stop offset="0.555" stop-color="#ff952d"/><stop offset="0.635" stop-color="#ff7e23"/><stop offset="0.686" stop-color="#ff8e22"/><stop offset="0.781" stop-color="#ffc031"/><stop offset="0.876" stop-color="#ffd65a"/><stop offset="0.964" stop-color="#ffdb6b"/><stop offset="1.000" stop-color="#ffdc6b"/></linearGradient><pattern id="stripeC" patternUnits="userSpaceOnUse" x="0" y="337.43" width="3.4" height="2.6571"><rect x="0" y="0" width="3.4" height="1.15" fill="#fff" fill-opacity="0.95"/><circle cx="0.2" cy="1.9" r="0.75" fill="#fff" fill-opacity="0.8"/></pattern><radialGradient id="rgC" cx="328.2" cy="365.9" r="46" gradientUnits="userSpaceOnUse"><stop offset="0" stop-color="#000"/><stop offset="0.45" stop-color="#222"/><stop offset="0.8" stop-color="#aaa"/><stop offset="1" stop-color="#fff"/></radialGradient><mask id="mC" maskUnits="userSpaceOnUse" x="0" y="0" width="550" height="467"><rect x="0" y="0" width="550" height="467" fill="url(#rgC)"/></mask><pattern id="dashP" patternUnits="userSpaceOnUse" x="59.2" y="0" width="6.74" height="5"><rect x="0" y="0" width="2.2" height="5" fill="#fff" fill-opacity="0.95"/><rect x="2.2" y="0" width="3.3" height="5" fill="#fff" fill-opacity="0.4"/></pattern><mask id="dashM"><rect x="0" y="0" width="550" height="467" fill="url(#dashP)"/></mask></defs><rect width="550" height="467" fill="#fff"/><rect x="57.00" y="28.80" width="421.70" height="1.41" fill="url(#ga0)"/><rect x="57.00" y="30.16" width="421.70" height="1.41" fill="url(#ga1)"/><rect x="57.00" y="31.52" width="421.70" height="1.41" fill="url(#ga2)"/><rect x="57.00" y="32.89" width="421.70" height="1.41" fill="url(#ga3)"/><rect x="57.00" y="34.25" width="421.70" height="1.41" fill="url(#ga4)"/><rect x="57.00" y="35.61" width="421.70" height="1.41" fill="url(#ga5)"/><rect x="57.00" y="36.97" width="421.70" height="1.41" fill="url(#ga6)"/><rect x="57.00" y="38.33" width="421.70" height="1.41" fill="url(#ga7)"/><rect x="57.00" y="39.70" width="421.70" height="1.41" fill="url(#ga8)"/><rect x="57.00" y="41.06" width="421.70" height="1.41" fill="url(#ga9)"/><rect x="57.00" y="42.42" width="421.70" height="1.41" fill="url(#ga10)"/><rect x="57.00" y="43.78" width="421.70" height="1.41" fill="url(#ga11)"/><rect x="57.00" y="45.14" width="421.70" height="1.41" fill="url(#ga12)"/><rect x="57.00" y="46.50" width="421.70" height="1.41" fill="url(#ga13)"/><rect x="57.00" y="47.87" width="421.70" height="1.41" fill="url(#ga14)"/><rect x="57.00" y="49.23" width="421.70" height="1.41" fill="url(#ga15)"/><rect x="57.00" y="50.59" width="421.70" height="1.41" fill="url(#ga16)"/><rect x="57.00" y="51.95" width="421.70" height="1.41" fill="url(#ga17)"/><rect x="57.00" y="53.31" width="421.70" height="1.41" fill="url(#ga18)"/><rect x="57.00" y="54.68" width="421.70" height="1.41" fill="url(#ga19)"/><rect x="57.00" y="56.04" width="421.70" height="1.41" fill="url(#ga20)"/><rect x="57.00" y="57.40" width="421.70" height="1.41" fill="url(#ga21)"/><rect x="57.00" y="58.76" width="421.70" height="1.41" fill="url(#ga22)"/><rect x="57.00" y="60.12" width="421.70" height="1.41" fill="url(#ga23)"/><rect x="57.00" y="61.49" width="421.70" height="1.41" fill="url(#ga24)"/><rect x="57.00" y="62.85" width="421.70" height="1.41" fill="url(#ga25)"/><rect x="57.00" y="64.21" width="421.70" height="1.41" fill="url(#ga26)"/><rect x="57.00" y="65.57" width="421.70" height="1.41" fill="url(#ga27)"/><rect x="57.00" y="66.93" width="421.70" height="1.41" fill="url(#ga28)"/><rect x="57.00" y="68.30" width="421.70" height="1.41" fill="url(#ga29)"/><rect x="57.00" y="69.66" width="421.70" height="1.41" fill="url(#ga30)"/><rect x="57.00" y="71.02" width="421.70" height="1.41" fill="url(#ga31)"/><rect x="57.00" y="72.38" width="421.70" height="1.41" fill="url(#ga32)"/><rect x="57.00" y="73.74" width="421.70" height="1.41" fill="url(#ga33)"/><rect x="57.00" y="75.10" width="421.70" height="1.41" fill="url(#ga34)"/><rect x="57.00" y="76.47" width="421.70" height="1.41" fill="url(#ga35)"/><rect x="57.00" y="77.83" width="421.70" height="1.41" fill="url(#ga36)"/><rect x="57.00" y="79.19" width="421.70" height="1.41" fill="url(#ga37)"/><rect x="57.00" y="80.55" width="421.70" height="1.41" fill="url(#ga38)"/><rect x="57.00" y="81.91" width="421.70" height="1.41" fill="url(#ga39)"/><rect x="57.00" y="83.28" width="421.70" height="1.41" fill="url(#ga40)"/><rect x="57.00" y="84.64" width="421.70" height="1.41" fill="url(#ga41)"/><rect x="57.0" y="28.8" width="421.7" height="57.2" fill="url(#stripeA)"/><rect x="57.0" y="27.9" width="421.7" height="0.9" fill="#b8b4f4"/><rect x="57.0" y="28.8" width="421.7" height="0.7" fill="#c8b430" fill-opacity="0.8"/><rect x="57.0" y="85.3" width="421.7" height="0.7" fill="#c8b430" fill-opacity="0.8"/><rect x="57.0" y="86.0" width="421.7" height="0.9" fill="#b8b4f4"/><circle cx="335.7" cy="57.5" r="3.0" fill="#fff" stroke="#3a3ae0" stroke-width="1.2"/><rect x="60.50" y="185.00" width="204.30" height="2.73" fill="url(#gbl0)"/><rect x="60.50" y="187.68" width="204.30" height="2.73" fill="url(#gbl1)"/><rect x="60.50" y="190.35" width="204.30" height="2.73" fill="url(#gbl2)"/><rect x="60.50" y="193.03" width="204.30" height="2.73" fill="url(#gbl3)"/><rect x="60.50" y="195.70" width="204.30" height="2.73" fill="url(#gbl4)"/><rect x="60.50" y="198.38" width="204.30" height="2.73" fill="url(#gbl5)"/><rect x="60.50" y="201.06" width="204.30" height="2.73" fill="url(#gbl6)"/><rect x="60.50" y="203.73" width="204.30" height="2.73" fill="url(#gbl7)"/><rect x="60.50" y="206.41" width="204.30" height="2.73" fill="url(#gbl8)"/><rect x="60.50" y="209.09" width="204.30" height="2.73" fill="url(#gbl9)"/><rect x="60.50" y="211.76" width="204.30" height="2.73" fill="url(#gbl10)"/><rect x="60.50" y="214.44" width="204.30" height="2.73" fill="url(#gbl11)"/><rect x="60.50" y="217.11" width="204.30" height="2.73" fill="url(#gbl12)"/><rect x="60.50" y="219.79" width="204.30" height="2.73" fill="url(#gbl13)"/><rect x="60.50" y="222.47" width="204.30" height="2.73" fill="url(#gbl14)"/><rect x="60.50" y="225.14" width="204.30" height="2.73" fill="url(#gbl15)"/><rect x="60.50" y="227.82" width="204.30" height="2.73" fill="url(#gbl16)"/><rect x="60.50" y="230.50" width="204.30" height="2.73" fill="url(#gbl17)"/><rect x="60.50" y="233.17" width="204.30" height="2.73" fill="url(#gbl18)"/><rect x="60.50" y="235.85" width="204.30" height="2.73" fill="url(#gbl19)"/><rect x="60.50" y="238.52" width="204.30" height="2.73" fill="url(#gbl20)"/><rect x="266.40" y="185.00" width="108.20" height="1.39" fill="url(#gbm0)"/><rect x="266.40" y="186.34" width="108.20" height="1.39" fill="url(#gbm1)"/><rect x="266.40" y="187.68" width="108.20" height="1.39" fill="url(#gbm2)"/><rect x="266.40" y="189.01" width="108.20" height="1.39" fill="url(#gbm3)"/><rect x="266.40" y="190.35" width="108.20" height="1.39" fill="url(#gbm4)"/><rect x="266.40" y="191.69" width="108.20" height="1.39" fill="url(#gbm5)"/><rect x="266.40" y="193.03" width="108.20" height="1.39" fill="url(#gbm6)"/><rect x="266.40" y="194.37" width="108.20" height="1.39" fill="url(#gbm7)"/><rect x="266.40" y="195.70" width="108.20" height="1.39" fill="url(#gbm8)"/><rect x="266.40" y="197.04" width="108.20" height="1.39" fill="url(#gbm9)"/><rect x="266.40" y="198.38" width="108.20" height="1.39" fill="url(#gbm10)"/><rect x="266.40" y="199.72" width="108.20" height="1.39" fill="url(#gbm11)"/><rect x="266.40" y="201.06" width="108.20" height="1.39" fill="url(#gbm12)"/><rect x="266.40" y="202.40" width="108.20" height="1.39" fill="url(#gbm13)"/><rect x="266.40" y="203.73" width="108.20" height="1.39" fill="url(#gbm14)"/><rect x="266.40" y="205.07" width="108.20" height="1.39" fill="url(#gbm15)"/><rect x="266.40" y="206.41" width="108.20" height="1.39" fill="url(#gbm16)"/><rect x="266.40" y="207.75" width="108.20" height="1.39" fill="url(#gbm17)"/><rect x="266.40" y="209.09" width="108.20" height="1.39" fill="url(#gbm18)"/><rect x="266.40" y="210.42" width="108.20" height="1.39" fill="url(#gbm19)"/><rect x="266.40" y="211.76" width="108.20" height="1.39" fill="url(#gbm20)"/><rect x="266.40" y="213.10" width="108.20" height="1.39" fill="url(#gbm21)"/><rect x="266.40" y="214.44" width="108.20" height="1.39" fill="url(#gbm22)"/><rect x="266.40" y="215.78" width="108.20" height="1.39" fill="url(#gbm23)"/><rect x="266.40" y="217.11" width="108.20" height="1.39" fill="url(#gbm24)"/><rect x="266.40" y="218.45" width="108.20" height="1.39" fill="url(#gbm25)"/><rect x="266.40" y="219.79" width="108.20" height="1.39" fill="url(#gbm26)"/><rect x="266.40" y="221.13" width="108.20" height="1.39" fill="url(#gbm27)"/><rect x="266.40" y="222.47" width="108.20" height="1.39" fill="url(#gbm28)"/><rect x="266.40" y="223.80" width="108.20" height="1.39" fill="url(#gbm29)"/><rect x="266.40" y="225.14" width="108.20" height="1.39" fill="url(#gbm30)"/><rect x="266.40" y="226.48" width="108.20" height="1.39" fill="url(#gbm31)"/><rect x="266.40" y="227.82" width="108.20" height="1.39" fill="url(#gbm32)"/><rect x="266.40" y="229.16" width="108.20" height="1.39" fill="url(#gbm33)"/><rect x="266.40" y="230.50" width="108.20" height="1.39" fill="url(#gbm34)"/><rect x="266.40" y="231.83" width="108.20" height="1.39" fill="url(#gbm35)"/><rect x="266.40" y="233.17" width="108.20" height="1.39" fill="url(#gbm36)"/><rect x="266.40" y="234.51" width="108.20" height="1.39" fill="url(#gbm37)"/><rect x="266.40" y="235.85" width="108.20" height="1.39" fill="url(#gbm38)"/><rect x="266.40" y="237.19" width="108.20" height="1.39" fill="url(#gbm39)"/><rect x="266.40" y="238.52" width="108.20" height="1.39" fill="url(#gbm40)"/><rect x="266.40" y="239.86" width="108.20" height="1.39" fill="url(#gbm41)"/><rect x="374.60" y="185.00" width="102.40" height="56.25" fill="url(#gbr0)"/><rect x="60.5" y="185.0" width="204.3" height="56.2" fill="url(#gridB)"/><rect x="374.6" y="185.0" width="102.4" height="56.2" fill="url(#gridB)"/><rect x="266.4" y="185.0" width="108.2" height="56.2" fill="url(#stripeB)"/><rect x="60.5" y="184.1" width="416.5" height="0.9" fill="#b8b4f4"/><rect x="60.5" y="241.2" width="416.5" height="0.9" fill="#b8b4f4"/><rect x="266.4" y="185.0" width="108.2" height="0.7" fill="#c8b430" fill-opacity="0.8"/><rect x="266.4" y="240.5" width="108.2" height="0.7" fill="#c8b430" fill-opacity="0.8"/><circle cx="337.6" cy="213.4" r="3.0" fill="#fff" stroke="#3a3ae0" stroke-width="1.2"/><rect x="194.60" y="338.00" width="205.40" height="1.38" fill="url(#gc0)"/><rect x="194.60" y="339.33" width="205.40" height="1.38" fill="url(#gc1)"/><rect x="194.60" y="340.66" width="205.40" height="1.38" fill="url(#gc2)"/><rect x="194.60" y="341.99" width="205.40" height="1.38" fill="url(#gc3)"/><rect x="194.60" y="343.31" width="205.40" height="1.38" fill="url(#gc4)"/><rect x="194.60" y="344.64" width="205.40" height="1.38" fill="url(#gc5)"/><rect x="194.60" y="345.97" width="205.40" height="1.38" fill="url(#gc6)"/><rect x="194.60" y="347.30" width="205.40" height="1.38" fill="url(#gc7)"/><rect x="194.60" y="348.63" width="205.40" height="1.38" fill="url(#gc8)"/><rect x="194.60" y="349.96" width="205.40" height="1.38" fill="url(#gc9)"/><rect x="194.60" y="351.29" width="205.40" height="1.38" fill="url(#gc10)"/><rect x="194.60" y="352.61" width="205.40" height="1.38" fill="url(#gc11)"/><rect x="194.60" y="353.94" width="205.40" height="1.38" fill="url(#gc12)"/><rect x="194.60" y="355.27" width="205.40" height="1.38" fill="url(#gc13)"/><rect x="194.60" y="356.60" width="205.40" height="1.38" fill="url(#gc14)"/><rect x="194.60" y="357.93" width="205.40" height="1.38" fill="url(#gc15)"/><rect x="194.60" y="359.26" width="205.40" height="1.38" fill="url(#gc16)"/><rect x="194.60" y="360.59" width="205.40" height="1.38" fill="url(#gc17)"/><rect x="194.60" y="361.91" width="205.40" height="1.38" fill="url(#gc18)"/><rect x="194.60" y="363.24" width="205.40" height="1.38" fill="url(#gc19)"/><rect x="194.60" y="364.57" width="205.40" height="1.38" fill="url(#gc20)"/><rect x="194.60" y="365.90" width="205.40" height="1.38" fill="url(#gc21)"/><rect x="194.60" y="367.23" width="205.40" height="1.38" fill="url(#gc22)"/><rect x="194.60" y="368.56" width="205.40" height="1.38" fill="url(#gc23)"/><rect x="194.60" y="369.89" width="205.40" height="1.38" fill="url(#gc24)"/><rect x="194.60" y="371.21" width="205.40" height="1.38" fill="url(#gc25)"/><rect x="194.60" y="372.54" width="205.40" height="1.38" fill="url(#gc26)"/><rect x="194.60" y="373.87" width="205.40" height="1.38" fill="url(#gc27)"/><rect x="194.60" y="375.20" width="205.40" height="1.38" fill="url(#gc28)"/><rect x="194.60" y="376.53" width="205.40" height="1.38" fill="url(#gc29)"/><rect x="194.60" y="377.86" width="205.40" height="1.38" fill="url(#gc30)"/><rect x="194.60" y="379.19" width="205.40" height="1.38" fill="url(#gc31)"/><rect x="194.60" y="380.51" width="205.40" height="1.38" fill="url(#gc32)"/><rect x="194.60" y="381.84" width="205.40" height="1.38" fill="url(#gc33)"/><rect x="194.60" y="383.17" width="205.40" height="1.38" fill="url(#gc34)"/><rect x="194.60" y="384.50" width="205.40" height="1.38" fill="url(#gc35)"/><rect x="194.60" y="385.83" width="205.40" height="1.38" fill="url(#gc36)"/><rect x="194.60" y="387.16" width="205.40" height="1.38" fill="url(#gc37)"/><rect x="194.60" y="388.49" width="205.40" height="1.38" fill="url(#gc38)"/><rect x="194.60" y="389.81" width="205.40" height="1.38" fill="url(#gc39)"/><rect x="194.60" y="391.14" width="205.40" height="1.38" fill="url(#gc40)"/><rect x="194.60" y="392.47" width="205.40" height="1.38" fill="url(#gc41)"/><rect x="194.6" y="338.0" width="205.4" height="55.8" fill="url(#stripeC)" mask="url(#mC)"/><rect x="60.0" y="340.0" width="134.1" height="1.6" fill="#ffa71f" mask="url(#dashM)"/><rect x="60.0" y="345.6" width="134.1" height="1.6" fill="#ffaf1f" mask="url(#dashM)"/><rect x="60.0" y="351.1" width="134.1" height="1.6" fill="#ffcf1f" mask="url(#dashM)"/><rect x="60.0" y="356.7" width="134.1" height="1.6" fill="#fff71f" mask="url(#dashM)"/><rect x="60.0" y="362.2" width="134.1" height="1.6" fill="#f7ff27" mask="url(#dashM)"/><rect x="60.0" y="367.9" width="134.1" height="1.6" fill="#f7ff27" mask="url(#dashM)"/><rect x="60.0" y="373.7" width="134.1" height="1.6" fill="#fff71f" mask="url(#dashM)"/><rect x="60.0" y="379.3" width="134.1" height="1.6" fill="#ffcf1f" mask="url(#dashM)"/><rect x="60.0" y="385.0" width="134.1" height="1.6" fill="#ffaf1f" mask="url(#dashM)"/><rect x="60.0" y="390.6" width="134.1" height="1.6" fill="#ffa71f" mask="url(#dashM)"/><rect x="401.0" y="340.0" width="77.0" height="1.6" fill="#ffcf1f" mask="url(#dashM)"/><rect x="401.0" y="345.6" width="77.0" height="1.6" fill="#ffd71f" mask="url(#dashM)"/><rect x="401.0" y="351.1" width="77.0" height="1.6" fill="#ffdf1f" mask="url(#dashM)"/><rect x="401.0" y="356.7" width="77.0" height="1.6" fill="#ffef1f" mask="url(#dashM)"/><rect x="401.0" y="362.2" width="77.0" height="1.6" fill="#fff71f" mask="url(#dashM)"/><rect x="401.0" y="367.9" width="77.0" height="1.6" fill="#fff71f" mask="url(#dashM)"/><rect x="401.0" y="373.7" width="77.0" height="1.6" fill="#ffef1f" mask="url(#dashM)"/><rect x="401.0" y="379.3" width="77.0" height="1.6" fill="#ffdf1f" mask="url(#dashM)"/><rect x="401.0" y="385.0" width="77.0" height="1.6" fill="#ffd71f" mask="url(#dashM)"/><rect x="401.0" y="390.6" width="77.0" height="1.6" fill="#ffcf1f" mask="url(#dashM)"/><circle cx="333.2" cy="365.9" r="2.7" fill="#fff"/><rect x="54.4" y="12.6" width="424.2" height="3.3" fill="#efefef"/><rect x="480.5" y="6.0" width="17.5" height="120.0" fill="#f3f3f3"/><rect x="478.6" y="12.6" width="2" height="87.7" fill="#f6f6f6"/><path d="M54.4 13.6 V100.3 H478.0" fill="none" stroke="#666" stroke-width="1"/><line x1="54.4" y1="16.3" x2="57.4" y2="16.3" stroke="#666" stroke-width="1"/><text x="52.6" y="24.2" text-anchor="end" class="t">300</text><line x1="54.4" y1="30.0" x2="57.4" y2="30.0" stroke="#666" stroke-width="1"/><text x="52.6" y="37.2" text-anchor="end" class="t">200</text><line x1="54.4" y1="43.6" x2="57.4" y2="43.6" stroke="#666" stroke-width="1"/><text x="52.6" y="50.2" text-anchor="end" class="t">100</text><line x1="54.4" y1="57.3" x2="57.4" y2="57.3" stroke="#666" stroke-width="1"/><text x="52.6" y="63.1" text-anchor="end" class="t">0</text><line x1="54.4" y1="71.0" x2="57.4" y2="71.0" stroke="#666" stroke-width="1"/><text x="52.6" y="76.1" text-anchor="end" class="t">−100</text><line x1="54.4" y1="84.6" x2="57.4" y2="84.6" stroke="#666" stroke-width="1"/><text x="52.6" y="89.1" text-anchor="end" class="t">−200</text><line x1="54.4" y1="98.3" x2="57.4" y2="98.3" stroke="#666" stroke-width="1"/><text x="52.6" y="102.1" text-anchor="end" class="t">−300</text><line x1="62.6" y1="100.3" x2="62.6" y2="97.3" stroke="#666" stroke-width="1"/><text x="62.6" y="112.5" text-anchor="middle" class="t">2</text><text x="58.9" y="113.4" text-anchor="end" class="t" style="stroke-width:0.45px">−</text><line x1="130.9" y1="100.3" x2="130.9" y2="97.3" stroke="#666" stroke-width="1"/><text x="130.9" y="112.5" text-anchor="middle" class="t">1.5</text><text x="122.5" y="113.4" text-anchor="end" class="t" style="stroke-width:0.45px">−</text><line x1="199.2" y1="100.3" x2="199.2" y2="97.3" stroke="#666" stroke-width="1"/><text x="199.2" y="112.5" text-anchor="middle" class="t">1</text><text x="195.5" y="113.4" text-anchor="end" class="t" style="stroke-width:0.45px">−</text><line x1="267.5" y1="100.3" x2="267.5" y2="97.3" stroke="#666" stroke-width="1"/><text x="267.5" y="112.5" text-anchor="middle" class="t">0.5</text><text x="259.1" y="113.4" text-anchor="end" class="t" style="stroke-width:0.45px">−</text><line x1="335.8" y1="100.3" x2="335.8" y2="97.3" stroke="#666" stroke-width="1"/><text x="334.8" y="112.5" text-anchor="middle" class="t">0</text><line x1="404.1" y1="100.3" x2="404.1" y2="97.3" stroke="#666" stroke-width="1"/><text x="403.1" y="112.5" text-anchor="middle" class="t">0.5</text><line x1="472.4" y1="100.3" x2="472.4" y2="97.3" stroke="#666" stroke-width="1"/><text x="471.4" y="112.5" text-anchor="middle" class="t">1</text><text transform="translate(15.0 62.3) rotate(-90)" text-anchor="middle" class="t">y coordinate&#160; (mm)</text><text transform="translate(28.4 62.8) rotate(-90) scale(1.5 1)" text-anchor="middle" class="t" style="fill:#555;stroke:#555;stroke-width:0.1px">→</text><text x="207.0" y="131.4" class="t">x coordinate&#160; (m)</text><text transform="translate(294.2 129.5) scale(1.5 1)" class="t" style="stroke-width:0.15px">→</text><text x="275.0" y="151.1" text-anchor="middle" class="t" style="font-size:15px">(<tspan font-weight="bold">a</tspan>)</text><rect x="487.2" y="10.0" width="9.6" height="112.3" fill="url(#jet)" stroke="#222" stroke-width="0.8"/><text x="498.6" y="126.3" class="t">0</text><line x1="487.2" y1="102.0" x2="489" y2="102.0" stroke="#222" stroke-width="0.7"/><line x1="495" y1="102.0" x2="496.8" y2="102.0" stroke="#222" stroke-width="0.7"/><text x="498.6" y="106.4" class="t">10</text><line x1="487.2" y1="82.0" x2="489" y2="82.0" stroke="#222" stroke-width="0.7"/><line x1="495" y1="82.0" x2="496.8" y2="82.0" stroke="#222" stroke-width="0.7"/><text x="498.6" y="86.4" class="t">20</text><line x1="487.2" y1="62.1" x2="489" y2="62.1" stroke="#222" stroke-width="0.7"/><line x1="495" y1="62.1" x2="496.8" y2="62.1" stroke="#222" stroke-width="0.7"/><text x="498.6" y="66.5" class="t">30</text><line x1="487.2" y1="42.1" x2="489" y2="42.1" stroke="#222" stroke-width="0.7"/><line x1="495" y1="42.1" x2="496.8" y2="42.1" stroke="#222" stroke-width="0.7"/><text x="498.6" y="46.5" class="t">40</text><line x1="487.2" y1="22.2" x2="489" y2="22.2" stroke="#222" stroke-width="0.7"/><line x1="495" y1="22.2" x2="496.8" y2="22.2" stroke="#222" stroke-width="0.7"/><text x="498.6" y="26.6" class="t">50</text><text transform="translate(528 66.2) rotate(-90)" text-anchor="middle" class="t">depth averaged&#160; velocity</text><text transform="translate(544 67.0) rotate(-90)" text-anchor="middle" class="t">(cm/s)</text><rect x="55.5" y="169.5" width="423.1" height="2.5" fill="#efefef"/><rect x="480.5" y="160.0" width="17.5" height="120.0" fill="#f3f3f3"/><rect x="478.6" y="169.5" width="2" height="85.7" fill="#f6f6f6"/><path d="M55.5 170.5 V255.2 H478.0" fill="none" stroke="#666" stroke-width="1"/><line x1="55.5" y1="172.5" x2="58.5" y2="172.5" stroke="#666" stroke-width="1"/><text x="52.6" y="178.5" text-anchor="end" class="t">300</text><line x1="55.5" y1="186.0" x2="58.5" y2="186.0" stroke="#666" stroke-width="1"/><text x="52.6" y="191.6" text-anchor="end" class="t">200</text><line x1="55.5" y1="199.5" x2="58.5" y2="199.5" stroke="#666" stroke-width="1"/><text x="52.6" y="204.7" text-anchor="end" class="t">100</text><line x1="55.5" y1="213.0" x2="58.5" y2="213.0" stroke="#666" stroke-width="1"/><text x="52.6" y="217.8" text-anchor="end" class="t">0</text><line x1="55.5" y1="226.5" x2="58.5" y2="226.5" stroke="#666" stroke-width="1"/><text x="52.6" y="230.9" text-anchor="end" class="t">−100</text><line x1="55.5" y1="240.0" x2="58.5" y2="240.0" stroke="#666" stroke-width="1"/><text x="52.6" y="244.0" text-anchor="end" class="t">−200</text><line x1="55.5" y1="253.5" x2="58.5" y2="253.5" stroke="#666" stroke-width="1"/><text x="52.6" y="257.1" text-anchor="end" class="t">−300</text><line x1="66.2" y1="255.2" x2="66.2" y2="252.2" stroke="#666" stroke-width="1"/><text x="66.2" y="266.7" text-anchor="middle" class="t">2</text><text x="62.5" y="267.6" text-anchor="end" class="t" style="stroke-width:0.45px">−</text><line x1="134.0" y1="255.2" x2="134.0" y2="252.2" stroke="#666" stroke-width="1"/><text x="134.0" y="266.7" text-anchor="middle" class="t">1.5</text><text x="125.6" y="267.6" text-anchor="end" class="t" style="stroke-width:0.45px">−</text><line x1="201.8" y1="255.2" x2="201.8" y2="252.2" stroke="#666" stroke-width="1"/><text x="201.8" y="266.7" text-anchor="middle" class="t">1</text><text x="198.1" y="267.6" text-anchor="end" class="t" style="stroke-width:0.45px">−</text><line x1="269.6" y1="255.2" x2="269.6" y2="252.2" stroke="#666" stroke-width="1"/><text x="269.6" y="266.7" text-anchor="middle" class="t">0.5</text><text x="261.2" y="267.6" text-anchor="end" class="t" style="stroke-width:0.45px">−</text><line x1="337.4" y1="255.2" x2="337.4" y2="252.2" stroke="#666" stroke-width="1"/><text x="336.4" y="266.7" text-anchor="middle" class="t">0</text><line x1="405.2" y1="255.2" x2="405.2" y2="252.2" stroke="#666" stroke-width="1"/><text x="404.2" y="266.7" text-anchor="middle" class="t">0.5</text><line x1="473.0" y1="255.2" x2="473.0" y2="252.2" stroke="#666" stroke-width="1"/><text x="472.0" y="266.7" text-anchor="middle" class="t">1</text><text transform="translate(15.0 216.7) rotate(-90)" text-anchor="middle" class="t">y coordinate&#160; (mm)</text><text transform="translate(28.4 217.2) rotate(-90) scale(1.5 1)" text-anchor="middle" class="t" style="fill:#555;stroke:#555;stroke-width:0.1px">→</text><text x="206.0" y="286.0" class="t">x coordinate&#160; (m)</text><text transform="translate(293.2 284.1) scale(1.5 1)" class="t" style="stroke-width:0.15px">→</text><text x="275.0" y="305.1" text-anchor="middle" class="t" style="font-size:15px">(<tspan font-weight="bold">b</tspan>)</text><rect x="487.2" y="163.7" width="9.6" height="111.9" fill="url(#jet)" stroke="#222" stroke-width="0.8"/><text x="498.6" y="279.6" class="t">0</text><line x1="487.2" y1="255.3" x2="489" y2="255.3" stroke="#222" stroke-width="0.7"/><line x1="495" y1="255.3" x2="496.8" y2="255.3" stroke="#222" stroke-width="0.7"/><text x="498.6" y="259.7" class="t">10</text><line x1="487.2" y1="235.4" x2="489" y2="235.4" stroke="#222" stroke-width="0.7"/><line x1="495" y1="235.4" x2="496.8" y2="235.4" stroke="#222" stroke-width="0.7"/><text x="498.6" y="239.8" class="t">20</text><line x1="487.2" y1="215.6" x2="489" y2="215.6" stroke="#222" stroke-width="0.7"/><line x1="495" y1="215.6" x2="496.8" y2="215.6" stroke="#222" stroke-width="0.7"/><text x="498.6" y="220.0" class="t">30</text><line x1="487.2" y1="195.7" x2="489" y2="195.7" stroke="#222" stroke-width="0.7"/><line x1="495" y1="195.7" x2="496.8" y2="195.7" stroke="#222" stroke-width="0.7"/><text x="498.6" y="200.1" class="t">40</text><line x1="487.2" y1="175.8" x2="489" y2="175.8" stroke="#222" stroke-width="0.7"/><line x1="495" y1="175.8" x2="496.8" y2="175.8" stroke="#222" stroke-width="0.7"/><text x="498.6" y="180.2" class="t">50</text><text transform="translate(528 219.7) rotate(-90)" text-anchor="middle" class="t">depth averaged&#160; velocity</text><text transform="translate(544 220.5) rotate(-90)" text-anchor="middle" class="t">(cm/s)</text><rect x="55.1" y="322.7" width="423.5" height="2.6" fill="#efefef"/><rect x="480.5" y="315.5" width="17.5" height="119.5" fill="#f3f3f3"/><rect x="478.6" y="322.7" width="2" height="85.3" fill="#f6f6f6"/><path d="M55.1 323.7 V408.0 H478.0" fill="none" stroke="#666" stroke-width="1"/><line x1="55.1" y1="325.7" x2="58.1" y2="325.7" stroke="#666" stroke-width="1"/><text x="52.6" y="331.5" text-anchor="end" class="t">300</text><line x1="55.1" y1="339.1" x2="58.1" y2="339.1" stroke="#666" stroke-width="1"/><text x="52.6" y="344.6" text-anchor="end" class="t">200</text><line x1="55.1" y1="352.6" x2="58.1" y2="352.6" stroke="#666" stroke-width="1"/><text x="52.6" y="357.7" text-anchor="end" class="t">100</text><line x1="55.1" y1="366.0" x2="58.1" y2="366.0" stroke="#666" stroke-width="1"/><text x="52.6" y="370.8" text-anchor="end" class="t">0</text><line x1="55.1" y1="379.5" x2="58.1" y2="379.5" stroke="#666" stroke-width="1"/><text x="52.6" y="383.9" text-anchor="end" class="t">−100</text><line x1="55.1" y1="392.9" x2="58.1" y2="392.9" stroke="#666" stroke-width="1"/><text x="52.6" y="397.0" text-anchor="end" class="t">−200</text><line x1="55.1" y1="406.4" x2="58.1" y2="406.4" stroke="#666" stroke-width="1"/><text x="52.6" y="410.1" text-anchor="end" class="t">−300</text><line x1="61.0" y1="408.0" x2="61.0" y2="405.0" stroke="#666" stroke-width="1"/><text x="61.0" y="420.2" text-anchor="middle" class="t">2</text><text x="57.3" y="421.1" text-anchor="end" class="t" style="stroke-width:0.45px">−</text><line x1="129.2" y1="408.0" x2="129.2" y2="405.0" stroke="#666" stroke-width="1"/><text x="129.2" y="420.2" text-anchor="middle" class="t">1.5</text><text x="120.8" y="421.1" text-anchor="end" class="t" style="stroke-width:0.45px">−</text><line x1="197.5" y1="408.0" x2="197.5" y2="405.0" stroke="#666" stroke-width="1"/><text x="197.5" y="420.2" text-anchor="middle" class="t">1</text><text x="193.8" y="421.1" text-anchor="end" class="t" style="stroke-width:0.45px">−</text><line x1="265.8" y1="408.0" x2="265.8" y2="405.0" stroke="#666" stroke-width="1"/><text x="265.8" y="420.2" text-anchor="middle" class="t">0.5</text><text x="257.3" y="421.1" text-anchor="end" class="t" style="stroke-width:0.45px">−</text><line x1="334.0" y1="408.0" x2="334.0" y2="405.0" stroke="#666" stroke-width="1"/><text x="333.0" y="420.2" text-anchor="middle" class="t">0</text><line x1="402.2" y1="408.0" x2="402.2" y2="405.0" stroke="#666" stroke-width="1"/><text x="401.2" y="420.2" text-anchor="middle" class="t">0.5</text><line x1="470.5" y1="408.0" x2="470.5" y2="405.0" stroke="#666" stroke-width="1"/><text x="469.5" y="420.2" text-anchor="middle" class="t">1</text><text transform="translate(15.0 371.0) rotate(-90)" text-anchor="middle" class="t">y coordinate&#160; (mm)</text><text transform="translate(28.4 371.5) rotate(-90) scale(1.5 1)" text-anchor="middle" class="t" style="fill:#555;stroke:#555;stroke-width:0.1px">→</text><text x="201.6" y="440.0" class="t">x coordinate&#160; (m)</text><text transform="translate(288.8 438.1) scale(1.5 1)" class="t" style="stroke-width:0.15px">→</text><text x="275.0" y="460.0" text-anchor="middle" class="t" style="font-size:15px">(<tspan font-weight="bold">c</tspan>)</text><rect x="487.2" y="319.0" width="9.6" height="112.6" fill="url(#jet)" stroke="#222" stroke-width="0.8"/><text x="498.6" y="435.6" class="t">0</text><line x1="487.2" y1="411.2" x2="489" y2="411.2" stroke="#222" stroke-width="0.7"/><line x1="495" y1="411.2" x2="496.8" y2="411.2" stroke="#222" stroke-width="0.7"/><text x="498.6" y="415.6" class="t">10</text><line x1="487.2" y1="391.2" x2="489" y2="391.2" stroke="#222" stroke-width="0.7"/><line x1="495" y1="391.2" x2="496.8" y2="391.2" stroke="#222" stroke-width="0.7"/><text x="498.6" y="395.6" class="t">20</text><line x1="487.2" y1="371.2" x2="489" y2="371.2" stroke="#222" stroke-width="0.7"/><line x1="495" y1="371.2" x2="496.8" y2="371.2" stroke="#222" stroke-width="0.7"/><text x="498.6" y="375.6" class="t">30</text><line x1="487.2" y1="351.2" x2="489" y2="351.2" stroke="#222" stroke-width="0.7"/><line x1="495" y1="351.2" x2="496.8" y2="351.2" stroke="#222" stroke-width="0.7"/><text x="498.6" y="355.6" class="t">40</text><line x1="487.2" y1="331.2" x2="489" y2="331.2" stroke="#222" stroke-width="0.7"/><line x1="495" y1="331.2" x2="496.8" y2="331.2" stroke="#222" stroke-width="0.7"/><text x="498.6" y="335.6" class="t">50</text><text transform="translate(528 375.3) rotate(-90)" text-anchor="middle" class="t">depth averaged&#160; velocity</text><text transform="translate(544 376.1) rotate(-90)" text-anchor="middle" class="t">(cm/s)</text></svg>
</body></html>
